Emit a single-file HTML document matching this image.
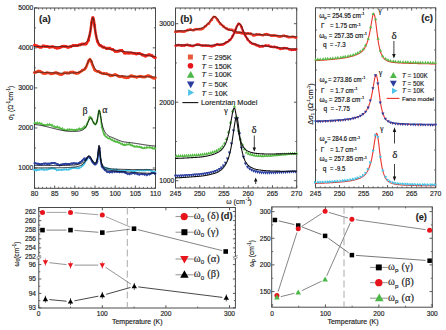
<!DOCTYPE html>
<html><head><meta charset="utf-8"><style>
html,body{margin:0;padding:0;background:#fff;width:446px;height:330px;overflow:hidden}
svg{display:block}
text{stroke:#222;stroke-width:0.16px;stroke-linejoin:round}
</style></head><body>
<svg width="446" height="330" viewBox="0 0 446 330">
<rect width="446" height="330" fill="#fff"/>
<rect x="34.50" y="8.00" width="121.00" height="180.30" fill="none" stroke="#4a4a4a" stroke-width="1"/>
<line x1="38.53" y1="188.30" x2="38.53" y2="186.80" stroke="#4a4a4a" stroke-width="0.8" />
<line x1="38.53" y1="8.00" x2="38.53" y2="9.50" stroke="#4a4a4a" stroke-width="0.8" />
<line x1="42.57" y1="188.30" x2="42.57" y2="186.80" stroke="#4a4a4a" stroke-width="0.8" />
<line x1="42.57" y1="8.00" x2="42.57" y2="9.50" stroke="#4a4a4a" stroke-width="0.8" />
<line x1="46.60" y1="188.30" x2="46.60" y2="186.80" stroke="#4a4a4a" stroke-width="0.8" />
<line x1="46.60" y1="8.00" x2="46.60" y2="9.50" stroke="#4a4a4a" stroke-width="0.8" />
<line x1="50.63" y1="188.30" x2="50.63" y2="186.80" stroke="#4a4a4a" stroke-width="0.8" />
<line x1="50.63" y1="8.00" x2="50.63" y2="9.50" stroke="#4a4a4a" stroke-width="0.8" />
<line x1="58.70" y1="188.30" x2="58.70" y2="186.80" stroke="#4a4a4a" stroke-width="0.8" />
<line x1="58.70" y1="8.00" x2="58.70" y2="9.50" stroke="#4a4a4a" stroke-width="0.8" />
<line x1="62.73" y1="188.30" x2="62.73" y2="186.80" stroke="#4a4a4a" stroke-width="0.8" />
<line x1="62.73" y1="8.00" x2="62.73" y2="9.50" stroke="#4a4a4a" stroke-width="0.8" />
<line x1="66.77" y1="188.30" x2="66.77" y2="186.80" stroke="#4a4a4a" stroke-width="0.8" />
<line x1="66.77" y1="8.00" x2="66.77" y2="9.50" stroke="#4a4a4a" stroke-width="0.8" />
<line x1="70.80" y1="188.30" x2="70.80" y2="186.80" stroke="#4a4a4a" stroke-width="0.8" />
<line x1="70.80" y1="8.00" x2="70.80" y2="9.50" stroke="#4a4a4a" stroke-width="0.8" />
<line x1="78.87" y1="188.30" x2="78.87" y2="186.80" stroke="#4a4a4a" stroke-width="0.8" />
<line x1="78.87" y1="8.00" x2="78.87" y2="9.50" stroke="#4a4a4a" stroke-width="0.8" />
<line x1="82.90" y1="188.30" x2="82.90" y2="186.80" stroke="#4a4a4a" stroke-width="0.8" />
<line x1="82.90" y1="8.00" x2="82.90" y2="9.50" stroke="#4a4a4a" stroke-width="0.8" />
<line x1="86.93" y1="188.30" x2="86.93" y2="186.80" stroke="#4a4a4a" stroke-width="0.8" />
<line x1="86.93" y1="8.00" x2="86.93" y2="9.50" stroke="#4a4a4a" stroke-width="0.8" />
<line x1="90.97" y1="188.30" x2="90.97" y2="186.80" stroke="#4a4a4a" stroke-width="0.8" />
<line x1="90.97" y1="8.00" x2="90.97" y2="9.50" stroke="#4a4a4a" stroke-width="0.8" />
<line x1="99.03" y1="188.30" x2="99.03" y2="186.80" stroke="#4a4a4a" stroke-width="0.8" />
<line x1="99.03" y1="8.00" x2="99.03" y2="9.50" stroke="#4a4a4a" stroke-width="0.8" />
<line x1="103.07" y1="188.30" x2="103.07" y2="186.80" stroke="#4a4a4a" stroke-width="0.8" />
<line x1="103.07" y1="8.00" x2="103.07" y2="9.50" stroke="#4a4a4a" stroke-width="0.8" />
<line x1="107.10" y1="188.30" x2="107.10" y2="186.80" stroke="#4a4a4a" stroke-width="0.8" />
<line x1="107.10" y1="8.00" x2="107.10" y2="9.50" stroke="#4a4a4a" stroke-width="0.8" />
<line x1="111.13" y1="188.30" x2="111.13" y2="186.80" stroke="#4a4a4a" stroke-width="0.8" />
<line x1="111.13" y1="8.00" x2="111.13" y2="9.50" stroke="#4a4a4a" stroke-width="0.8" />
<line x1="119.20" y1="188.30" x2="119.20" y2="186.80" stroke="#4a4a4a" stroke-width="0.8" />
<line x1="119.20" y1="8.00" x2="119.20" y2="9.50" stroke="#4a4a4a" stroke-width="0.8" />
<line x1="123.23" y1="188.30" x2="123.23" y2="186.80" stroke="#4a4a4a" stroke-width="0.8" />
<line x1="123.23" y1="8.00" x2="123.23" y2="9.50" stroke="#4a4a4a" stroke-width="0.8" />
<line x1="127.27" y1="188.30" x2="127.27" y2="186.80" stroke="#4a4a4a" stroke-width="0.8" />
<line x1="127.27" y1="8.00" x2="127.27" y2="9.50" stroke="#4a4a4a" stroke-width="0.8" />
<line x1="131.30" y1="188.30" x2="131.30" y2="186.80" stroke="#4a4a4a" stroke-width="0.8" />
<line x1="131.30" y1="8.00" x2="131.30" y2="9.50" stroke="#4a4a4a" stroke-width="0.8" />
<line x1="139.37" y1="188.30" x2="139.37" y2="186.80" stroke="#4a4a4a" stroke-width="0.8" />
<line x1="139.37" y1="8.00" x2="139.37" y2="9.50" stroke="#4a4a4a" stroke-width="0.8" />
<line x1="143.40" y1="188.30" x2="143.40" y2="186.80" stroke="#4a4a4a" stroke-width="0.8" />
<line x1="143.40" y1="8.00" x2="143.40" y2="9.50" stroke="#4a4a4a" stroke-width="0.8" />
<line x1="147.43" y1="188.30" x2="147.43" y2="186.80" stroke="#4a4a4a" stroke-width="0.8" />
<line x1="147.43" y1="8.00" x2="147.43" y2="9.50" stroke="#4a4a4a" stroke-width="0.8" />
<line x1="151.47" y1="188.30" x2="151.47" y2="186.80" stroke="#4a4a4a" stroke-width="0.8" />
<line x1="151.47" y1="8.00" x2="151.47" y2="9.50" stroke="#4a4a4a" stroke-width="0.8" />
<line x1="34.50" y1="188.30" x2="34.50" y2="185.50" stroke="#4a4a4a" stroke-width="0.9" />
<line x1="34.50" y1="8.00" x2="34.50" y2="10.80" stroke="#4a4a4a" stroke-width="0.9" />
<text x="34.50" y="196.00" font-size="6.8" text-anchor="middle" font-weight="normal" font-style="normal" fill="#222" font-family='"Liberation Sans", sans-serif' >80</text>
<line x1="54.67" y1="188.30" x2="54.67" y2="185.50" stroke="#4a4a4a" stroke-width="0.9" />
<line x1="54.67" y1="8.00" x2="54.67" y2="10.80" stroke="#4a4a4a" stroke-width="0.9" />
<text x="54.67" y="196.00" font-size="6.8" text-anchor="middle" font-weight="normal" font-style="normal" fill="#222" font-family='"Liberation Sans", sans-serif' >85</text>
<line x1="74.83" y1="188.30" x2="74.83" y2="185.50" stroke="#4a4a4a" stroke-width="0.9" />
<line x1="74.83" y1="8.00" x2="74.83" y2="10.80" stroke="#4a4a4a" stroke-width="0.9" />
<text x="74.83" y="196.00" font-size="6.8" text-anchor="middle" font-weight="normal" font-style="normal" fill="#222" font-family='"Liberation Sans", sans-serif' >90</text>
<line x1="95.00" y1="188.30" x2="95.00" y2="185.50" stroke="#4a4a4a" stroke-width="0.9" />
<line x1="95.00" y1="8.00" x2="95.00" y2="10.80" stroke="#4a4a4a" stroke-width="0.9" />
<text x="95.00" y="196.00" font-size="6.8" text-anchor="middle" font-weight="normal" font-style="normal" fill="#222" font-family='"Liberation Sans", sans-serif' >95</text>
<line x1="115.17" y1="188.30" x2="115.17" y2="185.50" stroke="#4a4a4a" stroke-width="0.9" />
<line x1="115.17" y1="8.00" x2="115.17" y2="10.80" stroke="#4a4a4a" stroke-width="0.9" />
<text x="115.17" y="196.00" font-size="6.8" text-anchor="middle" font-weight="normal" font-style="normal" fill="#222" font-family='"Liberation Sans", sans-serif' >100</text>
<line x1="135.33" y1="188.30" x2="135.33" y2="185.50" stroke="#4a4a4a" stroke-width="0.9" />
<line x1="135.33" y1="8.00" x2="135.33" y2="10.80" stroke="#4a4a4a" stroke-width="0.9" />
<text x="135.33" y="196.00" font-size="6.8" text-anchor="middle" font-weight="normal" font-style="normal" fill="#222" font-family='"Liberation Sans", sans-serif' >105</text>
<line x1="155.50" y1="188.30" x2="155.50" y2="185.50" stroke="#4a4a4a" stroke-width="0.9" />
<line x1="155.50" y1="8.00" x2="155.50" y2="10.80" stroke="#4a4a4a" stroke-width="0.9" />
<text x="155.50" y="196.00" font-size="6.8" text-anchor="middle" font-weight="normal" font-style="normal" fill="#222" font-family='"Liberation Sans", sans-serif' >110</text>
<line x1="34.50" y1="188.03" x2="36.00" y2="188.03" stroke="#4a4a4a" stroke-width="0.8" />
<line x1="155.50" y1="188.03" x2="154.00" y2="188.03" stroke="#4a4a4a" stroke-width="0.8" />
<line x1="34.50" y1="147.98" x2="36.00" y2="147.98" stroke="#4a4a4a" stroke-width="0.8" />
<line x1="155.50" y1="147.98" x2="154.00" y2="147.98" stroke="#4a4a4a" stroke-width="0.8" />
<line x1="34.50" y1="107.92" x2="36.00" y2="107.92" stroke="#4a4a4a" stroke-width="0.8" />
<line x1="155.50" y1="107.92" x2="154.00" y2="107.92" stroke="#4a4a4a" stroke-width="0.8" />
<line x1="34.50" y1="67.88" x2="36.00" y2="67.88" stroke="#4a4a4a" stroke-width="0.8" />
<line x1="155.50" y1="67.88" x2="154.00" y2="67.88" stroke="#4a4a4a" stroke-width="0.8" />
<line x1="34.50" y1="27.83" x2="36.00" y2="27.83" stroke="#4a4a4a" stroke-width="0.8" />
<line x1="155.50" y1="27.83" x2="154.00" y2="27.83" stroke="#4a4a4a" stroke-width="0.8" />
<line x1="34.50" y1="168.00" x2="37.30" y2="168.00" stroke="#4a4a4a" stroke-width="0.9" />
<line x1="155.50" y1="168.00" x2="152.70" y2="168.00" stroke="#4a4a4a" stroke-width="0.9" />
<text x="33.30" y="170.45" font-size="6.8" text-anchor="end" font-weight="normal" font-style="normal" fill="#222" font-family='"Liberation Sans", sans-serif' >1000</text>
<line x1="34.50" y1="127.95" x2="37.30" y2="127.95" stroke="#4a4a4a" stroke-width="0.9" />
<line x1="155.50" y1="127.95" x2="152.70" y2="127.95" stroke="#4a4a4a" stroke-width="0.9" />
<text x="33.30" y="130.40" font-size="6.8" text-anchor="end" font-weight="normal" font-style="normal" fill="#222" font-family='"Liberation Sans", sans-serif' >2000</text>
<line x1="34.50" y1="87.90" x2="37.30" y2="87.90" stroke="#4a4a4a" stroke-width="0.9" />
<line x1="155.50" y1="87.90" x2="152.70" y2="87.90" stroke="#4a4a4a" stroke-width="0.9" />
<text x="33.30" y="90.35" font-size="6.8" text-anchor="end" font-weight="normal" font-style="normal" fill="#222" font-family='"Liberation Sans", sans-serif' >3000</text>
<line x1="34.50" y1="47.85" x2="37.30" y2="47.85" stroke="#4a4a4a" stroke-width="0.9" />
<line x1="155.50" y1="47.85" x2="152.70" y2="47.85" stroke="#4a4a4a" stroke-width="0.9" />
<text x="33.30" y="50.30" font-size="6.8" text-anchor="end" font-weight="normal" font-style="normal" fill="#222" font-family='"Liberation Sans", sans-serif' >4000</text>
<line x1="34.50" y1="7.80" x2="37.30" y2="7.80" stroke="#4a4a4a" stroke-width="0.9" />
<line x1="155.50" y1="7.80" x2="152.70" y2="7.80" stroke="#4a4a4a" stroke-width="0.9" />
<text x="33.30" y="10.25" font-size="6.8" text-anchor="end" font-weight="normal" font-style="normal" fill="#222" font-family='"Liberation Sans", sans-serif' >5000</text>
<text x="39.00" y="21.70" font-size="9.6" text-anchor="start" font-weight="bold" font-style="normal" fill="#222" font-family='"Liberation Sans", sans-serif' >(a)</text>
<text transform="translate(12.8,120.3) rotate(-90)" font-size="7.4" textLength="34.5" lengthAdjust="spacingAndGlyphs" font-family='"Liberation Sans", sans-serif' fill="#222">σ<tspan font-size="4.8" dy="1.6">1</tspan><tspan dy="-1.6"> (Ω</tspan><tspan font-size="4.8" dy="-2.8">-1</tspan><tspan dy="2.8">cm</tspan><tspan font-size="4.8" dy="-2.8">-1</tspan><tspan dy="2.8">)</tspan></text>
<polyline points="34.50,45.18 35.00,45.47 35.50,45.20 36.00,45.60 36.50,45.52 37.00,45.76 37.50,46.23 38.00,46.74 38.50,46.46 39.00,46.71 39.50,47.11 40.00,47.40 40.50,47.14 41.00,46.97 41.50,47.29 42.00,46.52 42.50,46.96 43.00,46.43 43.50,46.22 44.00,46.12 44.50,46.22 45.00,46.57 45.50,46.17 46.00,46.52 46.50,46.66 47.00,46.58 47.50,46.80 48.00,46.55 48.50,46.62 49.00,46.76 49.50,47.09 50.00,46.90 50.50,46.78 51.00,46.91 51.50,46.77 52.00,46.63 52.50,46.97 53.00,46.94 53.50,46.70 54.00,47.05 54.50,47.18 55.00,47.61 55.50,47.72 56.00,47.61 56.50,48.28 57.00,47.83 57.50,48.13 58.00,48.39 58.50,47.92 59.00,48.04 59.50,47.54 60.00,47.74 60.50,47.52 61.00,47.09 61.50,47.01 62.00,46.34 62.50,46.38 63.00,46.15 63.50,46.05 64.00,45.94 64.50,46.26 65.00,46.45 65.50,46.28 66.00,46.60 66.50,46.37 67.00,47.00 67.50,47.11 68.00,47.46 68.50,47.38 69.00,46.99 69.50,46.98 70.00,47.06 70.50,46.43 71.00,46.53 71.50,46.11 72.00,45.86 72.50,45.63 73.00,45.97 73.50,45.41 74.00,45.41 74.50,45.46 75.00,45.78 75.50,45.23 76.00,45.49 76.50,45.56 77.00,45.77 77.50,45.68 78.00,45.63 78.50,45.10 79.00,45.06 79.50,44.86 80.00,45.06 80.50,44.95 81.00,44.23 81.50,44.12 82.00,44.06 82.50,44.03 83.00,44.21 83.50,44.30 84.00,44.09 84.50,43.90 85.00,44.13 85.50,43.95 86.00,43.83 86.50,43.69 87.00,42.92 87.50,41.99 88.00,41.00 88.50,39.67 89.00,37.52 89.50,36.00 90.00,33.36 90.50,30.41 91.00,26.93 91.50,23.06 92.00,19.81 92.50,17.42 93.00,17.36 93.50,18.46 94.00,21.46 94.50,25.28 95.00,29.03 95.50,32.61 96.00,35.36 96.50,37.78 97.00,39.86 97.50,41.41 98.00,42.83 98.50,43.55 99.00,44.88 99.50,45.26 100.00,45.35 100.50,45.76 101.00,46.09 101.50,46.33 102.00,46.37 102.50,47.09 103.00,47.40 103.50,47.25 104.00,47.48 104.50,47.40 105.00,47.60 105.50,47.93 106.00,48.01 106.50,48.50 107.00,48.10 107.50,48.05 108.00,48.71 108.50,48.42 109.00,48.16 109.50,48.47 110.00,48.16 110.50,48.61 111.00,49.08 111.50,49.19 112.00,49.32 112.50,49.31 113.00,49.70 113.50,49.89 114.00,50.63 114.50,50.75 115.00,51.18 115.50,51.05 116.00,51.10 116.50,51.56 117.00,51.67 117.50,51.51 118.00,51.36 118.50,51.23 119.00,51.03 119.50,50.55 120.00,50.67 120.50,50.53 121.00,50.34 121.50,50.44 122.00,50.79 122.50,51.02 123.00,51.61 123.50,52.10 124.00,52.07 124.50,52.72 125.00,53.03 125.50,53.24 126.00,53.01 126.50,53.03 127.00,53.10 127.50,53.08 128.00,53.04 128.50,53.26 129.00,53.37 129.50,53.23 130.00,52.91 130.50,52.98 131.00,53.07 131.50,52.59 132.00,53.05 132.50,53.31 133.00,53.32 133.50,53.41 134.00,53.33 134.50,53.21 135.00,53.70 135.50,53.42 136.00,53.76 136.50,53.86 137.00,53.43 137.50,53.39 138.00,53.74 138.50,53.58 139.00,53.21 139.50,53.25 140.00,53.39 140.50,54.09 141.00,54.24 141.50,54.03 142.00,54.79 142.50,55.18 143.00,55.22 143.50,55.24 144.00,55.57 144.50,55.41 145.00,55.39 145.50,56.05 146.00,55.76 146.50,55.55 147.00,55.68 147.50,55.17 148.00,55.32 148.50,55.16 149.00,54.65 149.50,54.67 150.00,54.75 150.50,54.85 151.00,55.30 151.50,55.34 152.00,55.77 152.50,55.91 153.00,56.81 153.50,56.75 154.00,57.12 154.50,57.46 155.00,57.87 155.50,57.66" fill="none" stroke="#f02418" stroke-width="2.6" stroke-linejoin="round" stroke-linecap="round" />
<rect x="33.45" y="43.89" width="2.60" height="2.60" fill="#f02418"/>
<rect x="36.22" y="44.95" width="2.60" height="2.60" fill="#f02418"/>
<rect x="38.91" y="45.80" width="2.60" height="2.60" fill="#f02418"/>
<rect x="42.01" y="44.52" width="2.60" height="2.60" fill="#f02418"/>
<rect x="45.38" y="45.09" width="2.60" height="2.60" fill="#f02418"/>
<rect x="48.18" y="45.97" width="2.60" height="2.60" fill="#f02418"/>
<rect x="51.23" y="45.54" width="2.60" height="2.60" fill="#f02418"/>
<rect x="54.21" y="46.46" width="2.60" height="2.60" fill="#f02418"/>
<rect x="57.37" y="46.31" width="2.60" height="2.60" fill="#f02418"/>
<rect x="60.24" y="45.50" width="2.60" height="2.60" fill="#f02418"/>
<rect x="63.07" y="45.18" width="2.60" height="2.60" fill="#f02418"/>
<rect x="66.20" y="45.86" width="2.60" height="2.60" fill="#f02418"/>
<rect x="69.36" y="45.46" width="2.60" height="2.60" fill="#f02418"/>
<rect x="72.17" y="44.20" width="2.60" height="2.60" fill="#f02418"/>
<rect x="75.20" y="44.27" width="2.60" height="2.60" fill="#f02418"/>
<rect x="78.32" y="43.52" width="2.60" height="2.60" fill="#f02418"/>
<rect x="81.22" y="42.72" width="2.60" height="2.60" fill="#f02418"/>
<rect x="84.46" y="42.81" width="2.60" height="2.60" fill="#f02418"/>
<rect x="87.43" y="38.73" width="2.60" height="2.60" fill="#f02418"/>
<rect x="90.06" y="21.80" width="2.60" height="2.60" fill="#f02418"/>
<rect x="93.47" y="24.25" width="2.60" height="2.60" fill="#f02418"/>
<rect x="95.98" y="39.81" width="2.60" height="2.60" fill="#f02418"/>
<rect x="99.17" y="44.11" width="2.60" height="2.60" fill="#f02418"/>
<rect x="102.04" y="45.61" width="2.60" height="2.60" fill="#f02418"/>
<rect x="105.30" y="47.43" width="2.60" height="2.60" fill="#f02418"/>
<rect x="108.44" y="46.89" width="2.60" height="2.60" fill="#f02418"/>
<rect x="111.33" y="48.14" width="2.60" height="2.60" fill="#f02418"/>
<rect x="113.99" y="50.06" width="2.60" height="2.60" fill="#f02418"/>
<rect x="117.48" y="49.70" width="2.60" height="2.60" fill="#f02418"/>
<rect x="120.47" y="49.06" width="2.60" height="2.60" fill="#f02418"/>
<rect x="123.19" y="51.81" width="2.60" height="2.60" fill="#f02418"/>
<rect x="126.40" y="51.51" width="2.60" height="2.60" fill="#f02418"/>
<rect x="129.16" y="51.69" width="2.60" height="2.60" fill="#f02418"/>
<rect x="132.10" y="51.87" width="2.60" height="2.60" fill="#f02418"/>
<rect x="135.09" y="52.74" width="2.60" height="2.60" fill="#f02418"/>
<rect x="137.91" y="52.00" width="2.60" height="2.60" fill="#f02418"/>
<rect x="141.16" y="53.49" width="2.60" height="2.60" fill="#f02418"/>
<rect x="144.10" y="54.85" width="2.60" height="2.60" fill="#f02418"/>
<rect x="147.21" y="53.51" width="2.60" height="2.60" fill="#f02418"/>
<rect x="150.49" y="54.27" width="2.60" height="2.60" fill="#f02418"/>
<rect x="153.48" y="55.84" width="2.60" height="2.60" fill="#f02418"/>
<polyline points="34.50,46.53 35.00,46.53 35.50,46.53 36.00,46.53 36.50,46.53 37.00,46.53 37.50,46.53 38.00,46.53 38.50,46.53 39.00,46.53 39.50,46.54 40.00,46.54 40.50,46.54 41.00,46.54 41.50,46.54 42.00,46.54 42.50,46.54 43.00,46.54 43.50,46.54 44.00,46.54 44.50,46.54 45.00,46.55 45.50,46.55 46.00,46.55 46.50,46.55 47.00,46.55 47.50,46.55 48.00,46.55 48.50,46.55 49.00,46.55 49.50,46.55 50.00,46.55 50.50,46.55 51.00,46.56 51.50,46.56 52.00,46.56 52.50,46.56 53.00,46.56 53.50,46.56 54.00,46.56 54.50,46.55 55.00,46.55 55.50,46.55 56.00,46.55 56.50,46.55 57.00,46.55 57.50,46.55 58.00,46.55 58.50,46.54 59.00,46.54 59.50,46.54 60.00,46.53 60.50,46.53 61.00,46.53 61.50,46.52 62.00,46.52 62.50,46.51 63.00,46.51 63.50,46.50 64.00,46.49 64.50,46.49 65.00,46.48 65.50,46.47 66.00,46.46 66.50,46.45 67.00,46.44 67.50,46.43 68.00,46.41 68.50,46.40 69.00,46.38 69.50,46.37 70.00,46.35 70.50,46.32 71.00,46.29 71.50,46.25 72.00,46.22 72.50,46.17 73.00,46.13 73.50,46.08 74.00,46.03 74.50,45.97 75.00,45.91 75.50,45.85 76.00,45.79 76.50,45.71 77.00,45.64 77.50,45.56 78.00,45.48 78.50,45.39 79.00,45.29 79.50,45.19 80.00,45.07 80.50,44.95 81.00,44.82 81.50,44.67 82.00,44.51 82.50,44.37 83.00,44.22 83.50,44.03 84.00,43.82 84.50,43.56 85.00,43.26 85.50,42.90 86.00,42.47 86.50,41.95 87.00,41.30 87.50,40.52 88.00,39.54 88.50,38.33 89.00,36.83 89.50,34.95 90.00,32.64 90.50,29.86 91.00,26.64 91.50,23.21 92.00,20.05 92.50,17.89 93.00,17.40 93.50,18.79 94.00,21.61 94.50,25.13 95.00,28.69 95.50,31.92 96.00,34.67 96.50,36.96 97.00,38.84 97.50,40.38 98.00,41.64 98.50,42.68 99.00,43.54 99.50,44.27 100.00,44.88 100.50,45.41 101.00,45.86 101.50,46.25 102.00,46.60 102.50,46.90 103.00,47.16 103.50,47.39 104.00,47.60 104.50,47.79 105.00,47.95 105.50,48.10 106.00,48.23 106.50,48.36 107.00,48.49 107.50,48.61 108.00,48.72 108.50,48.83 109.00,48.94 109.50,49.05 110.00,49.16 110.50,49.26 111.00,49.37 111.50,49.47 112.00,49.57 112.50,49.68 113.00,49.78 113.50,49.88 114.00,49.97 114.50,50.07 115.00,50.17 115.50,50.26 116.00,50.36 116.50,50.45 117.00,50.54 117.50,50.62 118.00,50.71 118.50,50.79 119.00,50.87 119.50,50.95 120.00,51.02 120.50,51.09 121.00,51.16 121.50,51.22 122.00,51.29 122.50,51.34 123.00,51.40 123.50,51.44 124.00,51.49 124.50,51.53 125.00,51.57 125.50,51.62 126.00,51.67 126.50,51.72 127.00,51.78 127.50,51.84 128.00,51.90 128.50,51.97 129.00,52.03 129.50,52.10 130.00,52.18 130.50,52.25 131.00,52.33 131.50,52.41 132.00,52.49 132.50,52.58 133.00,52.67 133.50,52.75 134.00,52.85 134.50,52.94 135.00,53.03 135.50,53.13 136.00,53.23 136.50,53.33 137.00,53.43 137.50,53.53 138.00,53.63 138.50,53.73 139.00,53.83 139.50,53.94 140.00,54.04 140.50,54.14 141.00,54.25 141.50,54.35 142.00,54.46 142.50,54.56 143.00,54.66 143.50,54.76 144.00,54.86 144.50,54.96 145.00,55.06 145.50,55.15 146.00,55.25 146.50,55.34 147.00,55.43 147.50,55.52 148.00,55.61 148.50,55.69 149.00,55.78 149.50,55.86 150.00,55.93 150.50,56.01 151.00,56.08 151.50,56.15 152.00,56.22 152.50,56.28 153.00,56.34 153.50,56.40 154.00,56.45 154.50,56.50 155.00,56.55 155.50,56.60" fill="none" stroke="#222" stroke-width="0.75" stroke-linejoin="round" stroke-linecap="round" />
<polyline points="34.50,72.70 35.00,72.62 35.50,72.15 36.00,71.93 36.50,72.29 37.00,71.83 37.50,71.70 38.00,71.09 38.50,70.93 39.00,71.30 39.50,71.14 40.00,71.01 40.50,71.82 41.00,71.88 41.50,72.32 42.00,72.15 42.50,73.02 43.00,72.75 43.50,73.53 44.00,73.40 44.50,73.39 45.00,73.54 45.50,73.75 46.00,73.20 46.50,73.01 47.00,73.21 47.50,72.95 48.00,72.86 48.50,72.94 49.00,72.95 49.50,73.18 50.00,73.39 50.50,73.52 51.00,73.94 51.50,73.66 52.00,73.80 52.50,73.51 53.00,73.51 53.50,73.11 54.00,73.09 54.50,72.75 55.00,73.11 55.50,72.89 56.00,72.61 56.50,72.87 57.00,73.33 57.50,72.96 58.00,73.71 58.50,73.71 59.00,74.01 59.50,74.47 60.00,74.31 60.50,74.47 61.00,74.59 61.50,74.70 62.00,74.09 62.50,74.21 63.00,73.88 63.50,73.59 64.00,73.22 64.50,73.00 65.00,72.68 65.50,72.68 66.00,72.63 66.50,73.13 67.00,72.84 67.50,72.82 68.00,72.78 68.50,73.30 69.00,73.25 69.50,73.00 70.00,72.57 70.50,72.36 71.00,72.22 71.50,72.17 72.00,71.85 72.50,72.00 73.00,71.90 73.50,72.49 74.00,72.67 74.50,72.59 75.00,72.63 75.50,73.39 76.00,73.15 76.50,73.34 77.00,73.17 77.50,73.42 78.00,73.37 78.50,73.19 79.00,72.70 79.50,72.58 80.00,71.87 80.50,71.70 81.00,71.23 81.50,71.13 82.00,70.60 82.50,70.32 83.00,70.26 83.50,69.92 84.00,69.83 84.50,69.37 85.00,68.97 85.50,68.20 86.00,67.38 86.50,66.45 87.00,64.92 87.50,63.57 88.00,62.70 88.50,60.88 89.00,60.27 89.50,59.58 90.00,59.03 90.50,59.99 91.00,60.92 91.50,61.99 92.00,63.50 92.50,65.04 93.00,65.98 93.50,67.50 94.00,68.53 94.50,69.60 95.00,70.21 95.50,70.68 96.00,70.83 96.50,71.26 97.00,71.26 97.50,71.40 98.00,71.21 98.50,71.24 99.00,71.51 99.50,71.92 100.00,72.01 100.50,72.81 101.00,72.89 101.50,73.20 102.00,73.42 102.50,73.61 103.00,73.58 103.50,73.29 104.00,73.86 104.50,73.82 105.00,73.64 105.50,73.68 106.00,73.83 106.50,73.54 107.00,74.19 107.50,74.08 108.00,74.23 108.50,74.66 109.00,75.27 109.50,75.16 110.00,75.73 110.50,76.02 111.00,75.73 111.50,75.61 112.00,75.57 112.50,75.55 113.00,75.42 113.50,75.13 114.00,75.00 114.50,74.51 115.00,74.54 115.50,74.68 116.00,75.17 116.50,75.07 117.00,75.52 117.50,75.41 118.00,75.73 118.50,76.13 119.00,76.61 119.50,76.77 120.00,76.85 120.50,76.60 121.00,76.73 121.50,76.66 122.00,76.62 122.50,76.36 123.00,76.93 123.50,76.51 124.00,77.17 124.50,77.30 125.00,76.84 125.50,77.33 126.00,77.75 126.50,77.97 127.00,77.65 127.50,77.50 128.00,77.34 128.50,77.67 129.00,76.91 129.50,76.89 130.00,76.30 130.50,76.30 131.00,76.39 131.50,75.68 132.00,76.10 132.50,75.91 133.00,76.28 133.50,76.32 134.00,76.20 134.50,76.88 135.00,76.79 135.50,76.63 136.00,76.72 136.50,77.10 137.00,77.04 137.50,76.86 138.00,76.63 138.50,76.64 139.00,76.50 139.50,76.78 140.00,76.14 140.50,76.67 141.00,76.78 141.50,76.37 142.00,77.05 142.50,77.02 143.00,77.25 143.50,76.87 144.00,76.93 144.50,76.87 145.00,77.17 145.50,76.69 146.00,76.32 146.50,76.14 147.00,75.83 147.50,75.51 148.00,75.46 148.50,75.97 149.00,75.67 149.50,76.31 150.00,76.08 150.50,76.39 151.00,76.88 151.50,76.97 152.00,77.38 152.50,78.01 153.00,78.11 153.50,78.13 154.00,78.01 154.50,78.16 155.00,78.09 155.50,77.71" fill="none" stroke="#f0401e" stroke-width="2.6" stroke-linejoin="round" stroke-linecap="round" />
<circle cx="34.63" cy="72.34" r="1.35" fill="#f0401e"/>
<circle cx="37.64" cy="71.66" r="1.35" fill="#f0401e"/>
<circle cx="40.65" cy="71.94" r="1.35" fill="#f0401e"/>
<circle cx="43.37" cy="73.17" r="1.35" fill="#f0401e"/>
<circle cx="46.76" cy="72.71" r="1.35" fill="#f0401e"/>
<circle cx="49.48" cy="73.05" r="1.35" fill="#f0401e"/>
<circle cx="52.38" cy="73.70" r="1.35" fill="#f0401e"/>
<circle cx="55.79" cy="72.70" r="1.35" fill="#f0401e"/>
<circle cx="58.59" cy="73.55" r="1.35" fill="#f0401e"/>
<circle cx="61.53" cy="74.62" r="1.35" fill="#f0401e"/>
<circle cx="64.30" cy="72.73" r="1.35" fill="#f0401e"/>
<circle cx="67.32" cy="73.14" r="1.35" fill="#f0401e"/>
<circle cx="70.50" cy="72.14" r="1.35" fill="#f0401e"/>
<circle cx="73.74" cy="72.89" r="1.35" fill="#f0401e"/>
<circle cx="76.47" cy="73.05" r="1.35" fill="#f0401e"/>
<circle cx="79.32" cy="72.25" r="1.35" fill="#f0401e"/>
<circle cx="82.41" cy="69.99" r="1.35" fill="#f0401e"/>
<circle cx="85.34" cy="68.01" r="1.35" fill="#f0401e"/>
<circle cx="88.54" cy="61.19" r="1.35" fill="#f0401e"/>
<circle cx="91.65" cy="61.92" r="1.35" fill="#f0401e"/>
<circle cx="94.45" cy="69.62" r="1.35" fill="#f0401e"/>
<circle cx="97.43" cy="71.27" r="1.35" fill="#f0401e"/>
<circle cx="100.24" cy="72.63" r="1.35" fill="#f0401e"/>
<circle cx="103.78" cy="73.00" r="1.35" fill="#f0401e"/>
<circle cx="106.50" cy="73.64" r="1.35" fill="#f0401e"/>
<circle cx="109.72" cy="74.93" r="1.35" fill="#f0401e"/>
<circle cx="112.36" cy="75.35" r="1.35" fill="#f0401e"/>
<circle cx="115.44" cy="74.64" r="1.35" fill="#f0401e"/>
<circle cx="118.77" cy="76.40" r="1.35" fill="#f0401e"/>
<circle cx="121.72" cy="76.27" r="1.35" fill="#f0401e"/>
<circle cx="124.22" cy="77.47" r="1.35" fill="#f0401e"/>
<circle cx="127.74" cy="77.47" r="1.35" fill="#f0401e"/>
<circle cx="130.55" cy="75.90" r="1.35" fill="#f0401e"/>
<circle cx="133.43" cy="76.66" r="1.35" fill="#f0401e"/>
<circle cx="136.70" cy="77.38" r="1.35" fill="#f0401e"/>
<circle cx="139.78" cy="76.57" r="1.35" fill="#f0401e"/>
<circle cx="142.27" cy="76.74" r="1.35" fill="#f0401e"/>
<circle cx="145.51" cy="76.84" r="1.35" fill="#f0401e"/>
<circle cx="148.76" cy="76.15" r="1.35" fill="#f0401e"/>
<circle cx="151.59" cy="77.18" r="1.35" fill="#f0401e"/>
<circle cx="154.47" cy="78.20" r="1.35" fill="#f0401e"/>
<polyline points="34.50,72.12 35.00,72.13 35.50,72.14 36.00,72.15 36.50,72.16 37.00,72.18 37.50,72.19 38.00,72.20 38.50,72.22 39.00,72.23 39.50,72.25 40.00,72.27 40.50,72.29 41.00,72.30 41.50,72.32 42.00,72.34 42.50,72.36 43.00,72.38 43.50,72.40 44.00,72.43 44.50,72.45 45.00,72.47 45.50,72.49 46.00,72.52 46.50,72.54 47.00,72.56 47.50,72.59 48.00,72.61 48.50,72.63 49.00,72.66 49.50,72.68 50.00,72.71 50.50,72.73 51.00,72.75 51.50,72.78 52.00,72.80 52.50,72.82 53.00,72.84 53.50,72.87 54.00,72.89 54.50,72.91 55.00,72.93 55.50,72.95 56.00,72.97 56.50,72.99 57.00,73.01 57.50,73.03 58.00,73.04 58.50,73.06 59.00,73.07 59.50,73.09 60.00,73.10 60.50,73.11 61.00,73.12 61.50,73.13 62.00,73.14 62.50,73.15 63.00,73.16 63.50,73.16 64.00,73.16 64.50,73.16 65.00,73.16 65.50,73.16 66.00,73.16 66.50,73.15 67.00,73.14 67.50,73.13 68.00,73.12 68.50,73.11 69.00,73.10 69.50,73.08 70.00,73.07 70.50,73.05 71.00,73.03 71.50,73.01 72.00,72.99 72.50,72.97 73.00,72.94 73.50,72.91 74.00,72.87 74.50,72.83 75.00,72.79 75.50,72.74 76.00,72.69 76.50,72.63 77.00,72.56 77.50,72.48 78.00,72.39 78.50,72.28 79.00,72.17 79.50,72.04 80.00,71.88 80.50,71.71 81.00,71.51 81.50,71.28 82.00,71.01 82.50,70.70 83.00,70.34 83.50,69.92 84.00,69.43 84.50,68.86 85.00,68.20 85.50,67.43 86.00,66.54 86.50,65.53 87.00,64.42 87.50,63.21 88.00,61.98 88.50,60.81 89.00,59.83 89.50,59.18 90.00,58.96 90.50,59.22 91.00,59.92 91.50,60.93 92.00,62.14 92.50,63.42 93.00,64.66 93.50,65.82 94.00,66.87 94.50,67.79 95.00,68.60 95.50,69.30 96.00,69.91 96.50,70.44 97.00,70.89 97.50,71.29 98.00,71.64 98.50,71.94 99.00,72.20 99.50,72.44 100.00,72.64 100.50,72.83 101.00,72.99 101.50,73.15 102.00,73.29 102.50,73.43 103.00,73.55 103.50,73.67 104.00,73.78 104.50,73.89 105.00,73.99 105.50,74.09 106.00,74.19 106.50,74.28 107.00,74.37 107.50,74.45 108.00,74.54 108.50,74.62 109.00,74.70 109.50,74.78 110.00,74.86 110.50,74.93 111.00,75.00 111.50,75.08 112.00,75.15 112.50,75.21 113.00,75.28 113.50,75.34 114.00,75.40 114.50,75.46 115.00,75.52 115.50,75.57 116.00,75.62 116.50,75.67 117.00,75.71 117.50,75.76 118.00,75.80 118.50,75.83 119.00,75.87 119.50,75.90 120.00,75.93 120.50,75.94 121.00,75.96 121.50,75.97 122.00,75.99 122.50,76.00 123.00,76.02 123.50,76.03 124.00,76.04 124.50,76.06 125.00,76.07 125.50,76.09 126.00,76.10 126.50,76.12 127.00,76.13 127.50,76.15 128.00,76.17 128.50,76.18 129.00,76.20 129.50,76.21 130.00,76.23 130.50,76.25 131.00,76.26 131.50,76.28 132.00,76.29 132.50,76.31 133.00,76.33 133.50,76.34 134.00,76.36 134.50,76.38 135.00,76.39 135.50,76.41 136.00,76.43 136.50,76.44 137.00,76.46 137.50,76.48 138.00,76.49 138.50,76.51 139.00,76.53 139.50,76.54 140.00,76.56 140.50,76.57 141.00,76.59 141.50,76.61 142.00,76.62 142.50,76.64 143.00,76.65 143.50,76.67 144.00,76.68 144.50,76.70 145.00,76.71 145.50,76.72 146.00,76.74 146.50,76.75 147.00,76.77 147.50,76.78 148.00,76.79 148.50,76.80 149.00,76.82 149.50,76.83 150.00,76.84 150.50,76.85 151.00,76.86 151.50,76.87 152.00,76.88 152.50,76.89 153.00,76.90 153.50,76.91 154.00,76.91 154.50,76.92 155.00,76.93 155.50,76.94" fill="none" stroke="#222" stroke-width="0.75" stroke-linejoin="round" stroke-linecap="round" />
<polyline points="34.50,123.09 35.00,123.21 35.50,123.43 36.00,123.47 36.50,123.19 37.00,123.16 37.50,123.39 38.00,123.44 38.50,123.38 39.00,123.37 39.50,123.66 40.00,123.50 40.50,123.81 41.00,124.07 41.50,124.51 42.00,124.56 42.50,124.87 43.00,124.85 43.50,124.87 44.00,124.99 44.50,125.41 45.00,125.31 45.50,125.11 46.00,124.93 46.50,125.10 47.00,125.12 47.50,124.93 48.00,124.80 48.50,124.97 49.00,125.11 49.50,124.81 50.00,124.81 50.50,125.09 51.00,125.30 51.50,125.62 52.00,125.60 52.50,126.11 53.00,126.31 53.50,126.40 54.00,126.44 54.50,126.98 55.00,126.80 55.50,127.17 56.00,126.98 56.50,127.07 57.00,127.42 57.50,127.29 58.00,127.72 58.50,127.63 59.00,127.63 59.50,127.84 60.00,128.15 60.50,128.51 61.00,128.91 61.50,128.78 62.00,129.16 62.50,129.31 63.00,129.89 63.50,129.66 64.00,129.74 64.50,129.83 65.00,130.03 65.50,130.27 66.00,130.22 66.50,130.07 67.00,130.11 67.50,129.99 68.00,129.61 68.50,129.48 69.00,129.81 69.50,129.71 70.00,129.38 70.50,129.75 71.00,129.68 71.50,129.75 72.00,129.81 72.50,129.81 73.00,129.80 73.50,129.98 74.00,130.04 74.50,130.33 75.00,129.88 75.50,130.22 76.00,129.76 76.50,129.72 77.00,129.83 77.50,129.71 78.00,129.40 78.50,129.12 79.00,129.24 79.50,129.13 80.00,129.34 80.50,128.94 81.00,128.97 81.50,129.16 82.00,128.62 82.50,128.65 83.00,128.62 83.50,128.28 84.00,127.52 84.50,126.99 85.00,127.96 85.50,127.60 86.00,126.37 86.50,125.57 87.00,124.47 87.50,122.92 88.00,121.54 88.50,120.52 89.00,119.10 89.50,117.89 90.00,117.44 90.50,117.03 91.00,117.29 91.50,117.87 92.00,119.26 92.50,120.52 93.00,121.57 93.50,122.80 94.00,123.24 94.50,123.98 95.00,124.43 95.50,124.65 96.00,124.21 96.50,122.97 97.00,121.28 97.50,118.95 98.00,115.82 98.50,112.71 99.00,110.28 99.50,111.00 100.00,112.97 100.50,115.97 101.00,119.15 101.50,124.86 102.00,127.33 102.50,129.50 103.00,131.31 103.50,132.97 104.00,133.81 104.50,134.82 105.00,135.86 105.50,136.23 106.00,136.63 106.50,137.02 107.00,137.60 107.50,137.77 108.00,138.35 108.50,138.53 109.00,138.81 109.50,138.68 110.00,138.82 110.50,139.06 111.00,139.51 111.50,139.89 112.00,140.04 112.50,140.22 113.00,140.58 113.50,140.93 114.00,141.18 114.50,141.41 115.00,141.64 115.50,141.70 116.00,141.57 116.50,142.06 117.00,141.92 117.50,142.20 118.00,142.27 118.50,142.63 119.00,142.58 119.50,142.84 120.00,143.10 120.50,143.32 121.00,143.96 121.50,144.08 122.00,144.21 122.50,144.46 123.00,144.94 123.50,144.85 124.00,144.80 124.50,145.13 125.00,145.05 125.50,145.14 126.00,144.62 126.50,144.71 127.00,144.79 127.50,144.73 128.00,144.73 128.50,144.30 129.00,144.47 129.50,144.47 130.00,144.64 130.50,145.19 131.00,145.19 131.50,145.57 132.00,145.52 132.50,145.97 133.00,145.97 133.50,146.05 134.00,146.45 134.50,146.65 135.00,146.33 135.50,146.63 136.00,146.69 136.50,146.53 137.00,146.64 137.50,146.58 138.00,146.67 138.50,146.79 139.00,147.07 139.50,147.23 140.00,147.16 140.50,147.24 141.00,147.57 141.50,147.91 142.00,147.82 142.50,148.01 143.00,148.04 143.50,148.38 144.00,148.27 144.50,148.00 145.00,147.95 145.50,147.99 146.00,147.95 146.50,147.87 147.00,147.48 147.50,147.41 148.00,147.60 148.50,147.43 149.00,147.37 149.50,147.43 150.00,147.83 150.50,147.63 151.00,147.89 151.50,147.94 152.00,148.12 152.50,148.49 153.00,148.68 153.50,148.48 154.00,148.47 154.50,148.77 155.00,148.53 155.50,148.43" fill="none" stroke="#55bb44" stroke-width="1.6" stroke-linejoin="round" stroke-linecap="round" />
<polygon points="34.74,120.92 36.14,123.44 33.34,123.44" fill="#55bb44"/>
<polygon points="37.19,120.98 38.59,123.50 35.79,123.50" fill="#55bb44"/>
<polygon points="39.73,121.51 41.13,124.03 38.33,124.03" fill="#55bb44"/>
<polygon points="41.80,122.06 43.20,124.58 40.40,124.58" fill="#55bb44"/>
<polygon points="44.53,123.41 45.93,125.93 43.13,125.93" fill="#55bb44"/>
<polygon points="47.25,122.68 48.65,125.20 45.85,125.20" fill="#55bb44"/>
<polygon points="49.57,122.60 50.97,125.12 48.17,125.12" fill="#55bb44"/>
<polygon points="52.00,123.20 53.40,125.72 50.60,125.72" fill="#55bb44"/>
<polygon points="54.37,124.89 55.77,127.41 52.97,127.41" fill="#55bb44"/>
<polygon points="57.26,125.00 58.66,127.52 55.86,127.52" fill="#55bb44"/>
<polygon points="59.49,125.97 60.89,128.49 58.09,128.49" fill="#55bb44"/>
<polygon points="62.28,126.80 63.68,129.32 60.88,129.32" fill="#55bb44"/>
<polygon points="64.28,128.07 65.68,130.59 62.88,130.59" fill="#55bb44"/>
<polygon points="67.29,127.99 68.69,130.51 65.89,130.51" fill="#55bb44"/>
<polygon points="69.23,127.94 70.63,130.46 67.83,130.46" fill="#55bb44"/>
<polygon points="71.93,128.02 73.33,130.54 70.53,130.54" fill="#55bb44"/>
<polygon points="74.57,128.47 75.97,130.99 73.17,130.99" fill="#55bb44"/>
<polygon points="76.80,127.94 78.20,130.46 75.40,130.46" fill="#55bb44"/>
<polygon points="79.33,126.94 80.73,129.46 77.93,129.46" fill="#55bb44"/>
<polygon points="82.21,126.78 83.61,129.30 80.81,129.30" fill="#55bb44"/>
<polygon points="84.31,124.65 85.71,127.17 82.91,127.17" fill="#55bb44"/>
<polygon points="86.94,122.37 88.34,124.89 85.54,124.89" fill="#55bb44"/>
<polygon points="89.43,115.48 90.83,118.00 88.03,118.00" fill="#55bb44"/>
<polygon points="91.85,117.33 93.25,119.85 90.45,119.85" fill="#55bb44"/>
<polygon points="94.74,121.50 96.14,124.02 93.34,124.02" fill="#55bb44"/>
<polygon points="97.04,119.37 98.44,121.89 95.64,121.89" fill="#55bb44"/>
<polygon points="99.22,109.16 100.62,111.68 97.82,111.68" fill="#55bb44"/>
<polygon points="101.77,125.30 103.17,127.82 100.37,127.82" fill="#55bb44"/>
<polygon points="104.53,132.81 105.93,135.33 103.13,135.33" fill="#55bb44"/>
<polygon points="106.88,135.43 108.28,137.95 105.48,137.95" fill="#55bb44"/>
<polygon points="109.55,136.51 110.95,139.03 108.15,139.03" fill="#55bb44"/>
<polygon points="112.10,137.89 113.50,140.41 110.70,140.41" fill="#55bb44"/>
<polygon points="114.46,138.92 115.86,141.44 113.06,141.44" fill="#55bb44"/>
<polygon points="117.07,139.80 118.47,142.32 115.67,142.32" fill="#55bb44"/>
<polygon points="119.34,140.94 120.74,143.46 117.94,143.46" fill="#55bb44"/>
<polygon points="122.17,142.06 123.57,144.58 120.77,144.58" fill="#55bb44"/>
<polygon points="124.31,142.99 125.71,145.51 122.91,145.51" fill="#55bb44"/>
<polygon points="126.76,142.38 128.16,144.90 125.36,144.90" fill="#55bb44"/>
<polygon points="129.46,142.03 130.86,144.55 128.06,144.55" fill="#55bb44"/>
<polygon points="131.97,143.41 133.37,145.93 130.57,145.93" fill="#55bb44"/>
<polygon points="134.22,144.65 135.62,147.17 132.82,147.17" fill="#55bb44"/>
<polygon points="136.75,144.72 138.15,147.24 135.35,147.24" fill="#55bb44"/>
<polygon points="139.67,145.13 141.07,147.65 138.27,147.65" fill="#55bb44"/>
<polygon points="141.73,145.71 143.13,148.23 140.33,148.23" fill="#55bb44"/>
<polygon points="144.43,146.25 145.83,148.77 143.03,148.77" fill="#55bb44"/>
<polygon points="146.78,145.65 148.18,148.17 145.38,148.17" fill="#55bb44"/>
<polygon points="149.80,145.50 151.20,148.02 148.40,148.02" fill="#55bb44"/>
<polygon points="152.19,145.77 153.59,148.29 150.79,148.29" fill="#55bb44"/>
<polygon points="154.79,146.66 156.19,149.18 153.39,149.18" fill="#55bb44"/>
<polyline points="34.50,124.50 35.00,124.55 35.50,124.61 36.00,124.67 36.50,124.73 37.00,124.80 37.50,124.87 38.00,124.94 38.50,125.01 39.00,125.09 39.50,125.18 40.00,125.26 40.50,125.35 41.00,125.44 41.50,125.54 42.00,125.63 42.50,125.73 43.00,125.84 43.50,125.94 44.00,126.05 44.50,126.16 45.00,126.27 45.50,126.38 46.00,126.50 46.50,126.62 47.00,126.74 47.50,126.86 48.00,126.98 48.50,127.11 49.00,127.23 49.50,127.36 50.00,127.48 50.50,127.61 51.00,127.74 51.50,127.87 52.00,128.00 52.50,128.12 53.00,128.25 53.50,128.38 54.00,128.51 54.50,128.64 55.00,128.76 55.50,128.89 56.00,129.01 56.50,129.14 57.00,129.26 57.50,129.38 58.00,129.50 58.50,129.61 59.00,129.73 59.50,129.84 60.00,129.95 60.50,130.06 61.00,130.16 61.50,130.26 62.00,130.36 62.50,130.46 63.00,130.55 63.50,130.64 64.00,130.72 64.50,130.81 65.00,130.88 65.50,130.96 66.00,131.03 66.50,131.09 67.00,131.15 67.50,131.21 68.00,131.26 68.50,131.31 69.00,131.35 69.50,131.39 70.00,131.42 70.50,131.45 71.00,131.47 71.50,131.46 72.00,131.46 72.50,131.45 73.00,131.44 73.50,131.43 74.00,131.42 74.50,131.41 75.00,131.39 75.50,131.37 76.00,131.35 76.50,131.32 77.00,131.29 77.50,131.25 78.00,131.20 78.50,131.14 79.00,131.07 79.50,130.98 80.00,130.88 80.50,130.76 81.00,130.62 81.50,130.45 82.00,130.25 82.50,130.01 83.00,129.73 83.50,129.39 84.00,129.00 84.50,128.53 85.00,127.98 85.50,127.34 86.00,126.58 86.50,125.70 87.00,124.70 87.50,123.58 88.00,122.37 88.50,121.12 89.00,119.92 89.50,118.91 90.00,118.21 90.50,117.94 91.00,118.12 91.50,118.72 92.00,119.61 92.50,120.66 93.00,121.73 93.50,122.70 94.00,123.50 94.50,124.08 95.00,124.39 95.50,124.36 96.00,123.93 96.50,122.99 97.00,121.39 97.50,118.99 98.00,115.83 98.50,112.47 99.00,110.36 99.50,110.69 100.00,112.60 100.50,115.43 101.00,118.50 101.50,121.36 102.00,123.84 102.50,125.92 103.00,127.64 103.50,129.06 104.00,130.26 104.50,131.27 105.00,132.13 105.50,132.88 106.00,133.54 106.50,134.11 107.00,134.62 107.50,135.08 108.00,135.48 108.50,135.83 109.00,136.14 109.50,136.41 110.00,136.64 110.50,136.84 111.00,137.04 111.50,137.24 112.00,137.44 112.50,137.64 113.00,137.84 113.50,138.05 114.00,138.25 114.50,138.46 115.00,138.67 115.50,138.88 116.00,139.09 116.50,139.30 117.00,139.51 117.50,139.72 118.00,139.93 118.50,140.13 119.00,140.33 119.50,140.52 120.00,140.71 120.50,140.88 121.00,141.06 121.50,141.22 122.00,141.37 122.50,141.52 123.00,141.65 123.50,141.77 124.00,141.88 124.50,141.98 125.00,142.07 125.50,142.11 126.00,142.16 126.50,142.21 127.00,142.26 127.50,142.31 128.00,142.36 128.50,142.42 129.00,142.48 129.50,142.54 130.00,142.60 130.50,142.66 131.00,142.72 131.50,142.79 132.00,142.86 132.50,142.93 133.00,143.00 133.50,143.07 134.00,143.14 134.50,143.21 135.00,143.29 135.50,143.37 136.00,143.44 136.50,143.52 137.00,143.60 137.50,143.68 138.00,143.76 138.50,143.84 139.00,143.92 139.50,144.00 140.00,144.08 140.50,144.16 141.00,144.24 141.50,144.32 142.00,144.40 142.50,144.48 143.00,144.56 143.50,144.64 144.00,144.72 144.50,144.79 145.00,144.87 145.50,144.94 146.00,145.02 146.50,145.09 147.00,145.16 147.50,145.23 148.00,145.30 148.50,145.36 149.00,145.43 149.50,145.49 150.00,145.55 150.50,145.61 151.00,145.66 151.50,145.71 152.00,145.77 152.50,145.82 153.00,145.86 153.50,145.91 154.00,145.95 154.50,145.99 155.00,146.03 155.50,146.06" fill="none" stroke="#111" stroke-width="0.9" stroke-linejoin="round" stroke-linecap="round" />
<polyline points="34.50,169.71 35.00,170.02 35.50,169.76 36.00,170.21 36.50,169.88 37.00,170.16 37.50,169.74 38.00,169.88 38.50,170.03 39.00,169.55 39.50,169.49 40.00,169.55 40.50,169.39 41.00,169.19 41.50,169.26 42.00,169.25 42.50,169.72 43.00,169.62 43.50,169.80 44.00,169.45 44.50,169.85 45.00,169.51 45.50,169.75 46.00,169.79 46.50,169.59 47.00,169.79 47.50,169.50 48.00,169.37 48.50,169.37 49.00,168.76 49.50,169.08 50.00,168.72 50.50,168.44 51.00,168.56 51.50,168.19 52.00,168.57 52.50,168.36 53.00,168.31 53.50,168.65 54.00,168.62 54.50,168.65 55.00,169.17 55.50,168.98 56.00,169.61 56.50,169.47 57.00,169.84 57.50,170.15 58.00,170.01 58.50,170.11 59.00,169.92 59.50,169.73 60.00,169.70 60.50,169.70 61.00,169.89 61.50,169.72 62.00,169.69 62.50,169.86 63.00,169.39 63.50,169.43 64.00,169.67 64.50,169.34 65.00,169.35 65.50,169.58 66.00,169.46 66.50,169.62 67.00,169.53 67.50,169.70 68.00,169.63 68.50,169.32 69.00,169.43 69.50,169.19 70.00,168.82 70.50,169.08 71.00,168.50 71.50,168.26 72.00,168.06 72.50,168.22 73.00,168.24 73.50,168.11 74.00,167.86 74.50,167.78 75.00,167.66 75.50,168.07 76.00,168.09 76.50,168.04 77.00,168.26 77.50,168.18 78.00,168.46 78.50,168.30 79.00,167.93 79.50,168.15 80.00,167.45 80.50,167.47 81.00,167.09 81.50,166.63 82.00,166.11 82.50,166.05 83.00,165.11 83.50,164.87 84.00,164.49 84.50,163.41 85.00,162.15 85.50,161.65 86.00,160.81 86.50,160.07 87.00,159.35 87.50,158.24 88.00,157.69 88.50,157.27 89.00,156.99 89.50,157.64 90.00,158.04 90.50,158.68 91.00,159.09 91.50,160.42 92.00,161.18 92.50,161.78 93.00,162.58 93.50,162.94 94.00,163.21 94.50,163.41 95.00,163.58 95.50,163.37 96.00,163.17 96.50,162.64 97.00,161.29 97.50,159.26 98.00,156.15 98.50,152.48 99.00,150.65 99.50,151.86 100.00,155.67 100.50,159.29 101.00,162.06 101.50,164.29 102.00,165.82 102.50,166.28 103.00,167.22 103.50,167.09 104.00,167.46 104.50,167.59 105.00,167.97 105.50,168.15 106.00,168.12 106.50,167.97 107.00,168.39 107.50,168.22 108.00,168.32 108.50,168.86 109.00,168.89 109.50,169.11 110.00,169.27 110.50,169.62 111.00,169.48 111.50,169.80 112.00,169.82 112.50,169.97 113.00,169.78 113.50,169.96 114.00,169.88 114.50,169.73 115.00,169.68 115.50,169.92 116.00,169.64 116.50,170.16 117.00,169.80 117.50,169.83 118.00,169.99 118.50,170.58 119.00,170.39 119.50,170.42 120.00,170.49 120.50,170.61 121.00,171.06 121.50,171.09 122.00,171.14 122.50,171.15 123.00,170.72 123.50,170.92 124.00,170.68 124.50,170.80 125.00,170.67 125.50,170.57 126.00,169.99 126.50,170.34 127.00,170.30 127.50,170.29 128.00,169.84 128.50,169.94 129.00,169.98 129.50,170.06 130.00,170.65 130.50,170.79 131.00,170.84 131.50,171.09 132.00,171.10 132.50,171.00 133.00,170.95 133.50,170.97 134.00,171.32 134.50,170.95 135.00,170.93 135.50,170.87 136.00,170.52 136.50,170.51 137.00,170.40 137.50,170.52 138.00,170.23 138.50,170.12 139.00,170.44 139.50,170.16 140.00,170.36 140.50,170.26 141.00,169.97 141.50,170.23 142.00,170.29 142.50,170.51 143.00,170.30 143.50,170.50 144.00,170.39 144.50,170.18 145.00,170.48 145.50,169.98 146.00,170.31 146.50,169.87 147.00,169.72 147.50,169.79 148.00,170.09 148.50,170.23 149.00,169.75 149.50,170.12 150.00,170.26 150.50,170.60 151.00,170.46 151.50,170.84 152.00,170.98 152.50,171.46 153.00,171.33 153.50,171.88 154.00,171.64 154.50,171.68 155.00,171.98 155.50,171.86" fill="none" stroke="#44c3e6" stroke-width="1.6" stroke-linejoin="round" stroke-linecap="round" />
<polygon points="35.67,169.82 33.33,168.52 33.33,171.12" fill="#44c3e6"/>
<polygon points="38.15,170.39 35.81,169.09 35.81,171.69" fill="#44c3e6"/>
<polygon points="41.02,169.72 38.68,168.42 38.68,171.02" fill="#44c3e6"/>
<polygon points="43.48,169.14 41.14,167.84 41.14,170.44" fill="#44c3e6"/>
<polygon points="45.84,169.76 43.50,168.46 43.50,171.06" fill="#44c3e6"/>
<polygon points="48.64,169.46 46.30,168.16 46.30,170.76" fill="#44c3e6"/>
<polygon points="51.14,168.70 48.80,167.40 48.80,170.00" fill="#44c3e6"/>
<polygon points="53.23,168.38 50.89,167.08 50.89,169.68" fill="#44c3e6"/>
<polygon points="56.14,168.65 53.80,167.35 53.80,169.95" fill="#44c3e6"/>
<polygon points="58.33,170.15 55.99,168.85 55.99,171.45" fill="#44c3e6"/>
<polygon points="60.74,169.70 58.40,168.40 58.40,171.00" fill="#44c3e6"/>
<polygon points="63.42,169.90 61.08,168.60 61.08,171.20" fill="#44c3e6"/>
<polygon points="66.06,169.45 63.72,168.15 63.72,170.75" fill="#44c3e6"/>
<polygon points="68.31,169.39 65.97,168.09 65.97,170.69" fill="#44c3e6"/>
<polygon points="70.70,169.46 68.36,168.16 68.36,170.76" fill="#44c3e6"/>
<polygon points="73.50,168.26 71.16,166.96 71.16,169.56" fill="#44c3e6"/>
<polygon points="75.71,167.73 73.37,166.43 73.37,169.03" fill="#44c3e6"/>
<polygon points="78.57,168.32 76.23,167.02 76.23,169.62" fill="#44c3e6"/>
<polygon points="80.68,168.12 78.34,166.82 78.34,169.42" fill="#44c3e6"/>
<polygon points="83.64,165.90 81.30,164.60 81.30,167.20" fill="#44c3e6"/>
<polygon points="85.72,163.25 83.38,161.95 83.38,164.55" fill="#44c3e6"/>
<polygon points="88.53,159.63 86.19,158.33 86.19,160.93" fill="#44c3e6"/>
<polygon points="90.70,157.36 88.36,156.06 88.36,158.66" fill="#44c3e6"/>
<polygon points="93.25,161.05 90.91,159.75 90.91,162.35" fill="#44c3e6"/>
<polygon points="95.92,163.14 93.58,161.84 93.58,164.44" fill="#44c3e6"/>
<polygon points="98.30,161.04 95.96,159.74 95.96,162.34" fill="#44c3e6"/>
<polygon points="101.19,152.04 98.85,150.74 98.85,153.34" fill="#44c3e6"/>
<polygon points="103.17,166.19 100.83,164.89 100.83,167.49" fill="#44c3e6"/>
<polygon points="105.66,167.49 103.32,166.19 103.32,168.79" fill="#44c3e6"/>
<polygon points="108.69,168.63 106.35,167.33 106.35,169.93" fill="#44c3e6"/>
<polygon points="111.04,169.06 108.70,167.76 108.70,170.36" fill="#44c3e6"/>
<polygon points="113.22,169.93 110.88,168.63 110.88,171.23" fill="#44c3e6"/>
<polygon points="115.67,169.50 113.33,168.20 113.33,170.80" fill="#44c3e6"/>
<polygon points="118.34,169.43 116.00,168.13 116.00,170.73" fill="#44c3e6"/>
<polygon points="120.84,170.65 118.50,169.35 118.50,171.95" fill="#44c3e6"/>
<polygon points="123.52,171.14 121.18,169.84 121.18,172.44" fill="#44c3e6"/>
<polygon points="125.98,170.77 123.64,169.47 123.64,172.07" fill="#44c3e6"/>
<polygon points="128.19,170.38 125.85,169.08 125.85,171.68" fill="#44c3e6"/>
<polygon points="130.85,170.25 128.51,168.95 128.51,171.55" fill="#44c3e6"/>
<polygon points="133.65,171.05 131.31,169.75 131.31,172.35" fill="#44c3e6"/>
<polygon points="135.95,171.15 133.61,169.85 133.61,172.45" fill="#44c3e6"/>
<polygon points="138.36,170.18 136.02,168.88 136.02,171.48" fill="#44c3e6"/>
<polygon points="141.04,170.46 138.70,169.16 138.70,171.76" fill="#44c3e6"/>
<polygon points="143.57,170.45 141.23,169.15 141.23,171.75" fill="#44c3e6"/>
<polygon points="146.12,170.32 143.78,169.02 143.78,171.62" fill="#44c3e6"/>
<polygon points="148.49,169.68 146.15,168.38 146.15,170.98" fill="#44c3e6"/>
<polygon points="150.79,170.22 148.45,168.92 148.45,171.52" fill="#44c3e6"/>
<polygon points="153.16,170.91 150.82,169.61 150.82,172.21" fill="#44c3e6"/>
<polygon points="156.07,171.85 153.73,170.55 153.73,173.15" fill="#44c3e6"/>
<polyline points="34.50,163.42 35.00,163.54 35.50,163.14 36.00,163.47 36.50,163.65 37.00,163.56 37.50,163.76 38.00,164.16 38.50,163.76 39.00,164.14 39.50,163.98 40.00,164.35 40.50,164.42 41.00,164.13 41.50,163.81 42.00,163.97 42.50,163.85 43.00,163.84 43.50,163.64 44.00,163.64 44.50,163.70 45.00,163.52 45.50,163.47 46.00,163.81 46.50,163.45 47.00,163.77 47.50,163.66 48.00,163.90 48.50,163.55 49.00,164.01 49.50,163.61 50.00,163.36 50.50,163.38 51.00,163.33 51.50,162.99 52.00,163.10 52.50,163.01 53.00,163.10 53.50,162.89 54.00,162.87 54.50,162.94 55.00,163.36 55.50,163.65 56.00,163.63 56.50,163.69 57.00,164.25 57.50,164.25 58.00,164.35 58.50,164.46 59.00,164.94 59.50,165.02 60.00,164.93 60.50,164.79 61.00,164.76 61.50,164.45 62.00,164.72 62.50,164.24 63.00,164.26 63.50,164.24 64.00,164.14 64.50,163.89 65.00,163.77 65.50,163.91 66.00,163.71 66.50,164.15 67.00,163.94 67.50,164.26 68.00,163.97 68.50,164.04 69.00,163.96 69.50,164.01 70.00,163.80 70.50,163.60 71.00,163.88 71.50,163.51 72.00,163.37 72.50,163.29 73.00,163.30 73.50,163.21 74.00,163.30 74.50,163.31 75.00,163.17 75.50,163.53 76.00,163.54 76.50,163.13 77.00,163.58 77.50,163.60 78.00,163.46 78.50,162.97 79.00,163.16 79.50,162.79 80.00,162.11 80.50,161.78 81.00,161.93 81.50,161.36 82.00,160.70 82.50,160.16 83.00,159.72 83.50,159.30 84.00,159.12 84.50,158.37 85.00,160.24 85.50,160.10 86.00,159.43 86.50,158.46 87.00,158.23 87.50,157.48 88.00,157.10 88.50,156.75 89.00,156.86 89.50,157.08 90.00,157.66 90.50,158.08 91.00,159.26 91.50,160.12 92.00,161.18 92.50,161.88 93.00,162.91 93.50,163.41 94.00,163.81 94.50,164.21 95.00,164.39 95.50,164.60 96.00,164.05 96.50,163.48 97.00,161.79 97.50,159.36 98.00,155.26 98.50,150.11 99.00,146.87 99.50,148.20 100.00,153.94 100.50,158.69 101.00,162.26 101.50,164.62 102.00,166.24 102.50,167.03 103.00,167.82 103.50,168.72 104.00,168.74 104.50,169.51 105.00,169.93 105.50,169.99 106.00,170.70 106.50,171.09 107.00,171.54 107.50,171.48 108.00,172.06 108.50,171.95 109.00,172.03 109.50,172.30 110.00,171.80 110.50,172.13 111.00,171.98 111.50,171.72 112.00,171.90 112.50,171.52 113.00,171.49 113.50,171.47 114.00,171.58 114.50,171.28 115.00,171.44 115.50,171.50 116.00,171.65 116.50,171.88 117.00,171.65 117.50,172.01 118.00,171.81 118.50,171.89 119.00,171.75 119.50,171.85 120.00,172.07 120.50,171.84 121.00,171.87 121.50,171.59 122.00,171.59 122.50,171.61 123.00,171.86 123.50,172.01 124.00,172.26 124.50,172.04 125.00,172.65 125.50,172.98 126.00,173.02 126.50,172.96 127.00,173.30 127.50,173.28 128.00,173.48 128.50,173.94 129.00,173.76 129.50,173.73 130.00,173.72 130.50,173.66 131.00,173.37 131.50,173.24 132.00,173.14 132.50,173.09 133.00,172.99 133.50,173.04 134.00,172.83 134.50,173.17 135.00,173.18 135.50,173.51 136.00,173.31 136.50,173.52 137.00,173.60 137.50,174.15 138.00,174.34 138.50,174.27 139.00,174.15 139.50,174.41 140.00,174.38 140.50,174.22 141.00,174.01 141.50,173.99 142.00,174.03 142.50,173.97 143.00,174.05 143.50,174.21 144.00,174.43 144.50,174.02 145.00,174.40 145.50,174.19 146.00,174.31 146.50,174.75 147.00,174.63 147.50,174.80 148.00,174.46 148.50,174.11 149.00,174.17 149.50,174.11 150.00,174.11 150.50,173.94 151.00,173.47 151.50,173.28 152.00,172.99 152.50,173.22 153.00,172.97 153.50,172.98 154.00,172.99 154.50,173.13 155.00,173.68 155.50,173.57" fill="none" stroke="#2a3fa0" stroke-width="1.8" stroke-linejoin="round" stroke-linecap="round" />
<polygon points="34.78,165.00 36.18,162.48 33.38,162.48" fill="#2a3fa0"/>
<polygon points="37.22,165.17 38.62,162.65 35.82,162.65" fill="#2a3fa0"/>
<polygon points="39.21,166.07 40.61,163.55 37.81,163.55" fill="#2a3fa0"/>
<polygon points="41.85,166.07 43.25,163.55 40.45,163.55" fill="#2a3fa0"/>
<polygon points="44.31,165.26 45.71,162.74 42.91,162.74" fill="#2a3fa0"/>
<polygon points="47.16,165.85 48.56,163.33 45.76,163.33" fill="#2a3fa0"/>
<polygon points="49.71,165.71 51.11,163.19 48.31,163.19" fill="#2a3fa0"/>
<polygon points="51.75,165.12 53.15,162.60 50.35,162.60" fill="#2a3fa0"/>
<polygon points="54.63,164.82 56.03,162.30 53.23,162.30" fill="#2a3fa0"/>
<polygon points="57.26,165.96 58.66,163.44 55.86,163.44" fill="#2a3fa0"/>
<polygon points="59.78,167.10 61.18,164.58 58.38,164.58" fill="#2a3fa0"/>
<polygon points="61.71,166.25 63.11,163.73 60.31,163.73" fill="#2a3fa0"/>
<polygon points="64.59,166.06 65.99,163.54 63.19,163.54" fill="#2a3fa0"/>
<polygon points="66.75,165.70 68.15,163.18 65.35,163.18" fill="#2a3fa0"/>
<polygon points="69.64,165.66 71.04,163.14 68.24,163.14" fill="#2a3fa0"/>
<polygon points="72.22,165.27 73.62,162.75 70.82,162.75" fill="#2a3fa0"/>
<polygon points="74.24,165.12 75.64,162.60 72.84,162.60" fill="#2a3fa0"/>
<polygon points="77.04,165.44 78.44,162.92 75.64,162.92" fill="#2a3fa0"/>
<polygon points="79.61,164.42 81.01,161.90 78.21,161.90" fill="#2a3fa0"/>
<polygon points="82.18,162.50 83.58,159.98 80.78,159.98" fill="#2a3fa0"/>
<polygon points="84.59,160.39 85.99,157.87 83.19,157.87" fill="#2a3fa0"/>
<polygon points="86.95,160.05 88.35,157.53 85.55,157.53" fill="#2a3fa0"/>
<polygon points="89.67,159.35 91.07,156.83 88.27,156.83" fill="#2a3fa0"/>
<polygon points="92.17,163.14 93.57,160.62 90.77,160.62" fill="#2a3fa0"/>
<polygon points="94.38,165.77 95.78,163.25 92.98,163.25" fill="#2a3fa0"/>
<polygon points="97.28,163.86 98.68,161.34 95.88,161.34" fill="#2a3fa0"/>
<polygon points="99.70,149.98 101.10,147.46 98.30,147.46" fill="#2a3fa0"/>
<polygon points="102.06,168.54 103.46,166.02 100.66,166.02" fill="#2a3fa0"/>
<polygon points="104.70,171.50 106.10,168.98 103.30,168.98" fill="#2a3fa0"/>
<polygon points="106.89,173.40 108.29,170.88 105.49,170.88" fill="#2a3fa0"/>
<polygon points="109.73,174.11 111.13,171.59 108.33,171.59" fill="#2a3fa0"/>
<polygon points="112.11,173.89 113.51,171.37 110.71,171.37" fill="#2a3fa0"/>
<polygon points="114.74,173.44 116.14,170.92 113.34,170.92" fill="#2a3fa0"/>
<polygon points="116.87,173.17 118.27,170.65 115.47,170.65" fill="#2a3fa0"/>
<polygon points="119.36,173.70 120.76,171.18 117.96,171.18" fill="#2a3fa0"/>
<polygon points="122.05,173.75 123.45,171.23 120.65,171.23" fill="#2a3fa0"/>
<polygon points="124.73,173.59 126.13,171.07 123.33,171.07" fill="#2a3fa0"/>
<polygon points="127.20,175.46 128.60,172.94 125.80,172.94" fill="#2a3fa0"/>
<polygon points="129.72,175.70 131.12,173.18 128.32,173.18" fill="#2a3fa0"/>
<polygon points="131.86,175.33 133.26,172.81 130.46,172.81" fill="#2a3fa0"/>
<polygon points="134.68,175.23 136.08,172.71 133.28,172.71" fill="#2a3fa0"/>
<polygon points="137.25,175.39 138.65,172.87 135.85,172.87" fill="#2a3fa0"/>
<polygon points="139.25,176.37 140.65,173.85 137.85,173.85" fill="#2a3fa0"/>
<polygon points="142.18,175.70 143.58,173.18 140.78,173.18" fill="#2a3fa0"/>
<polygon points="144.65,176.28 146.05,173.76 143.25,173.76" fill="#2a3fa0"/>
<polygon points="146.84,176.63 148.24,174.11 145.44,174.11" fill="#2a3fa0"/>
<polygon points="149.61,175.99 151.01,173.47 148.21,173.47" fill="#2a3fa0"/>
<polygon points="151.82,174.70 153.22,172.18 150.42,172.18" fill="#2a3fa0"/>
<polygon points="154.65,175.27 156.05,172.75 153.25,172.75" fill="#2a3fa0"/>
<polyline points="34.50,167.92 35.00,167.92 35.50,167.91 36.00,167.91 36.50,167.91 37.00,167.91 37.50,167.91 38.00,167.91 38.50,167.90 39.00,167.90 39.50,167.90 40.00,167.90 40.50,167.90 41.00,167.89 41.50,167.89 42.00,167.89 42.50,167.89 43.00,167.89 43.50,167.88 44.00,167.88 44.50,167.88 45.00,167.88 45.50,167.87 46.00,167.87 46.50,167.87 47.00,167.86 47.50,167.86 48.00,167.86 48.50,167.85 49.00,167.85 49.50,167.85 50.00,167.84 50.50,167.84 51.00,167.83 51.50,167.83 52.00,167.83 52.50,167.82 53.00,167.82 53.50,167.81 54.00,167.81 54.50,167.80 55.00,167.80 55.50,167.79 56.00,167.78 56.50,167.78 57.00,167.77 57.50,167.76 58.00,167.76 58.50,167.75 59.00,167.74 59.50,167.73 60.00,167.72 60.50,167.71 61.00,167.70 61.50,167.69 62.00,167.68 62.50,167.67 63.00,167.66 63.50,167.65 64.00,167.63 64.50,167.62 65.00,167.60 65.50,167.59 66.00,167.57 66.50,167.55 67.00,167.53 67.50,167.51 68.00,167.49 68.50,167.47 69.00,167.44 69.50,167.42 70.00,167.39 70.50,167.36 71.00,167.33 71.50,167.29 72.00,167.25 72.50,167.21 73.00,167.16 73.50,167.12 74.00,167.06 74.50,167.00 75.00,166.94 75.50,166.87 76.00,166.79 76.50,166.71 77.00,166.61 77.50,166.51 78.00,166.39 78.50,166.26 79.00,166.11 79.50,165.95 80.00,165.76 80.50,165.57 81.00,165.35 81.50,165.10 82.00,164.82 82.50,164.49 83.00,164.11 83.50,163.67 84.00,163.16 84.50,162.58 85.00,161.91 85.50,161.16 86.00,160.33 86.50,159.45 87.00,158.54 87.50,157.68 88.00,156.94 88.50,156.42 89.00,156.20 89.50,156.30 90.00,156.71 90.50,157.36 91.00,158.17 91.50,159.04 92.00,159.90 92.50,160.68 93.00,161.37 93.50,161.92 94.00,162.34 94.50,162.59 95.00,162.66 95.50,162.50 96.00,162.04 96.50,161.17 97.00,159.72 97.50,157.48 98.00,154.32 98.50,150.78 99.00,148.70 99.50,149.92 100.00,153.52 100.50,157.31 101.00,160.29 101.50,162.42 102.00,163.92 102.50,164.99 103.00,165.77 103.50,166.35 104.00,166.80 104.50,167.15 105.00,167.43 105.50,167.66 106.00,167.85 106.50,168.01 107.00,168.15 107.50,168.27 108.00,168.37 108.50,168.46 109.00,168.54 109.50,168.61 110.00,168.67 110.50,168.73 111.00,168.78 111.50,168.83 112.00,168.87 112.50,168.91 113.00,168.95 113.50,168.98 114.00,169.01 114.50,169.04 115.00,169.07 115.50,169.09 116.00,169.12 116.50,169.14 117.00,169.16 117.50,169.18 118.00,169.20 118.50,169.22 119.00,169.24 119.50,169.25 120.00,169.27 120.50,169.28 121.00,169.30 121.50,169.31 122.00,169.32 122.50,169.34 123.00,169.35 123.50,169.36 124.00,169.37 124.50,169.38 125.00,169.40 125.50,169.41 126.00,169.42 126.50,169.43 127.00,169.44 127.50,169.44 128.00,169.45 128.50,169.46 129.00,169.47 129.50,169.48 130.00,169.49 130.50,169.50 131.00,169.50 131.50,169.51 132.00,169.52 132.50,169.53 133.00,169.53 133.50,169.54 134.00,169.55 134.50,169.55 135.00,169.56 135.50,169.57 136.00,169.57 136.50,169.58 137.00,169.59 137.50,169.59 138.00,169.60 138.50,169.60 139.00,169.61 139.50,169.61 140.00,169.62 140.50,169.62 141.00,169.63 141.50,169.63 142.00,169.64 142.50,169.64 143.00,169.65 143.50,169.65 144.00,169.66 144.50,169.66 145.00,169.67 145.50,169.67 146.00,169.67 146.50,169.68 147.00,169.68 147.50,169.69 148.00,169.69 148.50,169.69 149.00,169.70 149.50,169.70 150.00,169.70 150.50,169.71 151.00,169.71 151.50,169.71 152.00,169.72 152.50,169.72 153.00,169.72 153.50,169.73 154.00,169.73 154.50,169.73 155.00,169.73 155.50,169.74" fill="none" stroke="#111" stroke-width="0.9" stroke-linejoin="round" stroke-linecap="round" />
<polyline points="34.50,165.42 35.00,165.42 35.50,165.42 36.00,165.42 36.50,165.42 37.00,165.43 37.50,165.43 38.00,165.43 38.50,165.43 39.00,165.43 39.50,165.44 40.00,165.44 40.50,165.44 41.00,165.44 41.50,165.45 42.00,165.45 42.50,165.45 43.00,165.45 43.50,165.46 44.00,165.46 44.50,165.46 45.00,165.47 45.50,165.47 46.00,165.47 46.50,165.47 47.00,165.48 47.50,165.48 48.00,165.48 48.50,165.49 49.00,165.49 49.50,165.49 50.00,165.49 50.50,165.50 51.00,165.50 51.50,165.50 52.00,165.50 52.50,165.51 53.00,165.51 53.50,165.51 54.00,165.51 54.50,165.51 55.00,165.51 55.50,165.52 56.00,165.52 56.50,165.52 57.00,165.52 57.50,165.52 58.00,165.52 58.50,165.52 59.00,165.52 59.50,165.51 60.00,165.51 60.50,165.51 61.00,165.51 61.50,165.50 62.00,165.50 62.50,165.50 63.00,165.49 63.50,165.49 64.00,165.48 64.50,165.47 65.00,165.46 65.50,165.45 66.00,165.44 66.50,165.43 67.00,165.42 67.50,165.40 68.00,165.39 68.50,165.37 69.00,165.35 69.50,165.33 70.00,165.31 70.50,165.28 71.00,165.25 71.50,165.22 72.00,165.19 72.50,165.15 73.00,165.11 73.50,165.07 74.00,165.02 74.50,164.97 75.00,164.91 75.50,164.84 76.00,164.77 76.50,164.69 77.00,164.59 77.50,164.49 78.00,164.38 78.50,164.25 79.00,164.11 79.50,163.95 80.00,163.76 80.50,163.62 81.00,163.45 81.50,163.26 82.00,163.04 82.50,162.78 83.00,162.47 83.50,162.11 84.00,161.68 84.50,161.19 85.00,160.61 85.50,159.96 86.00,159.23 86.50,158.44 87.00,157.64 87.50,156.89 88.00,156.26 88.50,155.85 89.00,155.73 89.50,155.95 90.00,156.47 90.50,157.24 91.00,158.16 91.50,159.15 92.00,160.11 92.50,161.01 93.00,161.80 93.50,162.46 94.00,162.97 94.50,163.32 95.00,163.47 95.50,163.37 96.00,162.95 96.50,162.06 97.00,160.46 97.50,157.79 98.00,153.66 98.50,148.51 99.00,145.15 99.50,147.06 100.00,152.47 100.50,157.58 101.00,161.25 101.50,163.71 102.00,165.36 102.50,166.51 103.00,167.33 103.50,167.94 104.00,168.41 104.50,168.78 105.00,169.07 105.50,169.32 106.00,169.52 106.50,169.70 107.00,169.85 107.50,169.98 108.00,170.10 108.50,170.20 109.00,170.30 109.50,170.38 110.00,170.46 110.50,170.54 111.00,170.61 111.50,170.67 112.00,170.73 112.50,170.79 113.00,170.85 113.50,170.90 114.00,170.95 114.50,171.00 115.00,171.05 115.50,171.10 116.00,171.14 116.50,171.19 117.00,171.23 117.50,171.27 118.00,171.32 118.50,171.36 119.00,171.40 119.50,171.44 120.00,171.48 120.50,171.51 121.00,171.55 121.50,171.59 122.00,171.63 122.50,171.67 123.00,171.70 123.50,171.74 124.00,171.77 124.50,171.81 125.00,171.85 125.50,171.88 126.00,171.92 126.50,171.95 127.00,171.99 127.50,172.02 128.00,172.06 128.50,172.09 129.00,172.12 129.50,172.16 130.00,172.19 130.50,172.22 131.00,172.26 131.50,172.29 132.00,172.32 132.50,172.35 133.00,172.38 133.50,172.42 134.00,172.45 134.50,172.48 135.00,172.51 135.50,172.54 136.00,172.57 136.50,172.60 137.00,172.63 137.50,172.66 138.00,172.69 138.50,172.72 139.00,172.74 139.50,172.77 140.00,172.80 140.50,172.83 141.00,172.85 141.50,172.88 142.00,172.90 142.50,172.93 143.00,172.95 143.50,172.98 144.00,173.00 144.50,173.03 145.00,173.05 145.50,173.07 146.00,173.09 146.50,173.12 147.00,173.14 147.50,173.16 148.00,173.18 148.50,173.20 149.00,173.22 149.50,173.24 150.00,173.26 150.50,173.27 151.00,173.29 151.50,173.31 152.00,173.32 152.50,173.34 153.00,173.36 153.50,173.37 154.00,173.39 154.50,173.40 155.00,173.41 155.50,173.43" fill="none" stroke="#111" stroke-width="0.9" stroke-linejoin="round" stroke-linecap="round" />
<text x="82.60" y="113.80" font-size="10" text-anchor="start" font-weight="normal" font-style="normal" fill="#222" font-family='"Liberation Serif", serif' >β</text>
<text x="102.30" y="112.50" font-size="10" text-anchor="start" font-weight="normal" font-style="normal" fill="#222" font-family='"Liberation Serif", serif' >α</text>
<rect x="175.50" y="8.00" width="121.20" height="180.00" fill="none" stroke="#4a4a4a" stroke-width="1"/>
<line x1="180.35" y1="188.00" x2="180.35" y2="186.50" stroke="#4a4a4a" stroke-width="0.8" />
<line x1="180.35" y1="8.00" x2="180.35" y2="9.50" stroke="#4a4a4a" stroke-width="0.8" />
<line x1="185.20" y1="188.00" x2="185.20" y2="186.50" stroke="#4a4a4a" stroke-width="0.8" />
<line x1="185.20" y1="8.00" x2="185.20" y2="9.50" stroke="#4a4a4a" stroke-width="0.8" />
<line x1="190.04" y1="188.00" x2="190.04" y2="186.50" stroke="#4a4a4a" stroke-width="0.8" />
<line x1="190.04" y1="8.00" x2="190.04" y2="9.50" stroke="#4a4a4a" stroke-width="0.8" />
<line x1="194.89" y1="188.00" x2="194.89" y2="186.50" stroke="#4a4a4a" stroke-width="0.8" />
<line x1="194.89" y1="8.00" x2="194.89" y2="9.50" stroke="#4a4a4a" stroke-width="0.8" />
<line x1="204.59" y1="188.00" x2="204.59" y2="186.50" stroke="#4a4a4a" stroke-width="0.8" />
<line x1="204.59" y1="8.00" x2="204.59" y2="9.50" stroke="#4a4a4a" stroke-width="0.8" />
<line x1="209.44" y1="188.00" x2="209.44" y2="186.50" stroke="#4a4a4a" stroke-width="0.8" />
<line x1="209.44" y1="8.00" x2="209.44" y2="9.50" stroke="#4a4a4a" stroke-width="0.8" />
<line x1="214.28" y1="188.00" x2="214.28" y2="186.50" stroke="#4a4a4a" stroke-width="0.8" />
<line x1="214.28" y1="8.00" x2="214.28" y2="9.50" stroke="#4a4a4a" stroke-width="0.8" />
<line x1="219.13" y1="188.00" x2="219.13" y2="186.50" stroke="#4a4a4a" stroke-width="0.8" />
<line x1="219.13" y1="8.00" x2="219.13" y2="9.50" stroke="#4a4a4a" stroke-width="0.8" />
<line x1="228.83" y1="188.00" x2="228.83" y2="186.50" stroke="#4a4a4a" stroke-width="0.8" />
<line x1="228.83" y1="8.00" x2="228.83" y2="9.50" stroke="#4a4a4a" stroke-width="0.8" />
<line x1="233.68" y1="188.00" x2="233.68" y2="186.50" stroke="#4a4a4a" stroke-width="0.8" />
<line x1="233.68" y1="8.00" x2="233.68" y2="9.50" stroke="#4a4a4a" stroke-width="0.8" />
<line x1="238.52" y1="188.00" x2="238.52" y2="186.50" stroke="#4a4a4a" stroke-width="0.8" />
<line x1="238.52" y1="8.00" x2="238.52" y2="9.50" stroke="#4a4a4a" stroke-width="0.8" />
<line x1="243.37" y1="188.00" x2="243.37" y2="186.50" stroke="#4a4a4a" stroke-width="0.8" />
<line x1="243.37" y1="8.00" x2="243.37" y2="9.50" stroke="#4a4a4a" stroke-width="0.8" />
<line x1="253.07" y1="188.00" x2="253.07" y2="186.50" stroke="#4a4a4a" stroke-width="0.8" />
<line x1="253.07" y1="8.00" x2="253.07" y2="9.50" stroke="#4a4a4a" stroke-width="0.8" />
<line x1="257.92" y1="188.00" x2="257.92" y2="186.50" stroke="#4a4a4a" stroke-width="0.8" />
<line x1="257.92" y1="8.00" x2="257.92" y2="9.50" stroke="#4a4a4a" stroke-width="0.8" />
<line x1="262.76" y1="188.00" x2="262.76" y2="186.50" stroke="#4a4a4a" stroke-width="0.8" />
<line x1="262.76" y1="8.00" x2="262.76" y2="9.50" stroke="#4a4a4a" stroke-width="0.8" />
<line x1="267.61" y1="188.00" x2="267.61" y2="186.50" stroke="#4a4a4a" stroke-width="0.8" />
<line x1="267.61" y1="8.00" x2="267.61" y2="9.50" stroke="#4a4a4a" stroke-width="0.8" />
<line x1="277.31" y1="188.00" x2="277.31" y2="186.50" stroke="#4a4a4a" stroke-width="0.8" />
<line x1="277.31" y1="8.00" x2="277.31" y2="9.50" stroke="#4a4a4a" stroke-width="0.8" />
<line x1="282.16" y1="188.00" x2="282.16" y2="186.50" stroke="#4a4a4a" stroke-width="0.8" />
<line x1="282.16" y1="8.00" x2="282.16" y2="9.50" stroke="#4a4a4a" stroke-width="0.8" />
<line x1="287.00" y1="188.00" x2="287.00" y2="186.50" stroke="#4a4a4a" stroke-width="0.8" />
<line x1="287.00" y1="8.00" x2="287.00" y2="9.50" stroke="#4a4a4a" stroke-width="0.8" />
<line x1="291.85" y1="188.00" x2="291.85" y2="186.50" stroke="#4a4a4a" stroke-width="0.8" />
<line x1="291.85" y1="8.00" x2="291.85" y2="9.50" stroke="#4a4a4a" stroke-width="0.8" />
<line x1="175.50" y1="188.00" x2="175.50" y2="185.20" stroke="#4a4a4a" stroke-width="0.9" />
<line x1="175.50" y1="8.00" x2="175.50" y2="10.80" stroke="#4a4a4a" stroke-width="0.9" />
<text x="175.50" y="196.00" font-size="6.8" text-anchor="middle" font-weight="normal" font-style="normal" fill="#222" font-family='"Liberation Sans", sans-serif' >245</text>
<line x1="199.74" y1="188.00" x2="199.74" y2="185.20" stroke="#4a4a4a" stroke-width="0.9" />
<line x1="199.74" y1="8.00" x2="199.74" y2="10.80" stroke="#4a4a4a" stroke-width="0.9" />
<text x="199.74" y="196.00" font-size="6.8" text-anchor="middle" font-weight="normal" font-style="normal" fill="#222" font-family='"Liberation Sans", sans-serif' >250</text>
<line x1="223.98" y1="188.00" x2="223.98" y2="185.20" stroke="#4a4a4a" stroke-width="0.9" />
<line x1="223.98" y1="8.00" x2="223.98" y2="10.80" stroke="#4a4a4a" stroke-width="0.9" />
<text x="223.98" y="196.00" font-size="6.8" text-anchor="middle" font-weight="normal" font-style="normal" fill="#222" font-family='"Liberation Sans", sans-serif' >255</text>
<line x1="248.22" y1="188.00" x2="248.22" y2="185.20" stroke="#4a4a4a" stroke-width="0.9" />
<line x1="248.22" y1="8.00" x2="248.22" y2="10.80" stroke="#4a4a4a" stroke-width="0.9" />
<text x="248.22" y="196.00" font-size="6.8" text-anchor="middle" font-weight="normal" font-style="normal" fill="#222" font-family='"Liberation Sans", sans-serif' >260</text>
<line x1="272.46" y1="188.00" x2="272.46" y2="185.20" stroke="#4a4a4a" stroke-width="0.9" />
<line x1="272.46" y1="8.00" x2="272.46" y2="10.80" stroke="#4a4a4a" stroke-width="0.9" />
<text x="272.46" y="196.00" font-size="6.8" text-anchor="middle" font-weight="normal" font-style="normal" fill="#222" font-family='"Liberation Sans", sans-serif' >265</text>
<line x1="296.70" y1="188.00" x2="296.70" y2="185.20" stroke="#4a4a4a" stroke-width="0.9" />
<line x1="296.70" y1="8.00" x2="296.70" y2="10.80" stroke="#4a4a4a" stroke-width="0.9" />
<text x="296.70" y="196.00" font-size="6.8" text-anchor="middle" font-weight="normal" font-style="normal" fill="#222" font-family='"Liberation Sans", sans-serif' >270</text>
<line x1="175.50" y1="141.45" x2="177.00" y2="141.45" stroke="#4a4a4a" stroke-width="0.8" />
<line x1="296.70" y1="141.45" x2="295.20" y2="141.45" stroke="#4a4a4a" stroke-width="0.8" />
<line x1="175.50" y1="62.95" x2="177.00" y2="62.95" stroke="#4a4a4a" stroke-width="0.8" />
<line x1="296.70" y1="62.95" x2="295.20" y2="62.95" stroke="#4a4a4a" stroke-width="0.8" />
<line x1="175.50" y1="180.70" x2="178.30" y2="180.70" stroke="#4a4a4a" stroke-width="0.9" />
<line x1="296.70" y1="180.70" x2="293.90" y2="180.70" stroke="#4a4a4a" stroke-width="0.9" />
<text x="174.30" y="183.15" font-size="6.8" text-anchor="end" font-weight="normal" font-style="normal" fill="#222" font-family='"Liberation Sans", sans-serif' >1000</text>
<line x1="175.50" y1="102.20" x2="178.30" y2="102.20" stroke="#4a4a4a" stroke-width="0.9" />
<line x1="296.70" y1="102.20" x2="293.90" y2="102.20" stroke="#4a4a4a" stroke-width="0.9" />
<text x="174.30" y="104.65" font-size="6.8" text-anchor="end" font-weight="normal" font-style="normal" fill="#222" font-family='"Liberation Sans", sans-serif' >2000</text>
<line x1="175.50" y1="23.70" x2="178.30" y2="23.70" stroke="#4a4a4a" stroke-width="0.9" />
<line x1="296.70" y1="23.70" x2="293.90" y2="23.70" stroke="#4a4a4a" stroke-width="0.9" />
<text x="174.30" y="26.15" font-size="6.8" text-anchor="end" font-weight="normal" font-style="normal" fill="#222" font-family='"Liberation Sans", sans-serif' >3000</text>
<text x="180.20" y="21.70" font-size="9.6" text-anchor="start" font-weight="bold" font-style="normal" fill="#222" font-family='"Liberation Sans", sans-serif' >(b)</text>
<text x="226.20" y="203.90" font-size="7.4" text-anchor="start" font-weight="normal" font-style="normal" fill="#222" font-family='"Liberation Sans", sans-serif' textLength="18.7" lengthAdjust="spacingAndGlyphs">ω (cm</text>
<text x="245.60" y="200.60" font-size="4.8" text-anchor="start" font-weight="normal" font-style="normal" fill="#222" font-family='"Liberation Sans", sans-serif' >-1</text>
<text x="249.30" y="203.90" font-size="7.4" text-anchor="start" font-weight="normal" font-style="normal" fill="#222" font-family='"Liberation Sans", sans-serif' >)</text>
<polyline points="175.50,32.01 176.00,31.99 176.50,31.73 177.00,31.61 177.50,31.56 178.00,31.22 178.50,31.12 179.00,31.03 179.50,31.29 180.00,31.10 180.50,31.26 181.00,31.25 181.50,31.42 182.00,31.32 182.50,31.35 183.00,31.94 183.50,31.60 184.00,31.40 184.50,31.58 185.00,31.50 185.50,30.93 186.00,30.92 186.50,30.52 187.00,30.36 187.50,29.85 188.00,29.67 188.50,30.07 189.00,29.92 189.50,29.69 190.00,29.76 190.50,29.64 191.00,30.00 191.50,29.87 192.00,30.21 192.50,30.12 193.00,30.12 193.50,30.14 194.00,29.63 194.50,29.38 195.00,29.33 195.50,29.18 196.00,29.00 196.50,28.90 197.00,29.13 197.50,29.31 198.00,29.11 198.50,29.45 199.00,29.51 199.50,29.11 200.00,29.45 200.50,29.35 201.00,29.13 201.50,29.47 202.00,28.86 202.50,28.75 203.00,28.44 203.50,28.20 204.00,27.59 204.50,26.97 205.00,26.53 205.50,25.91 206.00,25.91 206.50,25.50 207.00,24.65 207.50,24.13 208.00,23.81 208.50,23.40 209.00,23.20 209.50,22.62 210.00,21.95 210.50,20.82 211.00,20.50 211.50,19.70 212.00,18.92 212.50,18.43 213.00,17.32 213.50,16.92 214.00,16.98 214.50,17.00 215.00,16.97 215.50,17.09 216.00,17.76 216.50,18.50 217.00,18.89 217.50,19.82 218.00,20.59 218.50,21.31 219.00,22.25 219.50,22.74 220.00,23.36 220.50,23.82 221.00,24.57 221.50,24.60 222.00,25.37 222.50,25.43 223.00,25.71 223.50,26.58 224.00,26.57 224.50,27.38 225.00,27.75 225.50,28.16 226.00,28.12 226.50,28.63 227.00,28.73 227.50,29.43 228.00,29.56 228.50,29.57 229.00,29.56 229.50,29.55 230.00,29.87 230.50,29.73 231.00,29.90 231.50,29.75 232.00,29.96 232.50,30.09 233.00,30.73 233.50,30.95 234.00,31.05 234.50,31.79 235.00,31.77 235.50,32.13 236.00,32.21 236.50,32.44 237.00,32.86 237.50,32.63 238.00,32.54 238.50,32.70 239.00,32.57 239.50,32.87 240.00,32.42 240.50,32.94 241.00,32.50 241.50,33.08 242.00,33.10 242.50,33.02 243.00,33.35 243.50,33.41 244.00,33.54 244.50,33.61 245.00,33.76 245.50,34.13 246.00,34.10 246.50,33.99 247.00,33.45 247.50,33.48 248.00,33.76 248.50,33.27 249.00,33.67 249.50,33.51 250.00,34.03 250.50,33.68 251.00,34.34 251.50,34.33 252.00,34.45 252.50,34.60 253.00,35.24 253.50,35.20 254.00,35.08 254.50,35.22 255.00,35.44 255.50,34.97 256.00,35.05 256.50,34.68 257.00,34.60 257.50,34.85 258.00,34.78 258.50,34.50 259.00,34.48 259.50,34.57 260.00,34.96 260.50,35.00 261.00,34.96 261.50,34.98 262.00,35.23 262.50,35.25 263.00,35.23 263.50,34.98 264.00,34.61 264.50,34.37 265.00,34.58 265.50,34.26 266.00,34.34 266.50,33.93 267.00,34.37 267.50,34.19 268.00,34.62 268.50,34.82 269.00,34.82 269.50,34.77 270.00,35.48 270.50,35.42 271.00,35.77 271.50,35.52 272.00,35.51 272.50,35.87 273.00,35.58 273.50,35.42 274.00,35.49 274.50,35.59 275.00,35.27 275.50,35.60 276.00,35.65 276.50,35.81 277.00,35.75 277.50,36.24 278.00,36.46 278.50,36.63 279.00,36.43 279.50,36.70 280.00,36.51 280.50,36.67 281.00,36.18 281.50,36.51 282.00,36.41 282.50,36.02 283.00,35.92 283.50,35.86 284.00,35.85 284.50,35.61 285.00,36.25 285.50,35.99 286.00,36.15 286.50,36.32 287.00,36.61 287.50,37.12 288.00,36.84 288.50,36.98 289.00,37.38 289.50,37.11 290.00,36.98 290.50,37.24 291.00,37.16 291.50,37.06 292.00,37.12 292.50,36.76 293.00,37.22 293.50,37.19 294.00,36.91 294.50,37.06 295.00,37.39 295.50,37.50 296.00,37.45 296.50,37.39" fill="none" stroke="#ee3322" stroke-width="2.2" stroke-linejoin="round" stroke-linecap="round" />
<rect x="174.29" y="30.57" width="2.30" height="2.30" fill="#ee3322"/>
<rect x="177.41" y="30.26" width="2.30" height="2.30" fill="#ee3322"/>
<rect x="180.14" y="30.33" width="2.30" height="2.30" fill="#ee3322"/>
<rect x="183.50" y="30.16" width="2.30" height="2.30" fill="#ee3322"/>
<rect x="186.55" y="29.05" width="2.30" height="2.30" fill="#ee3322"/>
<rect x="189.28" y="28.43" width="2.30" height="2.30" fill="#ee3322"/>
<rect x="192.55" y="29.01" width="2.30" height="2.30" fill="#ee3322"/>
<rect x="195.29" y="28.10" width="2.30" height="2.30" fill="#ee3322"/>
<rect x="198.52" y="27.83" width="2.30" height="2.30" fill="#ee3322"/>
<rect x="201.19" y="27.47" width="2.30" height="2.30" fill="#ee3322"/>
<rect x="204.31" y="25.14" width="2.30" height="2.30" fill="#ee3322"/>
<rect x="207.53" y="22.58" width="2.30" height="2.30" fill="#ee3322"/>
<rect x="210.54" y="18.83" width="2.30" height="2.30" fill="#ee3322"/>
<rect x="213.08" y="15.86" width="2.30" height="2.30" fill="#ee3322"/>
<rect x="216.62" y="19.01" width="2.30" height="2.30" fill="#ee3322"/>
<rect x="219.20" y="22.61" width="2.30" height="2.30" fill="#ee3322"/>
<rect x="222.43" y="25.32" width="2.30" height="2.30" fill="#ee3322"/>
<rect x="225.37" y="27.14" width="2.30" height="2.30" fill="#ee3322"/>
<rect x="228.31" y="28.40" width="2.30" height="2.30" fill="#ee3322"/>
<rect x="231.06" y="28.65" width="2.30" height="2.30" fill="#ee3322"/>
<rect x="234.63" y="31.20" width="2.30" height="2.30" fill="#ee3322"/>
<rect x="237.61" y="31.65" width="2.30" height="2.30" fill="#ee3322"/>
<rect x="240.54" y="32.24" width="2.30" height="2.30" fill="#ee3322"/>
<rect x="243.58" y="32.09" width="2.30" height="2.30" fill="#ee3322"/>
<rect x="246.43" y="32.14" width="2.30" height="2.30" fill="#ee3322"/>
<rect x="249.46" y="32.35" width="2.30" height="2.30" fill="#ee3322"/>
<rect x="252.38" y="34.39" width="2.30" height="2.30" fill="#ee3322"/>
<rect x="255.42" y="33.33" width="2.30" height="2.30" fill="#ee3322"/>
<rect x="258.36" y="33.36" width="2.30" height="2.30" fill="#ee3322"/>
<rect x="261.62" y="33.93" width="2.30" height="2.30" fill="#ee3322"/>
<rect x="264.23" y="33.23" width="2.30" height="2.30" fill="#ee3322"/>
<rect x="267.12" y="33.74" width="2.30" height="2.30" fill="#ee3322"/>
<rect x="270.62" y="34.38" width="2.30" height="2.30" fill="#ee3322"/>
<rect x="273.21" y="34.41" width="2.30" height="2.30" fill="#ee3322"/>
<rect x="276.37" y="34.81" width="2.30" height="2.30" fill="#ee3322"/>
<rect x="279.12" y="35.22" width="2.30" height="2.30" fill="#ee3322"/>
<rect x="282.23" y="34.64" width="2.30" height="2.30" fill="#ee3322"/>
<rect x="285.22" y="34.97" width="2.30" height="2.30" fill="#ee3322"/>
<rect x="288.10" y="35.99" width="2.30" height="2.30" fill="#ee3322"/>
<rect x="291.55" y="35.70" width="2.30" height="2.30" fill="#ee3322"/>
<rect x="294.39" y="36.47" width="2.30" height="2.30" fill="#ee3322"/>
<polyline points="175.50,31.03 176.00,31.02 176.50,31.01 177.00,30.99 177.50,30.98 178.00,30.96 178.50,30.95 179.00,30.93 179.50,30.91 180.00,30.90 180.50,30.88 181.00,30.86 181.50,30.84 182.00,30.82 182.50,30.80 183.00,30.77 183.50,30.75 184.00,30.72 184.50,30.70 185.00,30.67 185.50,30.64 186.00,30.61 186.50,30.58 187.00,30.55 187.50,30.51 188.00,30.48 188.50,30.44 189.00,30.40 189.50,30.36 190.00,30.31 190.50,30.27 191.00,30.22 191.50,30.17 192.00,30.12 192.50,30.06 193.00,30.00 193.50,29.93 194.00,29.87 194.50,29.79 195.00,29.72 195.50,29.64 196.00,29.55 196.50,29.46 197.00,29.36 197.50,29.25 198.00,29.14 198.50,29.02 199.00,28.89 199.50,28.75 200.00,28.60 200.50,28.44 201.00,28.27 201.50,28.08 202.00,27.88 202.50,27.66 203.00,27.43 203.50,27.17 204.00,26.89 204.50,26.58 205.00,26.25 205.50,25.89 206.00,25.50 206.50,25.07 207.00,24.61 207.50,24.11 208.00,23.57 208.50,22.99 209.00,22.38 209.50,21.73 210.00,21.07 210.50,20.38 211.00,19.69 211.50,19.02 212.00,18.39 212.50,17.82 213.00,17.33 213.50,16.95 214.00,16.70 214.50,16.60 215.00,16.65 215.50,16.86 216.00,17.22 216.50,17.70 217.00,18.28 217.50,18.93 218.00,19.63 218.50,20.35 219.00,21.09 219.50,21.81 220.00,22.52 220.50,23.19 221.00,23.84 221.50,24.45 222.00,25.02 222.50,25.55 223.00,26.05 223.50,26.52 224.00,26.95 224.50,27.35 225.00,27.72 225.50,28.06 226.00,28.38 226.50,28.68 227.00,28.95 227.50,29.21 228.00,29.45 228.50,29.67 229.00,29.87 229.50,30.06 230.00,30.23 230.50,30.39 231.00,30.54 231.50,30.68 232.00,30.81 232.50,30.93 233.00,31.04 233.50,31.15 234.00,31.26 234.50,31.36 235.00,31.46 235.50,31.55 236.00,31.65 236.50,31.74 237.00,31.83 237.50,31.92 238.00,32.00 238.50,32.09 239.00,32.17 239.50,32.26 240.00,32.34 240.50,32.42 241.00,32.50 241.50,32.57 242.00,32.65 242.50,32.73 243.00,32.80 243.50,32.87 244.00,32.95 244.50,33.02 245.00,33.09 245.50,33.15 246.00,33.22 246.50,33.29 247.00,33.35 247.50,33.41 248.00,33.47 248.50,33.53 249.00,33.59 249.50,33.64 250.00,33.70 250.50,33.75 251.00,33.80 251.50,33.85 252.00,33.89 252.50,33.94 253.00,33.98 253.50,34.02 254.00,34.06 254.50,34.09 255.00,34.12 255.50,34.15 256.00,34.18 256.50,34.21 257.00,34.25 257.50,34.28 258.00,34.32 258.50,34.37 259.00,34.41 259.50,34.46 260.00,34.51 260.50,34.56 261.00,34.62 261.50,34.67 262.00,34.72 262.50,34.77 263.00,34.82 263.50,34.86 264.00,34.90 264.50,34.94 265.00,34.97 265.50,35.00 266.00,35.03 266.50,35.04 267.00,35.06 267.50,35.08 268.00,35.10 268.50,35.12 269.00,35.14 269.50,35.16 270.00,35.18 270.50,35.21 271.00,35.23 271.50,35.25 272.00,35.28 272.50,35.30 273.00,35.33 273.50,35.36 274.00,35.38 274.50,35.41 275.00,35.44 275.50,35.47 276.00,35.50 276.50,35.53 277.00,35.56 277.50,35.59 278.00,35.62 278.50,35.65 279.00,35.68 279.50,35.71 280.00,35.74 280.50,35.77 281.00,35.81 281.50,35.84 282.00,35.87 282.50,35.90 283.00,35.93 283.50,35.96 284.00,35.99 284.50,36.02 285.00,36.05 285.50,36.08 286.00,36.11 286.50,36.14 287.00,36.17 287.50,36.20 288.00,36.23 288.50,36.25 289.00,36.28 289.50,36.30 290.00,36.33 290.50,36.35 291.00,36.38 291.50,36.40 292.00,36.42 292.50,36.44 293.00,36.46 293.50,36.48 294.00,36.50 294.50,36.52 295.00,36.53 295.50,36.55 296.00,36.57 296.50,36.58" fill="none" stroke="#222" stroke-width="0.8" stroke-linejoin="round" stroke-linecap="round" />
<polyline points="175.50,45.67 176.00,45.48 176.50,45.33 177.00,45.38 177.50,45.23 178.00,45.29 178.50,44.96 179.00,45.17 179.50,45.50 180.00,45.21 180.50,45.45 181.00,45.48 181.50,45.40 182.00,45.82 182.50,45.42 183.00,45.65 183.50,45.25 184.00,45.11 184.50,45.47 185.00,45.13 185.50,44.84 186.00,44.96 186.50,44.95 187.00,45.12 187.50,44.81 188.00,44.95 188.50,45.48 189.00,45.48 189.50,45.30 190.00,45.54 190.50,45.67 191.00,45.95 191.50,45.97 192.00,46.11 192.50,46.05 193.00,45.79 193.50,45.78 194.00,45.62 194.50,45.44 195.00,45.08 195.50,45.07 196.00,44.86 196.50,44.85 197.00,44.32 197.50,44.71 198.00,44.24 198.50,44.73 199.00,44.73 199.50,44.82 200.00,45.23 200.50,45.17 201.00,45.24 201.50,45.58 202.00,45.73 202.50,45.66 203.00,45.58 203.50,45.63 204.00,45.63 204.50,45.75 205.00,45.48 205.50,45.52 206.00,45.60 206.50,45.52 207.00,45.53 207.50,45.86 208.00,45.99 208.50,45.90 209.00,45.98 209.50,45.95 210.00,46.11 210.50,46.08 211.00,46.35 211.50,46.34 212.00,45.99 212.50,46.34 213.00,45.85 213.50,45.95 214.00,45.73 214.50,45.57 215.00,44.92 215.50,44.85 216.00,44.95 216.50,44.32 217.00,44.26 217.50,44.52 218.00,44.49 218.50,44.78 219.00,44.77 219.50,44.72 220.00,45.05 220.50,44.84 221.00,44.87 221.50,44.94 222.00,44.71 222.50,44.57 223.00,44.53 223.50,44.17 224.00,44.25 224.50,43.80 225.00,43.40 225.50,42.84 226.00,42.67 226.50,42.37 227.00,42.14 227.50,41.83 228.00,41.69 228.50,41.40 229.00,40.78 229.50,40.36 230.00,40.01 230.50,39.70 231.00,38.73 231.50,38.13 232.00,37.50 232.50,36.24 233.00,35.33 233.50,34.61 234.00,33.36 234.50,31.95 235.00,30.45 235.50,29.61 236.00,28.23 236.50,27.11 237.00,26.12 237.50,25.15 238.00,24.20 238.50,23.63 239.00,23.59 239.50,23.91 240.00,24.42 240.50,25.01 241.00,25.99 241.50,27.37 242.00,28.57 242.50,29.67 243.00,31.25 243.50,32.21 244.00,32.97 244.50,34.20 245.00,35.36 245.50,35.98 246.00,37.02 246.50,37.42 247.00,38.33 247.50,39.34 248.00,39.87 248.50,40.56 249.00,40.89 249.50,41.61 250.00,42.14 250.50,42.42 251.00,43.01 251.50,43.26 252.00,43.79 252.50,43.76 253.00,43.84 253.50,43.82 254.00,43.96 254.50,44.42 255.00,44.18 255.50,44.32 256.00,44.53 256.50,44.93 257.00,45.32 257.50,45.44 258.00,45.80 258.50,45.63 259.00,45.83 259.50,46.46 260.00,46.38 260.50,46.71 261.00,46.57 261.50,46.47 262.00,46.47 262.50,46.27 263.00,46.59 263.50,46.25 264.00,45.94 264.50,45.84 265.00,45.66 265.50,45.37 266.00,45.77 266.50,45.59 267.00,45.85 267.50,45.64 268.00,45.87 268.50,45.82 269.00,45.88 269.50,46.55 270.00,46.67 270.50,46.51 271.00,46.96 271.50,47.01 272.00,46.78 272.50,46.99 273.00,47.22 273.50,46.98 274.00,47.25 274.50,46.89 275.00,47.03 275.50,47.29 276.00,47.13 276.50,47.32 277.00,47.81 277.50,47.78 278.00,48.15 278.50,48.04 279.00,48.18 279.50,48.43 280.00,48.45 280.50,48.95 281.00,48.59 281.50,48.72 282.00,48.41 282.50,48.55 283.00,48.36 283.50,48.26 284.00,47.96 284.50,47.92 285.00,48.28 285.50,48.02 286.00,48.01 286.50,48.09 287.00,48.29 287.50,48.45 288.00,48.55 288.50,49.12 289.00,49.16 289.50,49.26 290.00,49.74 290.50,49.52 291.00,49.71 291.50,50.07 292.00,49.67 292.50,49.81 293.00,49.96 293.50,49.86 294.00,49.41 294.50,49.44 295.00,49.58 295.50,49.35 296.00,49.65 296.50,49.24" fill="none" stroke="#ee1c1c" stroke-width="2.2" stroke-linejoin="round" stroke-linecap="round" />
<circle cx="175.77" cy="45.67" r="1.20" fill="#ee1c1c"/>
<circle cx="178.34" cy="44.92" r="1.20" fill="#ee1c1c"/>
<circle cx="181.28" cy="45.57" r="1.20" fill="#ee1c1c"/>
<circle cx="184.36" cy="45.79" r="1.20" fill="#ee1c1c"/>
<circle cx="187.55" cy="44.71" r="1.20" fill="#ee1c1c"/>
<circle cx="190.35" cy="45.76" r="1.20" fill="#ee1c1c"/>
<circle cx="193.33" cy="46.08" r="1.20" fill="#ee1c1c"/>
<circle cx="196.27" cy="44.86" r="1.20" fill="#ee1c1c"/>
<circle cx="199.53" cy="44.64" r="1.20" fill="#ee1c1c"/>
<circle cx="202.66" cy="45.57" r="1.20" fill="#ee1c1c"/>
<circle cx="205.59" cy="45.57" r="1.20" fill="#ee1c1c"/>
<circle cx="208.39" cy="45.81" r="1.20" fill="#ee1c1c"/>
<circle cx="211.25" cy="46.08" r="1.20" fill="#ee1c1c"/>
<circle cx="214.71" cy="45.43" r="1.20" fill="#ee1c1c"/>
<circle cx="217.60" cy="44.21" r="1.20" fill="#ee1c1c"/>
<circle cx="220.54" cy="44.73" r="1.20" fill="#ee1c1c"/>
<circle cx="223.50" cy="44.01" r="1.20" fill="#ee1c1c"/>
<circle cx="226.24" cy="42.22" r="1.20" fill="#ee1c1c"/>
<circle cx="229.34" cy="40.06" r="1.20" fill="#ee1c1c"/>
<circle cx="232.63" cy="36.07" r="1.20" fill="#ee1c1c"/>
<circle cx="235.44" cy="29.93" r="1.20" fill="#ee1c1c"/>
<circle cx="238.66" cy="23.93" r="1.20" fill="#ee1c1c"/>
<circle cx="241.72" cy="27.08" r="1.20" fill="#ee1c1c"/>
<circle cx="244.37" cy="33.83" r="1.20" fill="#ee1c1c"/>
<circle cx="247.61" cy="39.47" r="1.20" fill="#ee1c1c"/>
<circle cx="250.41" cy="42.35" r="1.20" fill="#ee1c1c"/>
<circle cx="253.60" cy="43.98" r="1.20" fill="#ee1c1c"/>
<circle cx="256.35" cy="45.20" r="1.20" fill="#ee1c1c"/>
<circle cx="259.41" cy="46.56" r="1.20" fill="#ee1c1c"/>
<circle cx="262.31" cy="45.97" r="1.20" fill="#ee1c1c"/>
<circle cx="265.75" cy="45.55" r="1.20" fill="#ee1c1c"/>
<circle cx="268.63" cy="45.45" r="1.20" fill="#ee1c1c"/>
<circle cx="271.22" cy="46.74" r="1.20" fill="#ee1c1c"/>
<circle cx="274.32" cy="46.73" r="1.20" fill="#ee1c1c"/>
<circle cx="277.43" cy="47.41" r="1.20" fill="#ee1c1c"/>
<circle cx="280.39" cy="49.06" r="1.20" fill="#ee1c1c"/>
<circle cx="283.31" cy="48.53" r="1.20" fill="#ee1c1c"/>
<circle cx="286.54" cy="48.26" r="1.20" fill="#ee1c1c"/>
<circle cx="289.35" cy="49.21" r="1.20" fill="#ee1c1c"/>
<circle cx="292.61" cy="49.69" r="1.20" fill="#ee1c1c"/>
<circle cx="295.20" cy="49.61" r="1.20" fill="#ee1c1c"/>
<polyline points="175.50,44.89 176.00,44.90 176.50,44.90 177.00,44.91 177.50,44.91 178.00,44.92 178.50,44.92 179.00,44.93 179.50,44.94 180.00,44.94 180.50,44.95 181.00,44.96 181.50,44.96 182.00,44.97 182.50,44.98 183.00,44.99 183.50,45.00 184.00,45.01 184.50,45.01 185.00,45.02 185.50,45.03 186.00,45.04 186.50,45.05 187.00,45.06 187.50,45.07 188.00,45.08 188.50,45.09 189.00,45.10 189.50,45.11 190.00,45.12 190.50,45.13 191.00,45.14 191.50,45.15 192.00,45.16 192.50,45.17 193.00,45.18 193.50,45.19 194.00,45.20 194.50,45.21 195.00,45.22 195.50,45.23 196.00,45.23 196.50,45.24 197.00,45.25 197.50,45.26 198.00,45.26 198.50,45.27 199.00,45.27 199.50,45.28 200.00,45.28 200.50,45.29 201.00,45.29 201.50,45.29 202.00,45.29 202.50,45.29 203.00,45.29 203.50,45.29 204.00,45.29 204.50,45.28 205.00,45.28 205.50,45.27 206.00,45.27 206.50,45.26 207.00,45.25 207.50,45.24 208.00,45.23 208.50,45.21 209.00,45.20 209.50,45.18 210.00,45.16 210.50,45.14 211.00,45.12 211.50,45.09 212.00,45.07 212.50,45.04 213.00,45.01 213.50,44.97 214.00,44.93 214.50,44.89 215.00,44.85 215.50,44.80 216.00,44.76 216.50,44.71 217.00,44.65 217.50,44.59 218.00,44.53 218.50,44.47 219.00,44.40 219.50,44.33 220.00,44.25 220.50,44.16 221.00,44.07 221.50,43.97 222.00,43.86 222.50,43.74 223.00,43.62 223.50,43.48 224.00,43.33 224.50,43.16 225.00,42.98 225.50,42.78 226.00,42.56 226.50,42.33 227.00,42.06 227.50,41.77 228.00,41.45 228.50,41.10 229.00,40.71 229.50,40.27 230.00,39.80 230.50,39.26 231.00,38.68 231.50,38.02 232.00,37.30 232.50,36.51 233.00,35.64 233.50,34.68 234.00,33.65 234.50,32.54 235.00,31.36 235.50,30.12 236.00,28.87 236.50,27.63 237.00,26.45 237.50,25.39 238.00,24.52 238.50,23.88 239.00,23.54 239.50,23.52 240.00,23.82 240.50,24.41 241.00,25.25 241.50,26.29 242.00,27.47 242.50,28.72 243.00,30.00 243.50,31.25 244.00,32.47 244.50,33.62 245.00,34.69 245.50,35.68 246.00,36.59 246.50,37.43 247.00,38.19 247.50,38.88 248.00,39.50 248.50,40.07 249.00,40.59 249.50,41.06 250.00,41.48 250.50,41.87 251.00,42.23 251.50,42.55 252.00,42.85 252.50,43.12 253.00,43.37 253.50,43.60 254.00,43.81 254.50,44.00 255.00,44.18 255.50,44.35 256.00,44.51 256.50,44.65 257.00,44.79 257.50,44.91 258.00,45.03 258.50,45.14 259.00,45.24 259.50,45.34 260.00,45.43 260.50,45.51 261.00,45.59 261.50,45.66 262.00,45.73 262.50,45.80 263.00,45.86 263.50,45.92 264.00,45.98 264.50,46.03 265.00,46.08 265.50,46.13 266.00,46.17 266.50,46.23 267.00,46.28 267.50,46.34 268.00,46.39 268.50,46.44 269.00,46.50 269.50,46.55 270.00,46.60 270.50,46.66 271.00,46.71 271.50,46.76 272.00,46.82 272.50,46.87 273.00,46.92 273.50,46.98 274.00,47.03 274.50,47.08 275.00,47.14 275.50,47.19 276.00,47.25 276.50,47.30 277.00,47.35 277.50,47.41 278.00,47.46 278.50,47.52 279.00,47.57 279.50,47.62 280.00,47.68 280.50,47.73 281.00,47.78 281.50,47.83 282.00,47.89 282.50,47.94 283.00,47.99 283.50,48.04 284.00,48.09 284.50,48.14 285.00,48.19 285.50,48.24 286.00,48.28 286.50,48.33 287.00,48.38 287.50,48.42 288.00,48.46 288.50,48.51 289.00,48.55 289.50,48.59 290.00,48.63 290.50,48.67 291.00,48.70 291.50,48.74 292.00,48.78 292.50,48.81 293.00,48.84 293.50,48.87 294.00,48.90 294.50,48.93 295.00,48.96 295.50,48.98 296.00,49.00 296.50,49.03" fill="none" stroke="#222" stroke-width="0.8" stroke-linejoin="round" stroke-linecap="round" />
<polygon points="175.50,177.91 177.20,174.85 173.80,174.85" fill="#2a3fa0"/>
<polygon points="177.50,177.84 179.20,174.78 175.80,174.78" fill="#2a3fa0"/>
<polygon points="179.50,177.75 181.20,174.69 177.80,174.69" fill="#2a3fa0"/>
<polygon points="181.50,177.64 183.20,174.58 179.80,174.58" fill="#2a3fa0"/>
<polygon points="183.50,177.52 185.20,174.46 181.80,174.46" fill="#2a3fa0"/>
<polygon points="185.50,177.38 187.20,174.32 183.80,174.32" fill="#2a3fa0"/>
<polygon points="187.50,177.24 189.20,174.18 185.80,174.18" fill="#2a3fa0"/>
<polygon points="189.50,177.09 191.20,174.03 187.80,174.03" fill="#2a3fa0"/>
<polygon points="191.50,176.94 193.20,173.88 189.80,173.88" fill="#2a3fa0"/>
<polygon points="193.50,176.78 195.20,173.72 191.80,173.72" fill="#2a3fa0"/>
<polygon points="195.50,176.62 197.20,173.56 193.80,173.56" fill="#2a3fa0"/>
<polygon points="197.50,176.46 199.20,173.40 195.80,173.40" fill="#2a3fa0"/>
<polygon points="199.50,176.31 201.20,173.25 197.80,173.25" fill="#2a3fa0"/>
<polygon points="201.50,176.11 203.20,173.05 199.80,173.05" fill="#2a3fa0"/>
<polygon points="203.50,175.85 205.20,172.79 201.80,172.79" fill="#2a3fa0"/>
<polygon points="205.50,175.52 207.20,172.46 203.80,172.46" fill="#2a3fa0"/>
<polygon points="207.50,175.15 209.20,172.09 205.80,172.09" fill="#2a3fa0"/>
<polygon points="209.50,174.72 211.20,171.66 207.80,171.66" fill="#2a3fa0"/>
<polygon points="211.50,174.24 213.20,171.18 209.80,171.18" fill="#2a3fa0"/>
<polygon points="213.50,173.69 215.20,170.63 211.80,170.63" fill="#2a3fa0"/>
<polygon points="215.50,173.07 217.20,170.01 213.80,170.01" fill="#2a3fa0"/>
<polygon points="217.50,172.25 219.20,169.19 215.80,169.19" fill="#2a3fa0"/>
<polygon points="219.50,171.12 221.20,168.06 217.80,168.06" fill="#2a3fa0"/>
<polygon points="221.50,169.60 223.20,166.54 219.80,166.54" fill="#2a3fa0"/>
<polygon points="223.50,167.54 225.20,164.48 221.80,164.48" fill="#2a3fa0"/>
<polygon points="225.50,164.70 227.20,161.64 223.80,161.64" fill="#2a3fa0"/>
<polygon points="227.50,160.60 229.20,157.54 225.80,157.54" fill="#2a3fa0"/>
<polygon points="229.50,154.63 231.20,151.57 227.80,151.57" fill="#2a3fa0"/>
<polygon points="231.50,145.49 233.20,142.43 229.80,142.43" fill="#2a3fa0"/>
<polygon points="233.50,132.60 235.20,129.54 231.80,129.54" fill="#2a3fa0"/>
<polygon points="235.50,120.36 237.20,117.30 233.80,117.30" fill="#2a3fa0"/>
<polygon points="237.50,120.28 239.20,117.22 235.80,117.22" fill="#2a3fa0"/>
<polygon points="239.50,135.57 241.20,132.51 237.80,132.51" fill="#2a3fa0"/>
<polygon points="241.50,149.81 243.20,146.75 239.80,146.75" fill="#2a3fa0"/>
<polygon points="243.50,158.91 245.20,155.85 241.80,155.85" fill="#2a3fa0"/>
<polygon points="245.50,165.50 247.20,162.44 243.80,162.44" fill="#2a3fa0"/>
<polygon points="247.50,168.79 249.20,165.73 245.80,165.73" fill="#2a3fa0"/>
<polygon points="249.50,170.57 251.20,167.51 247.80,167.51" fill="#2a3fa0"/>
<polygon points="251.50,171.85 253.20,168.79 249.80,168.79" fill="#2a3fa0"/>
<polygon points="253.50,172.75 255.20,169.69 251.80,169.69" fill="#2a3fa0"/>
<polygon points="255.50,173.40 257.20,170.34 253.80,170.34" fill="#2a3fa0"/>
<polygon points="257.50,173.88 259.20,170.82 255.80,170.82" fill="#2a3fa0"/>
<polygon points="259.50,174.23 261.20,171.17 257.80,171.17" fill="#2a3fa0"/>
<polygon points="261.50,174.51 263.20,171.45 259.80,171.45" fill="#2a3fa0"/>
<polygon points="263.50,174.62 265.20,171.56 261.80,171.56" fill="#2a3fa0"/>
<polygon points="265.50,174.66 267.20,171.60 263.80,171.60" fill="#2a3fa0"/>
<polygon points="267.50,174.66 269.20,171.60 265.80,171.60" fill="#2a3fa0"/>
<polygon points="269.50,174.63 271.20,171.57 267.80,171.57" fill="#2a3fa0"/>
<polygon points="271.50,174.59 273.20,171.53 269.80,171.53" fill="#2a3fa0"/>
<polygon points="273.50,174.52 275.20,171.46 271.80,171.46" fill="#2a3fa0"/>
<polygon points="275.50,174.45 277.20,171.39 273.80,171.39" fill="#2a3fa0"/>
<polygon points="277.50,174.36 279.20,171.30 275.80,171.30" fill="#2a3fa0"/>
<polygon points="279.50,174.27 281.20,171.21 277.80,171.21" fill="#2a3fa0"/>
<polygon points="281.50,174.17 283.20,171.11 279.80,171.11" fill="#2a3fa0"/>
<polygon points="283.50,174.06 285.20,171.00 281.80,171.00" fill="#2a3fa0"/>
<polygon points="285.50,173.95 287.20,170.89 283.80,170.89" fill="#2a3fa0"/>
<polygon points="287.50,173.83 289.20,170.77 285.80,170.77" fill="#2a3fa0"/>
<polygon points="289.50,173.72 291.20,170.66 287.80,170.66" fill="#2a3fa0"/>
<polygon points="291.50,173.60 293.20,170.54 289.80,170.54" fill="#2a3fa0"/>
<polygon points="293.50,173.58 295.20,170.52 291.80,170.52" fill="#2a3fa0"/>
<polygon points="295.50,173.59 297.20,170.53 293.80,170.53" fill="#2a3fa0"/>
<polygon points="176.50,154.15 178.20,157.21 174.80,157.21" fill="#55bb44"/>
<polygon points="178.50,154.09 180.20,157.15 176.80,157.15" fill="#55bb44"/>
<polygon points="180.50,154.01 182.20,157.07 178.80,157.07" fill="#55bb44"/>
<polygon points="182.50,153.93 184.20,156.99 180.80,156.99" fill="#55bb44"/>
<polygon points="184.50,153.83 186.20,156.89 182.80,156.89" fill="#55bb44"/>
<polygon points="186.50,153.72 188.20,156.78 184.80,156.78" fill="#55bb44"/>
<polygon points="188.50,153.61 190.20,156.67 186.80,156.67" fill="#55bb44"/>
<polygon points="190.50,153.49 192.20,156.55 188.80,156.55" fill="#55bb44"/>
<polygon points="192.50,153.36 194.20,156.42 190.80,156.42" fill="#55bb44"/>
<polygon points="194.50,153.23 196.20,156.29 192.80,156.29" fill="#55bb44"/>
<polygon points="196.50,153.10 198.20,156.16 194.80,156.16" fill="#55bb44"/>
<polygon points="198.50,152.96 200.20,156.02 196.80,156.02" fill="#55bb44"/>
<polygon points="200.50,152.80 202.20,155.86 198.80,155.86" fill="#55bb44"/>
<polygon points="202.50,152.56 204.20,155.62 200.80,155.62" fill="#55bb44"/>
<polygon points="204.50,152.26 206.20,155.32 202.80,155.32" fill="#55bb44"/>
<polygon points="206.50,151.89 208.20,154.95 204.80,154.95" fill="#55bb44"/>
<polygon points="208.50,151.46 210.20,154.52 206.80,154.52" fill="#55bb44"/>
<polygon points="210.50,150.96 212.20,154.02 208.80,154.02" fill="#55bb44"/>
<polygon points="212.50,150.37 214.20,153.43 210.80,153.43" fill="#55bb44"/>
<polygon points="214.50,149.68 216.20,152.74 212.80,152.74" fill="#55bb44"/>
<polygon points="216.50,148.85 218.20,151.91 214.80,151.91" fill="#55bb44"/>
<polygon points="218.50,147.79 220.20,150.85 216.80,150.85" fill="#55bb44"/>
<polygon points="220.50,146.40 222.20,149.46 218.80,149.46" fill="#55bb44"/>
<polygon points="222.50,144.41 224.20,147.47 220.80,147.47" fill="#55bb44"/>
<polygon points="224.50,141.47 226.20,144.53 222.80,144.53" fill="#55bb44"/>
<polygon points="226.50,137.01 228.20,140.07 224.80,140.07" fill="#55bb44"/>
<polygon points="228.50,130.23 230.20,133.29 226.80,133.29" fill="#55bb44"/>
<polygon points="230.50,120.44 232.20,123.50 228.80,123.50" fill="#55bb44"/>
<polygon points="232.50,109.22 234.20,112.28 230.80,112.28" fill="#55bb44"/>
<polygon points="234.50,104.51 236.20,107.57 232.80,107.57" fill="#55bb44"/>
<polygon points="236.50,114.84 238.20,117.90 234.80,117.90" fill="#55bb44"/>
<polygon points="238.50,128.57 240.20,131.63 236.80,131.63" fill="#55bb44"/>
<polygon points="240.50,137.55 242.20,140.61 238.80,140.61" fill="#55bb44"/>
<polygon points="242.50,142.76 244.20,145.82 240.80,145.82" fill="#55bb44"/>
<polygon points="244.50,147.22 246.20,150.28 242.80,150.28" fill="#55bb44"/>
<polygon points="246.50,150.50 248.20,153.56 244.80,153.56" fill="#55bb44"/>
<polygon points="248.50,151.65 250.20,154.71 246.80,154.71" fill="#55bb44"/>
<polygon points="250.50,152.45 252.20,155.51 248.80,155.51" fill="#55bb44"/>
<polygon points="252.50,153.01 254.20,156.07 250.80,156.07" fill="#55bb44"/>
<polygon points="254.50,153.40 256.20,156.46 252.80,156.46" fill="#55bb44"/>
<polygon points="256.50,153.68 258.20,156.74 254.80,156.74" fill="#55bb44"/>
<polygon points="258.50,153.88 260.20,156.94 256.80,156.94" fill="#55bb44"/>
<polygon points="260.50,154.03 262.20,157.09 258.80,157.09" fill="#55bb44"/>
<polygon points="262.50,154.09 264.20,157.15 260.80,157.15" fill="#55bb44"/>
<polygon points="264.50,154.00 266.20,157.06 262.80,157.06" fill="#55bb44"/>
<polygon points="266.50,153.89 268.20,156.95 264.80,156.95" fill="#55bb44"/>
<polygon points="268.50,153.76 270.20,156.82 266.80,156.82" fill="#55bb44"/>
<polygon points="270.50,153.61 272.20,156.67 268.80,156.67" fill="#55bb44"/>
<polygon points="272.50,153.44 274.20,156.50 270.80,156.50" fill="#55bb44"/>
<polygon points="274.50,153.27 276.20,156.33 272.80,156.33" fill="#55bb44"/>
<polygon points="276.50,153.09 278.20,156.15 274.80,156.15" fill="#55bb44"/>
<polygon points="278.50,152.91 280.20,155.97 276.80,155.97" fill="#55bb44"/>
<polygon points="280.50,152.72 282.20,155.78 278.80,155.78" fill="#55bb44"/>
<polygon points="282.50,152.53 284.20,155.59 280.80,155.59" fill="#55bb44"/>
<polygon points="284.50,152.35 286.20,155.41 282.80,155.41" fill="#55bb44"/>
<polygon points="286.50,152.16 288.20,155.22 284.80,155.22" fill="#55bb44"/>
<polygon points="288.50,151.97 290.20,155.03 286.80,155.03" fill="#55bb44"/>
<polygon points="290.50,151.79 292.20,154.85 288.80,154.85" fill="#55bb44"/>
<polygon points="292.50,151.65 294.20,154.71 290.80,154.71" fill="#55bb44"/>
<polygon points="294.50,151.62 296.20,154.68 292.80,154.68" fill="#55bb44"/>
<polygon points="296.50,151.60 298.20,154.66 294.80,154.66" fill="#55bb44"/>
<polyline points="175.50,158.41 176.00,158.40 176.50,158.39 177.00,158.37 177.50,158.36 178.00,158.34 178.50,158.32 179.00,158.31 179.50,158.29 180.00,158.27 180.50,158.25 181.00,158.23 181.50,158.21 182.00,158.19 182.50,158.16 183.00,158.14 183.50,158.12 184.00,158.09 184.50,158.07 185.00,158.04 185.50,158.01 186.00,157.99 186.50,157.96 187.00,157.93 187.50,157.90 188.00,157.87 188.50,157.84 189.00,157.82 189.50,157.79 190.00,157.76 190.50,157.72 191.00,157.69 191.50,157.66 192.00,157.63 192.50,157.60 193.00,157.57 193.50,157.54 194.00,157.50 194.50,157.47 195.00,157.44 195.50,157.40 196.00,157.37 196.50,157.34 197.00,157.30 197.50,157.27 198.00,157.23 198.50,157.20 199.00,157.16 199.50,157.12 200.00,157.09 200.50,157.03 201.00,156.98 201.50,156.92 202.00,156.86 202.50,156.79 203.00,156.72 203.50,156.65 204.00,156.57 204.50,156.49 205.00,156.41 205.50,156.32 206.00,156.23 206.50,156.13 207.00,156.03 207.50,155.92 208.00,155.81 208.50,155.70 209.00,155.58 209.50,155.46 210.00,155.33 210.50,155.20 211.00,155.06 211.50,154.92 212.00,154.77 212.50,154.61 213.00,154.45 213.50,154.28 214.00,154.10 214.50,153.92 215.00,153.73 215.50,153.52 216.00,153.31 216.50,153.08 217.00,152.84 217.50,152.59 218.00,152.32 218.50,152.03 219.00,151.72 219.50,151.39 220.00,151.03 220.50,150.64 221.00,150.21 221.50,149.74 222.00,149.22 222.50,148.65 223.00,148.02 223.50,147.32 224.00,146.56 224.50,145.71 225.00,144.76 225.50,143.71 226.00,142.55 226.50,141.25 227.00,139.80 227.50,138.19 228.00,136.40 228.50,134.41 229.00,132.22 229.50,129.82 230.00,127.21 230.50,124.43 231.00,121.52 231.50,118.56 232.00,115.67 232.50,113.01 233.00,110.75 233.50,109.08 234.00,108.15 234.50,108.10 235.00,109.27 235.50,111.57 236.00,114.68 236.50,118.23 237.00,121.90 237.50,125.46 238.00,128.77 238.50,131.76 239.00,134.42 239.50,136.75 240.00,138.77 240.50,140.54 241.00,142.06 241.50,143.39 242.00,144.54 242.50,145.54 243.00,146.42 243.50,147.18 244.00,147.86 244.50,148.45 245.00,148.98 245.50,149.45 246.00,149.86 246.50,150.23 247.00,150.57 247.50,150.87 248.00,151.14 248.50,151.39 249.00,151.61 249.50,151.82 250.00,152.01 250.50,152.18 251.00,152.34 251.50,152.49 252.00,152.62 252.50,152.74 253.00,152.85 253.50,152.96 254.00,153.05 254.50,153.14 255.00,153.22 255.50,153.29 256.00,153.36 256.50,153.42 257.00,153.48 257.50,153.53 258.00,153.58 258.50,153.62 259.00,153.66 259.50,153.70 260.00,153.73 260.50,153.76 261.00,153.79 261.50,153.82 262.00,153.84 262.50,153.86 263.00,153.88 263.50,153.90 264.00,153.91 264.50,153.93 265.00,153.94 265.50,153.95 266.00,153.96 266.50,153.96 267.00,153.97 267.50,153.97 268.00,153.98 268.50,153.98 269.00,153.98 269.50,153.98 270.00,153.98 270.50,153.98 271.00,153.98 271.50,153.97 272.00,153.97 272.50,153.97 273.00,153.96 273.50,153.96 274.00,153.95 274.50,153.95 275.00,153.94 275.50,153.93 276.00,153.92 276.50,153.92 277.00,153.91 277.50,153.90 278.00,153.89 278.50,153.88 279.00,153.87 279.50,153.86 280.00,153.86 280.50,153.85 281.00,153.84 281.50,153.83 282.00,153.82 282.50,153.81 283.00,153.80 283.50,153.79 284.00,153.78 284.50,153.77 285.00,153.76 285.50,153.75 286.00,153.74 286.50,153.73 287.00,153.72 287.50,153.71 288.00,153.70 288.50,153.70 289.00,153.69 289.50,153.68 290.00,153.67 290.50,153.66 291.00,153.66 291.50,153.65 292.00,153.64 292.50,153.64 293.00,153.63 293.50,153.62 294.00,153.62 294.50,153.61 295.00,153.61 295.50,153.60 296.00,153.60 296.50,153.59" fill="none" stroke="#111" stroke-width="1.1" stroke-linejoin="round" stroke-linecap="round" />
<polyline points="175.50,177.87 176.00,177.86 176.50,177.84 177.00,177.82 177.50,177.80 178.00,177.78 178.50,177.76 179.00,177.73 179.50,177.71 180.00,177.69 180.50,177.66 181.00,177.63 181.50,177.60 182.00,177.57 182.50,177.54 183.00,177.51 183.50,177.48 184.00,177.45 184.50,177.42 185.00,177.38 185.50,177.35 186.00,177.31 186.50,177.28 187.00,177.24 187.50,177.21 188.00,177.17 188.50,177.13 189.00,177.09 189.50,177.06 190.00,177.02 190.50,176.98 191.00,176.94 191.50,176.90 192.00,176.86 192.50,176.82 193.00,176.78 193.50,176.74 194.00,176.70 194.50,176.67 195.00,176.63 195.50,176.59 196.00,176.55 196.50,176.51 197.00,176.47 197.50,176.43 198.00,176.39 198.50,176.35 199.00,176.31 199.50,176.27 200.00,176.23 200.50,176.18 201.00,176.13 201.50,176.07 202.00,176.01 202.50,175.95 203.00,175.88 203.50,175.81 204.00,175.73 204.50,175.66 205.00,175.57 205.50,175.49 206.00,175.40 206.50,175.31 207.00,175.21 207.50,175.11 208.00,175.01 208.50,174.90 209.00,174.79 209.50,174.68 210.00,174.57 210.50,174.45 211.00,174.32 211.50,174.20 212.00,174.07 212.50,173.94 213.00,173.80 213.50,173.66 214.00,173.51 214.50,173.36 215.00,173.20 215.50,173.03 216.00,172.86 216.50,172.66 217.00,172.45 217.50,172.22 218.00,171.97 218.50,171.69 219.00,171.40 219.50,171.09 220.00,170.75 220.50,170.38 221.00,169.99 221.50,169.57 222.00,169.11 222.50,168.62 223.00,168.08 223.50,167.51 224.00,166.88 224.50,166.21 225.00,165.47 225.50,164.66 226.00,163.78 226.50,162.81 227.00,161.74 227.50,160.57 228.00,159.26 228.50,157.82 229.00,156.22 229.50,154.43 230.00,152.45 230.50,150.24 231.00,147.79 231.50,145.08 232.00,142.12 232.50,138.91 233.00,135.51 233.50,131.98 234.00,128.44 234.50,125.05 235.00,122.01 235.50,119.52 236.00,117.81 236.50,117.03 237.00,117.42 237.50,119.24 238.00,122.22 238.50,125.98 239.00,130.12 239.50,134.31 240.00,138.33 240.50,142.04 241.00,145.38 241.50,148.33 242.00,150.93 242.50,153.18 243.00,155.14 243.50,156.84 244.00,158.32 244.50,159.60 245.00,160.72 245.50,161.70 246.00,162.55 246.50,163.30 247.00,163.96 247.50,164.55 248.00,165.07 248.50,165.54 249.00,165.96 249.50,166.34 250.00,166.68 250.50,167.02 251.00,167.33 251.50,167.61 252.00,167.87 252.50,168.10 253.00,168.32 253.50,168.52 254.00,168.70 254.50,168.87 255.00,169.02 255.50,169.16 256.00,169.30 256.50,169.42 257.00,169.53 257.50,169.64 258.00,169.74 258.50,169.83 259.00,169.92 259.50,170.00 260.00,170.07 260.50,170.14 261.00,170.21 261.50,170.27 262.00,170.33 262.50,170.38 263.00,170.44 263.50,170.48 264.00,170.53 264.50,170.57 265.00,170.61 265.50,170.65 266.00,170.69 266.50,170.72 267.00,170.75 267.50,170.78 268.00,170.81 268.50,170.84 269.00,170.86 269.50,170.89 270.00,170.91 270.50,170.93 271.00,170.95 271.50,170.97 272.00,170.99 272.50,171.00 273.00,171.02 273.50,171.04 274.00,171.05 274.50,171.06 275.00,171.08 275.50,171.09 276.00,171.10 276.50,171.11 277.00,171.12 277.50,171.13 278.00,171.14 278.50,171.15 279.00,171.16 279.50,171.17 280.00,171.18 280.50,171.18 281.00,171.19 281.50,171.20 282.00,171.20 282.50,171.21 283.00,171.21 283.50,171.22 284.00,171.23 284.50,171.23 285.00,171.24 285.50,171.24 286.00,171.24 286.50,171.25 287.00,171.25 287.50,171.26 288.00,171.26 288.50,171.26 289.00,171.27 289.50,171.27 290.00,171.27 290.50,171.28 291.00,171.28 291.50,171.28 292.00,171.29 292.50,171.29 293.00,171.29 293.50,171.29 294.00,171.30 294.50,171.30 295.00,171.30 295.50,171.30 296.00,171.31 296.50,171.31" fill="none" stroke="#111" stroke-width="1.1" stroke-linejoin="round" stroke-linecap="round" />
<text x="224.00" y="112.60" font-size="8.6" text-anchor="start" font-weight="normal" font-style="normal" fill="#222" font-family='"Liberation Serif", serif' >γ</text>
<text x="251.50" y="132.70" font-size="10.8" text-anchor="start" font-weight="normal" font-style="normal" fill="#222" font-family='"Liberation Serif", serif' >δ</text>
<line x1="254.30" y1="135.50" x2="254.30" y2="150.50" stroke="#111" stroke-width="0.8" />
<polygon points="252.6,147.5 256.0,147.5 254.3,151.5" fill="#111"/>
<line x1="255.70" y1="179.00" x2="255.70" y2="184.00" stroke="#111" stroke-width="0.8" />
<polygon points="254.0,181.5 257.4,181.5 255.7,177.5" fill="#111"/>
<rect x="187.90" y="54.50" width="5.00" height="5.00" fill="#e8583a"/>
<circle cx="190.50" cy="65.80" r="2.80" fill="#e8141c"/>
<polygon points="190.70,70.90 194.50,77.74 186.90,77.74" fill="#4cb848"/>
<polygon points="190.70,88.30 194.50,81.46 186.90,81.46" fill="#2b3d9e"/>
<polygon points="194.06,92.60 188.12,89.30 188.12,95.90" fill="#4fc3e8"/>
<text x="201.6" y="59.70" font-size="7.4" font-family='"Liberation Sans", sans-serif' fill="#222"><tspan font-style="italic">T</tspan> = 295K</text>
<text x="201.6" y="68.50" font-size="7.4" font-family='"Liberation Sans", sans-serif' fill="#222"><tspan font-style="italic">T</tspan> = 150K</text>
<text x="201.6" y="77.30" font-size="7.4" font-family='"Liberation Sans", sans-serif' fill="#222"><tspan font-style="italic">T</tspan> = 100K</text>
<text x="201.6" y="87.00" font-size="7.4" font-family='"Liberation Sans", sans-serif' fill="#222"><tspan font-style="italic">T</tspan> = 50K</text>
<text x="201.6" y="95.70" font-size="7.4" font-family='"Liberation Sans", sans-serif' fill="#222"><tspan font-style="italic">T</tspan> = 10K</text>
<line x1="182.40" y1="102.60" x2="198.30" y2="102.60" stroke="#111" stroke-width="1.1" />
<text x="201.00" y="105.30" font-size="7.35" text-anchor="start" font-weight="normal" font-style="normal" fill="#222" font-family='"Liberation Sans", sans-serif' >Lorentzian Model</text>
<rect x="315.50" y="7.80" width="120.20" height="180.00" fill="none" stroke="#4a4a4a" stroke-width="1"/>
<line x1="320.31" y1="187.80" x2="320.31" y2="186.30" stroke="#4a4a4a" stroke-width="0.8" />
<line x1="320.31" y1="7.80" x2="320.31" y2="9.30" stroke="#4a4a4a" stroke-width="0.8" />
<line x1="325.12" y1="187.80" x2="325.12" y2="186.30" stroke="#4a4a4a" stroke-width="0.8" />
<line x1="325.12" y1="7.80" x2="325.12" y2="9.30" stroke="#4a4a4a" stroke-width="0.8" />
<line x1="329.92" y1="187.80" x2="329.92" y2="186.30" stroke="#4a4a4a" stroke-width="0.8" />
<line x1="329.92" y1="7.80" x2="329.92" y2="9.30" stroke="#4a4a4a" stroke-width="0.8" />
<line x1="334.73" y1="187.80" x2="334.73" y2="186.30" stroke="#4a4a4a" stroke-width="0.8" />
<line x1="334.73" y1="7.80" x2="334.73" y2="9.30" stroke="#4a4a4a" stroke-width="0.8" />
<line x1="344.35" y1="187.80" x2="344.35" y2="186.30" stroke="#4a4a4a" stroke-width="0.8" />
<line x1="344.35" y1="7.80" x2="344.35" y2="9.30" stroke="#4a4a4a" stroke-width="0.8" />
<line x1="349.16" y1="187.80" x2="349.16" y2="186.30" stroke="#4a4a4a" stroke-width="0.8" />
<line x1="349.16" y1="7.80" x2="349.16" y2="9.30" stroke="#4a4a4a" stroke-width="0.8" />
<line x1="353.96" y1="187.80" x2="353.96" y2="186.30" stroke="#4a4a4a" stroke-width="0.8" />
<line x1="353.96" y1="7.80" x2="353.96" y2="9.30" stroke="#4a4a4a" stroke-width="0.8" />
<line x1="358.77" y1="187.80" x2="358.77" y2="186.30" stroke="#4a4a4a" stroke-width="0.8" />
<line x1="358.77" y1="7.80" x2="358.77" y2="9.30" stroke="#4a4a4a" stroke-width="0.8" />
<line x1="368.39" y1="187.80" x2="368.39" y2="186.30" stroke="#4a4a4a" stroke-width="0.8" />
<line x1="368.39" y1="7.80" x2="368.39" y2="9.30" stroke="#4a4a4a" stroke-width="0.8" />
<line x1="373.20" y1="187.80" x2="373.20" y2="186.30" stroke="#4a4a4a" stroke-width="0.8" />
<line x1="373.20" y1="7.80" x2="373.20" y2="9.30" stroke="#4a4a4a" stroke-width="0.8" />
<line x1="378.00" y1="187.80" x2="378.00" y2="186.30" stroke="#4a4a4a" stroke-width="0.8" />
<line x1="378.00" y1="7.80" x2="378.00" y2="9.30" stroke="#4a4a4a" stroke-width="0.8" />
<line x1="382.81" y1="187.80" x2="382.81" y2="186.30" stroke="#4a4a4a" stroke-width="0.8" />
<line x1="382.81" y1="7.80" x2="382.81" y2="9.30" stroke="#4a4a4a" stroke-width="0.8" />
<line x1="392.43" y1="187.80" x2="392.43" y2="186.30" stroke="#4a4a4a" stroke-width="0.8" />
<line x1="392.43" y1="7.80" x2="392.43" y2="9.30" stroke="#4a4a4a" stroke-width="0.8" />
<line x1="397.24" y1="187.80" x2="397.24" y2="186.30" stroke="#4a4a4a" stroke-width="0.8" />
<line x1="397.24" y1="7.80" x2="397.24" y2="9.30" stroke="#4a4a4a" stroke-width="0.8" />
<line x1="402.04" y1="187.80" x2="402.04" y2="186.30" stroke="#4a4a4a" stroke-width="0.8" />
<line x1="402.04" y1="7.80" x2="402.04" y2="9.30" stroke="#4a4a4a" stroke-width="0.8" />
<line x1="406.85" y1="187.80" x2="406.85" y2="186.30" stroke="#4a4a4a" stroke-width="0.8" />
<line x1="406.85" y1="7.80" x2="406.85" y2="9.30" stroke="#4a4a4a" stroke-width="0.8" />
<line x1="416.47" y1="187.80" x2="416.47" y2="186.30" stroke="#4a4a4a" stroke-width="0.8" />
<line x1="416.47" y1="7.80" x2="416.47" y2="9.30" stroke="#4a4a4a" stroke-width="0.8" />
<line x1="421.28" y1="187.80" x2="421.28" y2="186.30" stroke="#4a4a4a" stroke-width="0.8" />
<line x1="421.28" y1="7.80" x2="421.28" y2="9.30" stroke="#4a4a4a" stroke-width="0.8" />
<line x1="426.08" y1="187.80" x2="426.08" y2="186.30" stroke="#4a4a4a" stroke-width="0.8" />
<line x1="426.08" y1="7.80" x2="426.08" y2="9.30" stroke="#4a4a4a" stroke-width="0.8" />
<line x1="430.89" y1="187.80" x2="430.89" y2="186.30" stroke="#4a4a4a" stroke-width="0.8" />
<line x1="430.89" y1="7.80" x2="430.89" y2="9.30" stroke="#4a4a4a" stroke-width="0.8" />
<line x1="315.50" y1="187.80" x2="315.50" y2="185.00" stroke="#4a4a4a" stroke-width="0.9" />
<line x1="315.50" y1="7.80" x2="315.50" y2="10.60" stroke="#4a4a4a" stroke-width="0.9" />
<text x="315.50" y="195.60" font-size="6.8" text-anchor="middle" font-weight="normal" font-style="normal" fill="#222" font-family='"Liberation Sans", sans-serif' >245</text>
<line x1="339.54" y1="187.80" x2="339.54" y2="185.00" stroke="#4a4a4a" stroke-width="0.9" />
<line x1="339.54" y1="7.80" x2="339.54" y2="10.60" stroke="#4a4a4a" stroke-width="0.9" />
<text x="339.54" y="195.60" font-size="6.8" text-anchor="middle" font-weight="normal" font-style="normal" fill="#222" font-family='"Liberation Sans", sans-serif' >250</text>
<line x1="363.58" y1="187.80" x2="363.58" y2="185.00" stroke="#4a4a4a" stroke-width="0.9" />
<line x1="363.58" y1="7.80" x2="363.58" y2="10.60" stroke="#4a4a4a" stroke-width="0.9" />
<text x="363.58" y="195.60" font-size="6.8" text-anchor="middle" font-weight="normal" font-style="normal" fill="#222" font-family='"Liberation Sans", sans-serif' >255</text>
<line x1="387.62" y1="187.80" x2="387.62" y2="185.00" stroke="#4a4a4a" stroke-width="0.9" />
<line x1="387.62" y1="7.80" x2="387.62" y2="10.60" stroke="#4a4a4a" stroke-width="0.9" />
<text x="387.62" y="195.60" font-size="6.8" text-anchor="middle" font-weight="normal" font-style="normal" fill="#222" font-family='"Liberation Sans", sans-serif' >260</text>
<line x1="411.66" y1="187.80" x2="411.66" y2="185.00" stroke="#4a4a4a" stroke-width="0.9" />
<line x1="411.66" y1="7.80" x2="411.66" y2="10.60" stroke="#4a4a4a" stroke-width="0.9" />
<text x="411.66" y="195.60" font-size="6.8" text-anchor="middle" font-weight="normal" font-style="normal" fill="#222" font-family='"Liberation Sans", sans-serif' >265</text>
<line x1="435.70" y1="187.80" x2="435.70" y2="185.00" stroke="#4a4a4a" stroke-width="0.9" />
<line x1="435.70" y1="7.80" x2="435.70" y2="10.60" stroke="#4a4a4a" stroke-width="0.9" />
<text x="435.70" y="195.60" font-size="6.8" text-anchor="middle" font-weight="normal" font-style="normal" fill="#222" font-family='"Liberation Sans", sans-serif' >270</text>
<line x1="315.50" y1="30.00" x2="317.00" y2="30.00" stroke="#4a4a4a" stroke-width="0.8" />
<line x1="435.70" y1="30.00" x2="434.20" y2="30.00" stroke="#4a4a4a" stroke-width="0.8" />
<line x1="315.50" y1="50.00" x2="317.00" y2="50.00" stroke="#4a4a4a" stroke-width="0.8" />
<line x1="435.70" y1="50.00" x2="434.20" y2="50.00" stroke="#4a4a4a" stroke-width="0.8" />
<line x1="315.50" y1="70.00" x2="317.00" y2="70.00" stroke="#4a4a4a" stroke-width="0.8" />
<line x1="435.70" y1="70.00" x2="434.20" y2="70.00" stroke="#4a4a4a" stroke-width="0.8" />
<line x1="315.50" y1="90.00" x2="317.00" y2="90.00" stroke="#4a4a4a" stroke-width="0.8" />
<line x1="435.70" y1="90.00" x2="434.20" y2="90.00" stroke="#4a4a4a" stroke-width="0.8" />
<line x1="315.50" y1="110.00" x2="317.00" y2="110.00" stroke="#4a4a4a" stroke-width="0.8" />
<line x1="435.70" y1="110.00" x2="434.20" y2="110.00" stroke="#4a4a4a" stroke-width="0.8" />
<line x1="315.50" y1="130.00" x2="317.00" y2="130.00" stroke="#4a4a4a" stroke-width="0.8" />
<line x1="435.70" y1="130.00" x2="434.20" y2="130.00" stroke="#4a4a4a" stroke-width="0.8" />
<line x1="315.50" y1="150.00" x2="317.00" y2="150.00" stroke="#4a4a4a" stroke-width="0.8" />
<line x1="435.70" y1="150.00" x2="434.20" y2="150.00" stroke="#4a4a4a" stroke-width="0.8" />
<line x1="315.50" y1="170.00" x2="317.00" y2="170.00" stroke="#4a4a4a" stroke-width="0.8" />
<line x1="435.70" y1="170.00" x2="434.20" y2="170.00" stroke="#4a4a4a" stroke-width="0.8" />
<text x="421.20" y="21.20" font-size="9.6" text-anchor="start" font-weight="bold" font-style="normal" fill="#222" font-family='"Liberation Sans", sans-serif' >(c)</text>
<text transform="translate(312.6,124.8) rotate(-90)" textLength="41.5" lengthAdjust="spacingAndGlyphs" font-size="8" font-family='"Liberation Sans", sans-serif' fill="#222">Δσ<tspan font-size="4.3" dy="1.5">1</tspan><tspan dy="-1.5"> (Ω</tspan><tspan font-size="4.3" dy="-2.4">-1</tspan><tspan dy="2.4">cm</tspan><tspan font-size="4.3" dy="-2.4">-1</tspan><tspan dy="2.4">)</tspan></text>
<polyline points="315.50,60.57 316.00,60.55 316.50,60.52 317.00,60.50 317.50,60.48 318.00,60.45 318.50,60.43 319.00,60.40 319.50,60.37 320.00,60.34 320.50,60.32 321.00,60.29 321.50,60.26 322.00,60.22 322.50,60.19 323.00,60.16 323.50,60.12 324.00,60.09 324.50,60.05 325.00,60.02 325.50,59.98 326.00,59.94 326.50,59.90 327.00,59.86 327.50,59.82 328.00,59.78 328.50,59.74 329.00,59.70 329.50,59.65 330.00,59.61 330.50,59.56 331.00,59.52 331.50,59.47 332.00,59.42 332.50,59.37 333.00,59.32 333.50,59.27 334.00,59.22 334.50,59.17 335.00,59.11 335.50,59.06 336.00,59.00 336.50,58.94 337.00,58.88 337.50,58.83 338.00,58.76 338.50,58.70 339.00,58.64 339.50,58.58 340.00,58.51 340.50,58.44 341.00,58.37 341.50,58.30 342.00,58.23 342.50,58.16 343.00,58.09 343.50,58.01 344.00,57.93 344.50,57.85 345.00,57.77 345.50,57.68 346.00,57.59 346.50,57.50 347.00,57.41 347.50,57.31 348.00,57.21 348.50,57.11 349.00,57.00 349.50,56.89 350.00,56.78 350.50,56.66 351.00,56.53 351.50,56.40 352.00,56.27 352.50,56.12 353.00,55.98 353.50,55.82 354.00,55.65 354.50,55.48 355.00,55.30 355.50,55.11 356.00,54.90 356.50,54.70 357.00,54.50 357.50,54.27 358.00,54.03 358.50,53.78 359.00,53.50 359.50,53.20 360.00,52.88 360.50,52.52 361.00,52.14 361.50,51.72 362.00,51.27 362.50,50.76 363.00,50.21 363.50,49.60 364.00,48.93 364.50,48.18 365.00,47.35 365.50,46.43 366.00,45.39 366.50,44.23 367.00,42.93 367.50,41.47 368.00,39.83 368.50,37.99 369.00,35.94 369.50,33.65 370.00,31.13 370.50,28.39 371.00,25.49 371.50,22.50 372.00,19.60 372.50,16.98 373.00,14.93 373.50,13.74 374.00,13.66 374.50,14.81 375.00,17.12 375.50,20.37 376.00,24.24 376.50,28.37 377.00,32.47 377.50,36.34 378.00,39.86 378.50,42.98 379.00,45.70 379.50,48.05 380.00,50.06 380.50,51.77 381.00,53.23 381.50,54.47 382.00,55.54 382.50,56.45 383.00,57.23 383.50,57.90 384.00,58.49 384.50,58.99 385.00,59.43 385.50,59.81 386.00,60.15 386.50,60.45 387.00,60.71 387.50,60.94 388.00,61.15 388.50,61.33 389.00,61.49 389.50,61.64 390.00,61.77 390.50,61.89 391.00,62.00 391.50,62.09 392.00,62.18 392.50,62.26 393.00,62.34 393.50,62.40 394.00,62.47 394.50,62.52 395.00,62.58 395.50,62.63 396.00,62.67 396.50,62.71 397.00,62.76 397.50,62.79 398.00,62.83 398.50,62.86 399.00,62.89 399.50,62.92 400.00,62.95 400.50,62.98 401.00,63.01 401.50,63.03 402.00,63.06 402.50,63.08 403.00,63.10 403.50,63.12 404.00,63.14 404.50,63.16 405.00,63.18 405.50,63.20 406.00,63.22 406.50,63.24 407.00,63.26 407.50,63.28 408.00,63.30 408.50,63.31 409.00,63.33 409.50,63.35 410.00,63.36 410.50,63.38 411.00,63.39 411.50,63.41 412.00,63.42 412.50,63.44 413.00,63.45 413.50,63.47 414.00,63.48 414.50,63.50 415.00,63.51 415.50,63.53 416.00,63.54 416.50,63.55 417.00,63.57 417.50,63.58 418.00,63.59 418.50,63.60 419.00,63.62 419.50,63.63 420.00,63.64 420.50,63.65 421.00,63.66 421.50,63.67 422.00,63.69 422.50,63.70 423.00,63.71 423.50,63.72 424.00,63.73 424.50,63.74 425.00,63.75 425.50,63.76 426.00,63.77 426.50,63.77 427.00,63.78 427.50,63.79 428.00,63.80 428.50,63.81 429.00,63.82 429.50,63.82 430.00,63.83 430.50,63.84 431.00,63.84 431.50,63.85 432.00,63.86 432.50,63.86 433.00,63.87 433.50,63.87 434.00,63.88 434.50,63.88 435.00,63.88 435.50,63.89" fill="none" stroke="#e8332c" stroke-width="1.1" stroke-linejoin="round" stroke-linecap="round" />
<polyline points="315.50,121.47 316.00,121.46 316.50,121.44 317.00,121.43 317.50,121.41 318.00,121.40 318.50,121.38 319.00,121.37 319.50,121.35 320.00,121.33 320.50,121.32 321.00,121.30 321.50,121.28 322.00,121.26 322.50,121.25 323.00,121.23 323.50,121.21 324.00,121.19 324.50,121.17 325.00,121.15 325.50,121.13 326.00,121.10 326.50,121.08 327.00,121.06 327.50,121.04 328.00,121.01 328.50,120.99 329.00,120.96 329.50,120.94 330.00,120.91 330.50,120.88 331.00,120.86 331.50,120.83 332.00,120.80 332.50,120.77 333.00,120.74 333.50,120.71 334.00,120.68 334.50,120.65 335.00,120.61 335.50,120.58 336.00,120.55 336.50,120.51 337.00,120.47 337.50,120.44 338.00,120.40 338.50,120.36 339.00,120.32 339.50,120.28 340.00,120.23 340.50,120.19 341.00,120.14 341.50,120.10 342.00,120.05 342.50,120.00 343.00,119.95 343.50,119.90 344.00,119.84 344.50,119.79 345.00,119.73 345.50,119.67 346.00,119.61 346.50,119.54 347.00,119.48 347.50,119.41 348.00,119.33 348.50,119.26 349.00,119.18 349.50,119.10 350.00,119.02 350.50,118.93 351.00,118.84 351.50,118.74 352.00,118.64 352.50,118.54 353.00,118.43 353.50,118.31 354.00,118.19 354.50,118.06 355.00,117.93 355.50,117.78 356.00,117.63 356.50,117.47 357.00,117.30 357.50,117.12 358.00,116.93 358.50,116.73 359.00,116.51 359.50,116.28 360.00,116.03 360.50,115.78 361.00,115.50 361.50,115.21 362.00,114.89 362.50,114.54 363.00,114.16 363.50,113.75 364.00,113.30 364.50,112.81 365.00,112.27 365.50,111.68 366.00,111.02 366.50,110.30 367.00,109.49 367.50,108.60 368.00,107.60 368.50,106.48 369.00,105.23 369.50,103.83 370.00,102.25 370.50,100.48 371.00,98.50 371.50,96.28 372.00,93.83 372.50,91.15 373.00,88.27 373.50,85.26 374.00,82.25 374.50,79.42 375.00,77.03 375.50,75.38 376.00,74.75 376.50,75.31 377.00,77.09 377.50,79.93 378.00,83.54 378.50,87.57 379.00,91.70 379.50,95.67 380.00,99.35 380.50,102.64 381.00,105.54 381.50,108.05 382.00,110.22 382.50,112.07 383.00,113.65 383.50,115.01 384.00,116.16 384.50,117.16 385.00,118.01 385.50,118.75 386.00,119.38 386.50,119.94 387.00,120.42 387.50,120.84 388.00,121.20 388.50,121.52 389.00,121.81 389.50,122.06 390.00,122.28 390.50,122.47 391.00,122.64 391.50,122.80 392.00,122.93 392.50,123.06 393.00,123.17 393.50,123.27 394.00,123.36 394.50,123.44 395.00,123.52 395.50,123.59 396.00,123.65 396.50,123.71 397.00,123.76 397.50,123.81 398.00,123.85 398.50,123.89 399.00,123.93 399.50,123.97 400.00,124.00 400.50,124.03 401.00,124.06 401.50,124.09 402.00,124.12 402.50,124.14 403.00,124.17 403.50,124.19 404.00,124.21 404.50,124.23 405.00,124.25 405.50,124.27 406.00,124.29 406.50,124.31 407.00,124.32 407.50,124.34 408.00,124.36 408.50,124.37 409.00,124.39 409.50,124.40 410.00,124.42 410.50,124.43 411.00,124.44 411.50,124.46 412.00,124.47 412.50,124.48 413.00,124.50 413.50,124.51 414.00,124.52 414.50,124.53 415.00,124.55 415.50,124.56 416.00,124.57 416.50,124.58 417.00,124.59 417.50,124.60 418.00,124.61 418.50,124.62 419.00,124.63 419.50,124.64 420.00,124.65 420.50,124.66 421.00,124.67 421.50,124.68 422.00,124.69 422.50,124.70 423.00,124.71 423.50,124.72 424.00,124.73 424.50,124.74 425.00,124.74 425.50,124.75 426.00,124.76 426.50,124.77 427.00,124.77 427.50,124.78 428.00,124.79 428.50,124.79 429.00,124.80 429.50,124.80 430.00,124.81 430.50,124.81 431.00,124.82 431.50,124.82 432.00,124.83 432.50,124.83 433.00,124.84 433.50,124.84 434.00,124.84 434.50,124.85 435.00,124.85 435.50,124.85" fill="none" stroke="#e8332c" stroke-width="1.1" stroke-linejoin="round" stroke-linecap="round" />
<polyline points="315.50,183.38 316.00,183.37 316.50,183.35 317.00,183.34 317.50,183.32 318.00,183.31 318.50,183.29 319.00,183.27 319.50,183.26 320.00,183.24 320.50,183.22 321.00,183.20 321.50,183.18 322.00,183.16 322.50,183.14 323.00,183.12 323.50,183.10 324.00,183.08 324.50,183.06 325.00,183.03 325.50,183.01 326.00,182.99 326.50,182.96 327.00,182.94 327.50,182.91 328.00,182.89 328.50,182.86 329.00,182.83 329.50,182.80 330.00,182.78 330.50,182.75 331.00,182.72 331.50,182.69 332.00,182.66 332.50,182.63 333.00,182.59 333.50,182.56 334.00,182.53 334.50,182.49 335.00,182.46 335.50,182.42 336.00,182.39 336.50,182.35 337.00,182.31 337.50,182.27 338.00,182.23 338.50,182.19 339.00,182.15 339.50,182.11 340.00,182.06 340.50,182.02 341.00,181.97 341.50,181.93 342.00,181.88 342.50,181.83 343.00,181.78 343.50,181.73 344.00,181.67 344.50,181.62 345.00,181.56 345.50,181.50 346.00,181.44 346.50,181.38 347.00,181.31 347.50,181.24 348.00,181.17 348.50,181.10 349.00,181.03 349.50,180.95 350.00,180.87 350.50,180.78 351.00,180.69 351.50,180.60 352.00,180.51 352.50,180.41 353.00,180.30 353.50,180.19 354.00,180.08 354.50,179.96 355.00,179.83 355.50,179.69 356.00,179.55 356.50,179.41 357.00,179.26 357.50,179.10 358.00,178.93 358.50,178.75 359.00,178.56 359.50,178.36 360.00,178.14 360.50,177.90 361.00,177.64 361.50,177.37 362.00,177.07 362.50,176.74 363.00,176.39 363.50,176.01 364.00,175.59 364.50,175.13 365.00,174.63 365.50,174.08 366.00,173.47 366.50,172.80 367.00,172.05 367.50,171.21 368.00,170.29 368.50,169.25 369.00,168.08 369.50,166.77 370.00,165.30 370.50,163.64 371.00,161.77 371.50,159.67 372.00,157.32 372.50,154.71 373.00,151.83 373.50,148.72 374.00,145.44 374.50,142.13 375.00,138.97 375.50,136.24 376.00,134.25 376.50,133.30 377.00,133.61 377.50,135.21 378.00,137.97 378.50,141.59 379.00,145.69 379.50,149.94 380.00,154.07 380.50,157.92 381.00,161.39 381.50,164.47 382.00,167.14 382.50,169.46 383.00,171.45 383.50,173.16 384.00,174.63 384.50,175.89 385.00,176.98 385.50,177.92 386.00,178.73 386.50,179.43 387.00,180.05 387.50,180.58 388.00,181.06 388.50,181.47 389.00,181.84 389.50,182.16 390.00,182.45 390.50,182.71 391.00,182.94 391.50,183.15 392.00,183.33 392.50,183.50 393.00,183.65 393.50,183.79 394.00,183.91 394.50,184.03 395.00,184.13 395.50,184.23 396.00,184.32 396.50,184.40 397.00,184.47 397.50,184.54 398.00,184.60 398.50,184.66 399.00,184.72 399.50,184.77 400.00,184.81 400.50,184.86 401.00,184.90 401.50,184.94 402.00,184.98 402.50,185.01 403.00,185.04 403.50,185.08 404.00,185.10 404.50,185.13 405.00,185.16 405.50,185.18 406.00,185.21 406.50,185.23 407.00,185.25 407.50,185.28 408.00,185.30 408.50,185.32 409.00,185.33 409.50,185.35 410.00,185.37 410.50,185.39 411.00,185.40 411.50,185.42 412.00,185.43 412.50,185.45 413.00,185.46 413.50,185.48 414.00,185.49 414.50,185.50 415.00,185.52 415.50,185.53 416.00,185.54 416.50,185.55 417.00,185.57 417.50,185.58 418.00,185.59 418.50,185.60 419.00,185.61 419.50,185.62 420.00,185.63 420.50,185.64 421.00,185.65 421.50,185.66 422.00,185.66 422.50,185.67 423.00,185.68 423.50,185.69 424.00,185.70 424.50,185.70 425.00,185.71 425.50,185.72 426.00,185.73 426.50,185.73 427.00,185.74 427.50,185.74 428.00,185.75 428.50,185.76 429.00,185.76 429.50,185.77 430.00,185.77 430.50,185.78 431.00,185.78 431.50,185.79 432.00,185.79 432.50,185.80 433.00,185.80 433.50,185.80 434.00,185.81 434.50,185.81 435.00,185.81 435.50,185.82" fill="none" stroke="#e8332c" stroke-width="1.1" stroke-linejoin="round" stroke-linecap="round" />
<polygon points="315.67,57.64 317.27,60.52 314.07,60.52" fill="#55bb44"/>
<polygon points="317.87,57.52 319.47,60.40 316.27,60.40" fill="#55bb44"/>
<polygon points="320.23,57.39 321.83,60.27 318.63,60.27" fill="#55bb44"/>
<polygon points="323.21,57.23 324.81,60.11 321.61,60.11" fill="#55bb44"/>
<polygon points="325.56,57.05 327.16,59.93 323.96,59.93" fill="#55bb44"/>
<polygon points="327.73,56.86 329.33,59.74 326.13,59.74" fill="#55bb44"/>
<polygon points="330.35,56.64 331.95,59.52 328.75,59.52" fill="#55bb44"/>
<polygon points="332.77,56.39 334.37,59.27 331.17,59.27" fill="#55bb44"/>
<polygon points="335.67,56.13 337.27,59.01 334.07,59.01" fill="#55bb44"/>
<polygon points="337.83,55.84 339.43,58.72 336.23,58.72" fill="#55bb44"/>
<polygon points="340.75,55.52 342.35,58.40 339.15,58.40" fill="#55bb44"/>
<polygon points="343.15,55.16 344.75,58.04 341.55,58.04" fill="#55bb44"/>
<polygon points="345.25,54.75 346.85,57.63 343.65,57.63" fill="#55bb44"/>
<polygon points="348.12,54.28 349.72,57.16 346.52,57.16" fill="#55bb44"/>
<polygon points="350.44,53.73 352.04,56.61 348.84,56.61" fill="#55bb44"/>
<polygon points="353.15,53.05 354.75,55.93 351.55,55.93" fill="#55bb44"/>
<polygon points="355.70,52.18 357.30,55.06 354.10,55.06" fill="#55bb44"/>
<polygon points="357.87,51.11 359.47,53.99 356.27,53.99" fill="#55bb44"/>
<polygon points="360.25,49.60 361.85,52.48 358.65,52.48" fill="#55bb44"/>
<polygon points="363.27,47.28 364.87,50.16 361.67,50.16" fill="#55bb44"/>
<polygon points="365.45,43.50 367.05,46.38 363.85,46.38" fill="#55bb44"/>
<polygon points="368.26,36.90 369.86,39.78 366.66,39.78" fill="#55bb44"/>
<polygon points="370.61,25.46 372.21,28.34 369.01,28.34" fill="#55bb44"/>
<polygon points="373.14,12.00 374.74,14.88 371.54,14.88" fill="#55bb44"/>
<polygon points="375.70,17.45 377.30,20.33 374.10,20.33" fill="#55bb44"/>
<polygon points="378.08,36.93 379.68,39.81 376.48,39.81" fill="#55bb44"/>
<polygon points="380.47,48.84 382.07,51.72 378.87,51.72" fill="#55bb44"/>
<polygon points="382.73,54.30 384.33,57.18 381.13,57.18" fill="#55bb44"/>
<polygon points="385.62,56.89 387.22,59.77 384.02,59.77" fill="#55bb44"/>
<polygon points="387.96,58.22 389.56,61.10 386.36,61.10" fill="#55bb44"/>
<polygon points="390.51,58.96 392.11,61.84 388.91,61.84" fill="#55bb44"/>
<polygon points="393.26,59.41 394.86,62.29 391.66,62.29" fill="#55bb44"/>
<polygon points="395.28,59.70 396.88,62.58 393.68,62.58" fill="#55bb44"/>
<polygon points="398.16,59.90 399.76,62.78 396.56,62.78" fill="#55bb44"/>
<polygon points="400.23,60.05 401.83,62.93 398.63,62.93" fill="#55bb44"/>
<polygon points="403.12,60.17 404.72,63.05 401.52,63.05" fill="#55bb44"/>
<polygon points="405.68,60.28 407.28,63.16 404.08,63.16" fill="#55bb44"/>
<polygon points="407.86,60.37 409.46,63.25 406.26,63.25" fill="#55bb44"/>
<polygon points="410.53,60.45 412.13,63.33 408.93,63.33" fill="#55bb44"/>
<polygon points="413.28,60.53 414.88,63.41 411.68,63.41" fill="#55bb44"/>
<polygon points="415.58,60.60 417.18,63.48 413.98,63.48" fill="#55bb44"/>
<polygon points="418.03,60.66 419.63,63.54 416.43,63.54" fill="#55bb44"/>
<polygon points="420.35,60.72 421.95,63.60 418.75,63.60" fill="#55bb44"/>
<polygon points="422.74,60.78 424.34,63.66 421.14,63.66" fill="#55bb44"/>
<polygon points="425.41,60.83 427.01,63.71 423.81,63.71" fill="#55bb44"/>
<polygon points="427.95,60.87 429.55,63.75 426.35,63.75" fill="#55bb44"/>
<polygon points="430.32,60.91 431.92,63.79 428.72,63.79" fill="#55bb44"/>
<polygon points="432.89,60.94 434.49,63.82 431.29,63.82" fill="#55bb44"/>
<polygon points="435.28,60.96 436.88,63.84 433.68,63.84" fill="#55bb44"/>
<polygon points="315.62,123.30 317.22,120.42 314.02,120.42" fill="#2a3fa0"/>
<polygon points="318.10,123.23 319.70,120.35 316.50,120.35" fill="#2a3fa0"/>
<polygon points="320.34,123.15 321.94,120.27 318.74,120.27" fill="#2a3fa0"/>
<polygon points="322.85,123.05 324.45,120.17 321.25,120.17" fill="#2a3fa0"/>
<polygon points="325.51,122.95 327.11,120.07 323.91,120.07" fill="#2a3fa0"/>
<polygon points="327.97,122.84 329.57,119.96 326.37,119.96" fill="#2a3fa0"/>
<polygon points="330.76,122.71 332.36,119.83 329.16,119.83" fill="#2a3fa0"/>
<polygon points="332.91,122.57 334.51,119.69 331.31,119.69" fill="#2a3fa0"/>
<polygon points="335.38,122.41 336.98,119.53 333.78,119.53" fill="#2a3fa0"/>
<polygon points="338.23,122.23 339.83,119.35 336.63,119.35" fill="#2a3fa0"/>
<polygon points="340.29,122.02 341.89,119.14 338.69,119.14" fill="#2a3fa0"/>
<polygon points="343.04,121.78 344.64,118.90 341.44,118.90" fill="#2a3fa0"/>
<polygon points="345.40,121.50 347.00,118.62 343.80,118.62" fill="#2a3fa0"/>
<polygon points="348.19,121.16 349.79,118.28 346.59,118.28" fill="#2a3fa0"/>
<polygon points="350.53,120.76 352.13,117.88 348.93,117.88" fill="#2a3fa0"/>
<polygon points="353.16,120.25 354.76,117.37 351.56,117.37" fill="#2a3fa0"/>
<polygon points="355.30,119.61 356.90,116.73 353.70,116.73" fill="#2a3fa0"/>
<polygon points="358.10,118.76 359.70,115.88 356.50,115.88" fill="#2a3fa0"/>
<polygon points="360.56,117.61 362.16,114.73 358.96,114.73" fill="#2a3fa0"/>
<polygon points="362.98,115.99 364.58,113.11 361.38,113.11" fill="#2a3fa0"/>
<polygon points="365.66,113.51 367.26,110.63 364.06,110.63" fill="#2a3fa0"/>
<polygon points="368.20,109.43 369.80,106.55 366.60,106.55" fill="#2a3fa0"/>
<polygon points="370.27,102.31 371.87,99.43 368.67,99.43" fill="#2a3fa0"/>
<polygon points="372.87,90.10 374.47,87.22 371.27,87.22" fill="#2a3fa0"/>
<polygon points="375.42,77.21 377.02,74.33 373.82,74.33" fill="#2a3fa0"/>
<polygon points="377.82,85.37 379.42,82.49 376.22,82.49" fill="#2a3fa0"/>
<polygon points="380.24,104.47 381.84,101.59 378.64,101.59" fill="#2a3fa0"/>
<polygon points="382.87,115.48 384.47,112.60 381.27,112.60" fill="#2a3fa0"/>
<polygon points="385.32,120.58 386.92,117.70 383.72,117.70" fill="#2a3fa0"/>
<polygon points="388.12,123.03 389.72,120.15 386.52,120.15" fill="#2a3fa0"/>
<polygon points="390.47,124.30 392.07,121.42 388.87,121.42" fill="#2a3fa0"/>
<polygon points="392.77,125.00 394.37,122.12 391.17,122.12" fill="#2a3fa0"/>
<polygon points="395.39,125.41 396.99,122.53 393.79,122.53" fill="#2a3fa0"/>
<polygon points="397.98,125.68 399.58,122.80 396.38,122.80" fill="#2a3fa0"/>
<polygon points="400.42,125.86 402.02,122.98 398.82,122.98" fill="#2a3fa0"/>
<polygon points="402.80,125.99 404.40,123.11 401.20,123.11" fill="#2a3fa0"/>
<polygon points="405.24,126.10 406.84,123.22 403.64,123.22" fill="#2a3fa0"/>
<polygon points="407.71,126.18 409.31,123.30 406.11,123.30" fill="#2a3fa0"/>
<polygon points="410.80,126.26 412.40,123.38 409.20,123.38" fill="#2a3fa0"/>
<polygon points="413.15,126.32 414.75,123.44 411.55,123.44" fill="#2a3fa0"/>
<polygon points="415.25,126.38 416.85,123.50 413.65,123.50" fill="#2a3fa0"/>
<polygon points="418.13,126.44 419.73,123.56 416.53,123.56" fill="#2a3fa0"/>
<polygon points="420.79,126.49 422.39,123.61 419.19,123.61" fill="#2a3fa0"/>
<polygon points="423.04,126.54 424.64,123.66 421.44,123.66" fill="#2a3fa0"/>
<polygon points="425.27,126.58 426.87,123.70 423.67,123.70" fill="#2a3fa0"/>
<polygon points="427.99,126.61 429.59,123.73 426.39,123.73" fill="#2a3fa0"/>
<polygon points="430.46,126.64 432.06,123.76 428.86,123.76" fill="#2a3fa0"/>
<polygon points="432.81,126.67 434.41,123.79 431.21,123.79" fill="#2a3fa0"/>
<polygon points="435.53,126.68 437.13,123.80 433.93,123.80" fill="#2a3fa0"/>
<polygon points="316.93,182.28 314.05,180.68 314.05,183.88" fill="#44c3e6"/>
<polygon points="319.98,182.21 317.10,180.61 317.10,183.81" fill="#44c3e6"/>
<polygon points="322.31,182.12 319.43,180.52 319.43,183.72" fill="#44c3e6"/>
<polygon points="324.80,182.02 321.92,180.42 321.92,183.62" fill="#44c3e6"/>
<polygon points="327.49,181.91 324.61,180.31 324.61,183.51" fill="#44c3e6"/>
<polygon points="329.82,181.79 326.94,180.19 326.94,183.39" fill="#44c3e6"/>
<polygon points="332.08,181.65 329.20,180.05 329.20,183.25" fill="#44c3e6"/>
<polygon points="334.58,181.49 331.70,179.89 331.70,183.09" fill="#44c3e6"/>
<polygon points="337.01,181.32 334.13,179.72 334.13,182.92" fill="#44c3e6"/>
<polygon points="339.44,181.13 336.56,179.53 336.56,182.73" fill="#44c3e6"/>
<polygon points="342.39,180.92 339.51,179.32 339.51,182.52" fill="#44c3e6"/>
<polygon points="344.93,180.68 342.05,179.08 342.05,182.28" fill="#44c3e6"/>
<polygon points="347.11,180.40 344.23,178.80 344.23,182.00" fill="#44c3e6"/>
<polygon points="349.54,180.07 346.66,178.47 346.66,181.67" fill="#44c3e6"/>
<polygon points="352.31,179.68 349.43,178.08 349.43,181.28" fill="#44c3e6"/>
<polygon points="354.94,179.20 352.06,177.60 352.06,180.80" fill="#44c3e6"/>
<polygon points="357.48,178.59 354.60,176.99 354.60,180.19" fill="#44c3e6"/>
<polygon points="359.53,177.83 356.65,176.23 356.65,179.43" fill="#44c3e6"/>
<polygon points="362.40,176.80 359.52,175.20 359.52,178.40" fill="#44c3e6"/>
<polygon points="364.93,175.29 362.05,173.69 362.05,176.89" fill="#44c3e6"/>
<polygon points="367.37,172.98 364.49,171.38 364.49,174.58" fill="#44c3e6"/>
<polygon points="369.62,169.19 366.74,167.59 366.74,170.79" fill="#44c3e6"/>
<polygon points="372.04,162.54 369.16,160.94 369.16,164.14" fill="#44c3e6"/>
<polygon points="374.92,150.73 372.04,149.13 372.04,152.33" fill="#44c3e6"/>
<polygon points="377.12,135.14 374.24,133.54 374.24,136.74" fill="#44c3e6"/>
<polygon points="379.65,136.87 376.77,135.27 376.77,138.47" fill="#44c3e6"/>
<polygon points="382.26,156.82 379.38,155.22 379.38,158.42" fill="#44c3e6"/>
<polygon points="384.65,170.35 381.77,168.75 381.77,171.95" fill="#44c3e6"/>
<polygon points="387.43,176.82 384.55,175.22 384.55,178.42" fill="#44c3e6"/>
<polygon points="389.57,179.96 386.69,178.36 386.69,181.56" fill="#44c3e6"/>
<polygon points="391.95,181.61 389.07,180.01 389.07,183.21" fill="#44c3e6"/>
<polygon points="394.77,182.55 391.89,180.95 391.89,184.15" fill="#44c3e6"/>
<polygon points="397.30,183.13 394.42,181.53 394.42,184.73" fill="#44c3e6"/>
<polygon points="399.92,183.50 397.04,181.90 397.04,185.10" fill="#44c3e6"/>
<polygon points="402.35,183.76 399.47,182.16 399.47,185.36" fill="#44c3e6"/>
<polygon points="404.97,183.94 402.09,182.34 402.09,185.54" fill="#44c3e6"/>
<polygon points="407.49,184.08 404.61,182.48 404.61,185.68" fill="#44c3e6"/>
<polygon points="409.72,184.20 406.84,182.60 406.84,185.80" fill="#44c3e6"/>
<polygon points="412.23,184.29 409.35,182.69 409.35,185.89" fill="#44c3e6"/>
<polygon points="414.52,184.36 411.64,182.76 411.64,185.96" fill="#44c3e6"/>
<polygon points="417.11,184.43 414.23,182.83 414.23,186.03" fill="#44c3e6"/>
<polygon points="419.78,184.49 416.90,182.89 416.90,186.09" fill="#44c3e6"/>
<polygon points="421.98,184.54 419.10,182.94 419.10,186.14" fill="#44c3e6"/>
<polygon points="424.84,184.58 421.96,182.98 421.96,186.18" fill="#44c3e6"/>
<polygon points="427.03,184.62 424.15,183.02 424.15,186.22" fill="#44c3e6"/>
<polygon points="429.69,184.65 426.81,183.05 426.81,186.25" fill="#44c3e6"/>
<polygon points="432.51,184.68 429.63,183.08 429.63,186.28" fill="#44c3e6"/>
<polygon points="434.48,184.70 431.60,183.10 431.60,186.30" fill="#44c3e6"/>
<polygon points="436.95,184.72 434.07,183.12 434.07,186.32" fill="#44c3e6"/>
<text x="319.2" y="17.60" font-size="6.5" font-weight="normal" font-family='"Liberation Sans", sans-serif' fill="#000">ω<tspan font-size="4.2" dy="1.4">p</tspan></text>
<text x="327.1" y="17.60" font-size="6.5" font-weight="normal" font-family='"Liberation Sans", sans-serif' fill="#000" textLength="33.60" lengthAdjust="spacingAndGlyphs">= 254.95 cm</text>
<text x="360.90" y="15.30" font-size="4.2" font-weight="normal" font-family='"Liberation Sans", sans-serif' fill="#000">-1</text>
<text x="321.0" y="28.20" font-size="6.5" font-weight="normal" font-family='"Liberation Sans", sans-serif' fill="#000">Γ</text>
<text x="330.1" y="28.20" font-size="6.5" font-weight="normal" font-family='"Liberation Sans", sans-serif' fill="#000" textLength="26.80" lengthAdjust="spacingAndGlyphs">= 1.75 cm</text>
<text x="357.10" y="25.90" font-size="4.2" font-weight="normal" font-family='"Liberation Sans", sans-serif' fill="#000">-1</text>
<text x="319.2" y="37.50" font-size="6.5" font-weight="normal" font-family='"Liberation Sans", sans-serif' fill="#000">ω<tspan font-size="4.2" dy="1.4">0</tspan></text>
<text x="328.8" y="37.50" font-size="6.5" font-weight="normal" font-family='"Liberation Sans", sans-serif' fill="#000" textLength="34.40" lengthAdjust="spacingAndGlyphs">= 257.35 cm</text>
<text x="363.40" y="35.20" font-size="4.2" font-weight="normal" font-family='"Liberation Sans", sans-serif' fill="#000">-1</text>
<text x="323.0" y="46.60" font-size="6.5" font-weight="normal" font-family='"Liberation Sans", sans-serif' fill="#000">q</text>
<text x="329.8" y="46.60" font-size="6.5" font-weight="normal" font-family='"Liberation Sans", sans-serif' fill="#000" textLength="15.80" lengthAdjust="spacingAndGlyphs">= -7.3</text>
<text x="319.6" y="81.70" font-size="6.5" font-weight="normal" font-family='"Liberation Sans", sans-serif' fill="#000">ω<tspan font-size="4.2" dy="1.4">p</tspan></text>
<text x="328.1" y="81.70" font-size="6.5" font-weight="normal" font-family='"Liberation Sans", sans-serif' fill="#000" textLength="33.50" lengthAdjust="spacingAndGlyphs">= 273.86 cm</text>
<text x="361.80" y="79.40" font-size="4.2" font-weight="normal" font-family='"Liberation Sans", sans-serif' fill="#000">-1</text>
<text x="321.1" y="92.60" font-size="6.5" font-weight="normal" font-family='"Liberation Sans", sans-serif' fill="#000">Γ</text>
<text x="330.0" y="92.60" font-size="6.5" font-weight="normal" font-family='"Liberation Sans", sans-serif' fill="#000" textLength="23.70" lengthAdjust="spacingAndGlyphs">= 1.7 cm</text>
<text x="353.90" y="90.30" font-size="4.2" font-weight="normal" font-family='"Liberation Sans", sans-serif' fill="#000">-1</text>
<text x="319.6" y="101.50" font-size="6.5" font-weight="normal" font-family='"Liberation Sans", sans-serif' fill="#000">ω<tspan font-size="4.2" dy="1.4">0</tspan></text>
<text x="328.7" y="101.50" font-size="6.5" font-weight="normal" font-family='"Liberation Sans", sans-serif' fill="#000" textLength="31.60" lengthAdjust="spacingAndGlyphs">= 257.8 cm</text>
<text x="360.50" y="99.20" font-size="4.2" font-weight="normal" font-family='"Liberation Sans", sans-serif' fill="#000">-1</text>
<text x="323.4" y="111.00" font-size="6.5" font-weight="normal" font-family='"Liberation Sans", sans-serif' fill="#000">q</text>
<text x="330.6" y="111.00" font-size="6.5" font-weight="normal" font-family='"Liberation Sans", sans-serif' fill="#000" textLength="19.20" lengthAdjust="spacingAndGlyphs">= -7.75</text>
<text x="319.6" y="141.40" font-size="6.5" font-weight="normal" font-family='"Liberation Sans", sans-serif' fill="#000">ω<tspan font-size="4.2" dy="1.4">p</tspan></text>
<text x="327.3" y="141.40" font-size="6.5" font-weight="normal" font-family='"Liberation Sans", sans-serif' fill="#000" textLength="29.20" lengthAdjust="spacingAndGlyphs">= 284.6 cm</text>
<text x="356.70" y="139.10" font-size="4.2" font-weight="normal" font-family='"Liberation Sans", sans-serif' fill="#000">-1</text>
<text x="320.8" y="152.10" font-size="6.5" font-weight="normal" font-family='"Liberation Sans", sans-serif' fill="#000">Γ</text>
<text x="330.0" y="152.10" font-size="6.5" font-weight="normal" font-family='"Liberation Sans", sans-serif' fill="#000" textLength="23.20" lengthAdjust="spacingAndGlyphs">= 1.7 cm</text>
<text x="353.40" y="149.80" font-size="4.2" font-weight="normal" font-family='"Liberation Sans", sans-serif' fill="#000">-1</text>
<text x="319.6" y="160.80" font-size="6.5" font-weight="normal" font-family='"Liberation Sans", sans-serif' fill="#000">ω<tspan font-size="4.2" dy="1.4">0</tspan></text>
<text x="328.7" y="160.80" font-size="6.5" font-weight="normal" font-family='"Liberation Sans", sans-serif' fill="#000" textLength="34.50" lengthAdjust="spacingAndGlyphs">= 257.85 cm</text>
<text x="363.40" y="158.50" font-size="4.2" font-weight="normal" font-family='"Liberation Sans", sans-serif' fill="#000">-1</text>
<text x="322.8" y="170.80" font-size="6.5" font-weight="normal" font-family='"Liberation Sans", sans-serif' fill="#000">q</text>
<text x="330.0" y="170.80" font-size="6.5" font-weight="normal" font-family='"Liberation Sans", sans-serif' fill="#000" textLength="15.30" lengthAdjust="spacingAndGlyphs">= -9.5</text>
<text x="378.20" y="12.60" font-size="8" text-anchor="start" font-weight="normal" font-style="normal" fill="#222" font-family='"Liberation Serif", serif' >γ</text>
<text x="378.80" y="74.60" font-size="8" text-anchor="start" font-weight="normal" font-style="normal" fill="#222" font-family='"Liberation Serif", serif' >γ</text>
<text x="380.00" y="130.60" font-size="8" text-anchor="start" font-weight="normal" font-style="normal" fill="#222" font-family='"Liberation Serif", serif' >γ</text>
<text x="391.60" y="38.80" font-size="11" text-anchor="start" font-weight="normal" font-style="normal" fill="#222" font-family='"Liberation Serif", serif' >δ</text>
<line x1="393.90" y1="41.00" x2="393.90" y2="57.00" stroke="#111" stroke-width="0.8" />
<polygon points="392.2,54 395.6,54 393.9,58.5" fill="#111"/>
<text x="392.20" y="157.60" font-size="11" text-anchor="start" font-weight="normal" font-style="normal" fill="#222" font-family='"Liberation Serif", serif' >δ</text>
<line x1="394.50" y1="129.00" x2="394.50" y2="143.50" stroke="#111" stroke-width="0.8" />
<line x1="394.50" y1="164.00" x2="394.50" y2="178.00" stroke="#111" stroke-width="0.8" />
<polygon points="392.8,132 396.2,132 394.5,127.3" fill="#111"/>
<polygon points="392.8,176.5 396.2,176.5 394.5,181.2" fill="#111"/>
<polygon points="393.40,71.93 396.80,78.05 390.00,78.05" fill="#4cb848"/>
<polygon points="393.40,86.77 396.80,80.65 390.00,80.65" fill="#2b3d9e"/>
<polygon points="397.55,90.80 391.97,87.70 391.97,93.90" fill="#4fc3e8"/>
<text x="402" y="77.60" font-size="6.3" font-family='"Liberation Sans", sans-serif' fill="#222"><tspan font-style="italic">T</tspan> = 100K</text>
<text x="402" y="85.50" font-size="6.3" font-family='"Liberation Sans", sans-serif' fill="#222"><tspan font-style="italic">T</tspan> = 50K</text>
<text x="402" y="93.20" font-size="6.3" font-family='"Liberation Sans", sans-serif' fill="#222"><tspan font-style="italic">T</tspan> = 10K</text>
<line x1="386.60" y1="98.40" x2="399.40" y2="98.40" stroke="#e8332c" stroke-width="1.1" />
<text x="402.00" y="100.60" font-size="6.1" text-anchor="start" font-weight="normal" font-style="normal" fill="#222" font-family='"Liberation Sans", sans-serif' >Fano model</text>
<rect x="38.80" y="207.50" width="196.60" height="100.50" fill="none" stroke="#4a4a4a" stroke-width="1"/>
<line x1="38.70" y1="308.00" x2="38.70" y2="305.20" stroke="#4a4a4a" stroke-width="0.9" />
<line x1="38.70" y1="207.50" x2="38.70" y2="210.30" stroke="#4a4a4a" stroke-width="0.9" />
<text x="38.70" y="316.00" font-size="6.6" text-anchor="middle" font-weight="normal" font-style="normal" fill="#222" font-family='"Liberation Sans", sans-serif' >0</text>
<line x1="102.30" y1="308.00" x2="102.30" y2="305.20" stroke="#4a4a4a" stroke-width="0.9" />
<line x1="102.30" y1="207.50" x2="102.30" y2="210.30" stroke="#4a4a4a" stroke-width="0.9" />
<text x="102.30" y="316.00" font-size="6.6" text-anchor="middle" font-weight="normal" font-style="normal" fill="#222" font-family='"Liberation Sans", sans-serif' >100</text>
<line x1="165.90" y1="308.00" x2="165.90" y2="305.20" stroke="#4a4a4a" stroke-width="0.9" />
<line x1="165.90" y1="207.50" x2="165.90" y2="210.30" stroke="#4a4a4a" stroke-width="0.9" />
<text x="165.90" y="316.00" font-size="6.6" text-anchor="middle" font-weight="normal" font-style="normal" fill="#222" font-family='"Liberation Sans", sans-serif' >200</text>
<line x1="229.50" y1="308.00" x2="229.50" y2="305.20" stroke="#4a4a4a" stroke-width="0.9" />
<line x1="229.50" y1="207.50" x2="229.50" y2="210.30" stroke="#4a4a4a" stroke-width="0.9" />
<text x="229.50" y="316.00" font-size="6.6" text-anchor="middle" font-weight="normal" font-style="normal" fill="#222" font-family='"Liberation Sans", sans-serif' >300</text>
<line x1="70.50" y1="308.00" x2="70.50" y2="306.50" stroke="#4a4a4a" stroke-width="0.8" />
<line x1="70.50" y1="207.50" x2="70.50" y2="209.00" stroke="#4a4a4a" stroke-width="0.8" />
<line x1="134.10" y1="308.00" x2="134.10" y2="306.50" stroke="#4a4a4a" stroke-width="0.8" />
<line x1="134.10" y1="207.50" x2="134.10" y2="209.00" stroke="#4a4a4a" stroke-width="0.8" />
<line x1="197.70" y1="308.00" x2="197.70" y2="306.50" stroke="#4a4a4a" stroke-width="0.8" />
<line x1="197.70" y1="207.50" x2="197.70" y2="209.00" stroke="#4a4a4a" stroke-width="0.8" />
<line x1="38.80" y1="257.00" x2="41.30" y2="257.00" stroke="#4a4a4a" stroke-width="0.9" />
<line x1="235.40" y1="257.00" x2="232.90" y2="257.00" stroke="#4a4a4a" stroke-width="0.9" />
<text x="36.00" y="259.40" font-size="6.6" text-anchor="end" font-weight="normal" font-style="normal" fill="#222" font-family='"Liberation Sans", sans-serif' >252</text>
<line x1="38.80" y1="247.90" x2="41.30" y2="247.90" stroke="#4a4a4a" stroke-width="0.9" />
<line x1="235.40" y1="247.90" x2="232.90" y2="247.90" stroke="#4a4a4a" stroke-width="0.9" />
<text x="36.00" y="250.30" font-size="6.6" text-anchor="end" font-weight="normal" font-style="normal" fill="#222" font-family='"Liberation Sans", sans-serif' >254</text>
<line x1="38.80" y1="238.80" x2="41.30" y2="238.80" stroke="#4a4a4a" stroke-width="0.9" />
<line x1="235.40" y1="238.80" x2="232.90" y2="238.80" stroke="#4a4a4a" stroke-width="0.9" />
<text x="36.00" y="241.20" font-size="6.6" text-anchor="end" font-weight="normal" font-style="normal" fill="#222" font-family='"Liberation Sans", sans-serif' >256</text>
<line x1="38.80" y1="229.70" x2="41.30" y2="229.70" stroke="#4a4a4a" stroke-width="0.9" />
<line x1="235.40" y1="229.70" x2="232.90" y2="229.70" stroke="#4a4a4a" stroke-width="0.9" />
<text x="36.00" y="232.10" font-size="6.6" text-anchor="end" font-weight="normal" font-style="normal" fill="#222" font-family='"Liberation Sans", sans-serif' >258</text>
<line x1="38.80" y1="220.60" x2="41.30" y2="220.60" stroke="#4a4a4a" stroke-width="0.9" />
<line x1="235.40" y1="220.60" x2="232.90" y2="220.60" stroke="#4a4a4a" stroke-width="0.9" />
<text x="36.00" y="223.00" font-size="6.6" text-anchor="end" font-weight="normal" font-style="normal" fill="#222" font-family='"Liberation Sans", sans-serif' >260</text>
<line x1="38.80" y1="211.50" x2="41.30" y2="211.50" stroke="#4a4a4a" stroke-width="0.9" />
<line x1="235.40" y1="211.50" x2="232.90" y2="211.50" stroke="#4a4a4a" stroke-width="0.9" />
<text x="36.00" y="213.90" font-size="6.6" text-anchor="end" font-weight="normal" font-style="normal" fill="#222" font-family='"Liberation Sans", sans-serif' >262</text>
<line x1="38.80" y1="252.45" x2="40.30" y2="252.45" stroke="#4a4a4a" stroke-width="0.8" />
<line x1="235.40" y1="252.45" x2="233.90" y2="252.45" stroke="#4a4a4a" stroke-width="0.8" />
<line x1="38.80" y1="243.35" x2="40.30" y2="243.35" stroke="#4a4a4a" stroke-width="0.8" />
<line x1="235.40" y1="243.35" x2="233.90" y2="243.35" stroke="#4a4a4a" stroke-width="0.8" />
<line x1="38.80" y1="234.25" x2="40.30" y2="234.25" stroke="#4a4a4a" stroke-width="0.8" />
<line x1="235.40" y1="234.25" x2="233.90" y2="234.25" stroke="#4a4a4a" stroke-width="0.8" />
<line x1="38.80" y1="225.15" x2="40.30" y2="225.15" stroke="#4a4a4a" stroke-width="0.8" />
<line x1="235.40" y1="225.15" x2="233.90" y2="225.15" stroke="#4a4a4a" stroke-width="0.8" />
<line x1="38.80" y1="216.05" x2="40.30" y2="216.05" stroke="#4a4a4a" stroke-width="0.8" />
<line x1="235.40" y1="216.05" x2="233.90" y2="216.05" stroke="#4a4a4a" stroke-width="0.8" />
<line x1="38.80" y1="307.80" x2="41.30" y2="307.80" stroke="#4a4a4a" stroke-width="0.9" />
<line x1="235.40" y1="307.80" x2="232.90" y2="307.80" stroke="#4a4a4a" stroke-width="0.9" />
<text x="36.00" y="310.20" font-size="6.6" text-anchor="end" font-weight="normal" font-style="normal" fill="#222" font-family='"Liberation Sans", sans-serif' >93</text>
<line x1="38.80" y1="293.40" x2="41.30" y2="293.40" stroke="#4a4a4a" stroke-width="0.9" />
<line x1="235.40" y1="293.40" x2="232.90" y2="293.40" stroke="#4a4a4a" stroke-width="0.9" />
<text x="36.00" y="295.80" font-size="6.6" text-anchor="end" font-weight="normal" font-style="normal" fill="#222" font-family='"Liberation Sans", sans-serif' >94</text>
<line x1="38.80" y1="279.00" x2="41.30" y2="279.00" stroke="#4a4a4a" stroke-width="0.9" />
<line x1="235.40" y1="279.00" x2="232.90" y2="279.00" stroke="#4a4a4a" stroke-width="0.9" />
<text x="36.00" y="281.40" font-size="6.6" text-anchor="end" font-weight="normal" font-style="normal" fill="#222" font-family='"Liberation Sans", sans-serif' >95</text>
<line x1="38.80" y1="264.60" x2="41.30" y2="264.60" stroke="#4a4a4a" stroke-width="0.9" />
<line x1="235.40" y1="264.60" x2="232.90" y2="264.60" stroke="#4a4a4a" stroke-width="0.9" />
<text x="36.00" y="267.00" font-size="6.6" text-anchor="end" font-weight="normal" font-style="normal" fill="#222" font-family='"Liberation Sans", sans-serif' >96</text>
<line x1="38.80" y1="300.60" x2="40.30" y2="300.60" stroke="#4a4a4a" stroke-width="0.8" />
<line x1="235.40" y1="300.60" x2="233.90" y2="300.60" stroke="#4a4a4a" stroke-width="0.8" />
<line x1="38.80" y1="286.20" x2="40.30" y2="286.20" stroke="#4a4a4a" stroke-width="0.8" />
<line x1="235.40" y1="286.20" x2="233.90" y2="286.20" stroke="#4a4a4a" stroke-width="0.8" />
<line x1="38.80" y1="271.80" x2="40.30" y2="271.80" stroke="#4a4a4a" stroke-width="0.8" />
<line x1="235.40" y1="271.80" x2="233.90" y2="271.80" stroke="#4a4a4a" stroke-width="0.8" />
<rect x="36.8" y="256.2" width="4" height="2.6" fill="#fff"/>
<line x1="36.60" y1="257.40" x2="41.00" y2="255.60" stroke="#4a4a4a" stroke-width="0.7" />
<line x1="36.60" y1="259.40" x2="41.00" y2="257.60" stroke="#4a4a4a" stroke-width="0.7" />
<rect x="233.4" y="256.2" width="4" height="2.6" fill="#fff"/>
<line x1="233.20" y1="257.40" x2="237.60" y2="255.60" stroke="#4a4a4a" stroke-width="0.7" />
<line x1="233.20" y1="259.40" x2="237.60" y2="257.60" stroke="#4a4a4a" stroke-width="0.7" />
<line x1="127.3" y1="207.5" x2="127.3" y2="308.0" stroke="#aaa" stroke-width="1" stroke-dasharray="7,3.5"/>
<line x1="46.50" y1="212.40" x2="66.50" y2="212.40" stroke="#8a8a8a" stroke-width="0.8" />
<line x1="74.49" y1="212.74" x2="98.31" y2="214.76" stroke="#8a8a8a" stroke-width="0.8" />
<line x1="105.98" y1="216.68" x2="130.32" y2="227.12" stroke="#8a8a8a" stroke-width="0.8" />
<line x1="46.50" y1="230.10" x2="66.50" y2="230.10" stroke="#666" stroke-width="0.8" />
<line x1="74.49" y1="230.41" x2="98.31" y2="232.29" stroke="#666" stroke-width="0.8" />
<line x1="106.27" y1="232.11" x2="130.03" y2="229.19" stroke="#666" stroke-width="0.8" />
<line x1="137.88" y1="229.67" x2="221.82" y2="250.53" stroke="#666" stroke-width="0.8" />
<line x1="49.37" y1="262.66" x2="66.53" y2="264.64" stroke="#777" stroke-width="0.8" />
<line x1="74.50" y1="265.10" x2="98.30" y2="265.10" stroke="#777" stroke-width="0.8" />
<line x1="105.63" y1="267.32" x2="130.97" y2="284.18" stroke="#777" stroke-width="0.8" />
<line x1="49.38" y1="299.58" x2="66.52" y2="301.22" stroke="#333" stroke-width="0.9" />
<line x1="74.43" y1="300.83" x2="98.37" y2="296.17" stroke="#333" stroke-width="0.9" />
<line x1="106.15" y1="294.32" x2="130.45" y2="287.48" stroke="#333" stroke-width="0.9" />
<line x1="138.27" y1="286.90" x2="222.33" y2="297.40" stroke="#333" stroke-width="0.9" />
<circle cx="42.50" cy="212.40" r="2.50" fill="#e8141c"/>
<circle cx="70.50" cy="212.40" r="2.50" fill="#e8141c"/>
<circle cx="102.30" cy="215.10" r="2.50" fill="#e8141c"/>
<rect x="40.20" y="227.80" width="4.60" height="4.60" fill="#000"/>
<rect x="68.20" y="227.80" width="4.60" height="4.60" fill="#000"/>
<rect x="100.00" y="230.30" width="4.60" height="4.60" fill="#000"/>
<rect x="131.70" y="226.40" width="4.60" height="4.60" fill="#000"/>
<rect x="223.40" y="249.20" width="4.60" height="4.60" fill="#000"/>
<line x1="45.40" y1="258.70" x2="45.40" y2="265.70" stroke="#e8141c" stroke-width="0.6" />
<polygon points="45.40,265.12 48.10,260.26 42.70,260.26" fill="#e8141c"/>
<line x1="70.50" y1="261.60" x2="70.50" y2="268.60" stroke="#e8141c" stroke-width="0.6" />
<polygon points="70.50,268.02 73.20,263.16 67.80,263.16" fill="#e8141c"/>
<line x1="102.30" y1="261.60" x2="102.30" y2="268.60" stroke="#e8141c" stroke-width="0.6" />
<polygon points="102.30,268.02 105.00,263.16 99.60,263.16" fill="#e8141c"/>
<line x1="45.40" y1="295.70" x2="45.40" y2="302.70" stroke="#000" stroke-width="0.6" />
<polygon points="45.40,296.28 48.10,301.14 42.70,301.14" fill="#000"/>
<line x1="70.50" y1="298.10" x2="70.50" y2="305.10" stroke="#000" stroke-width="0.6" />
<polygon points="70.50,298.68 73.20,303.54 67.80,303.54" fill="#000"/>
<line x1="102.30" y1="291.90" x2="102.30" y2="298.90" stroke="#000" stroke-width="0.6" />
<polygon points="102.30,292.48 105.00,297.34 99.60,297.34" fill="#000"/>
<line x1="134.30" y1="282.90" x2="134.30" y2="289.90" stroke="#000" stroke-width="0.6" />
<polygon points="134.30,283.48 137.00,288.34 131.60,288.34" fill="#000"/>
<line x1="226.30" y1="294.40" x2="226.30" y2="301.40" stroke="#000" stroke-width="0.6" />
<polygon points="226.30,294.98 229.00,299.84 223.60,299.84" fill="#000"/>
<line x1="175.50" y1="216.60" x2="193.50" y2="216.60" stroke="#777" stroke-width="0.8" />
<circle cx="184.20" cy="216.60" r="3.60" fill="#e8141c"/>
<text x="193.8" y="219.20" font-size="10.5" font-family='"Liberation Serif", serif' fill="#222">ω<tspan font-size="6.2" dy="2.4" font-family='"Liberation Sans", sans-serif'>0</tspan><tspan dy="-2.4" font-size="10.5" dx="3.0">(δ)</tspan></text>
<line x1="175.50" y1="232.20" x2="193.50" y2="232.20" stroke="#777" stroke-width="0.8" />
<rect x="181.40" y="229.20" width="6.00" height="6.00" fill="#000"/>
<text x="193.8" y="234.80" font-size="10.5" font-family='"Liberation Serif", serif' fill="#222">ω<tspan font-size="6.2" dy="2.4" font-family='"Liberation Sans", sans-serif'>0</tspan><tspan dy="-2.4" font-size="10.5" dx="3.0">(γ)</tspan></text>
<line x1="175.50" y1="259.00" x2="193.50" y2="259.00" stroke="#777" stroke-width="0.8" />
<polygon points="184.40,263.54 188.60,255.98 180.20,255.98" fill="#e8141c"/>
<text x="193.8" y="261.60" font-size="10.5" font-family='"Liberation Serif", serif' fill="#222">ω<tspan font-size="6.2" dy="2.4" font-family='"Liberation Sans", sans-serif'>0</tspan><tspan dy="-2.4" font-size="10.5" dx="3.0">(α)</tspan></text>
<line x1="175.50" y1="274.80" x2="193.50" y2="274.80" stroke="#777" stroke-width="0.8" />
<polygon points="184.40,270.26 188.60,277.82 180.20,277.82" fill="#000"/>
<text x="193.8" y="277.40" font-size="10.5" font-family='"Liberation Serif", serif' fill="#222">ω<tspan font-size="6.2" dy="2.4" font-family='"Liberation Sans", sans-serif'>0</tspan><tspan dy="-2.4" font-size="10.5" dx="3.0">(β)</tspan></text>
<text x="220.80" y="219.10" font-size="9.2" text-anchor="start" font-weight="bold" font-style="normal" fill="#222" font-family='"Liberation Sans", sans-serif' >(d)</text>
<text transform="translate(18.6,266.5) rotate(-90)" font-size="6.6" font-family='"Liberation Sans", sans-serif' fill="#222">ω<tspan font-size="4.5" dy="1.5">0</tspan><tspan dy="-1.5">(cm</tspan><tspan font-size="4.5" dy="-2.4">-1</tspan><tspan dy="2.4">)</tspan></text>
<text x="137.20" y="324.00" font-size="7.0" text-anchor="middle" font-weight="normal" font-style="normal" fill="#222" font-family='"Liberation Sans", sans-serif' >Temperature (K)</text>
<rect x="271.70" y="206.90" width="160.60" height="100.30" fill="none" stroke="#4a4a4a" stroke-width="1"/>
<line x1="272.00" y1="307.20" x2="272.00" y2="304.40" stroke="#4a4a4a" stroke-width="0.9" />
<line x1="272.00" y1="206.90" x2="272.00" y2="209.70" stroke="#4a4a4a" stroke-width="0.9" />
<text x="272.00" y="316.00" font-size="6.6" text-anchor="middle" font-weight="normal" font-style="normal" fill="#222" font-family='"Liberation Sans", sans-serif' >0</text>
<line x1="325.43" y1="307.20" x2="325.43" y2="304.40" stroke="#4a4a4a" stroke-width="0.9" />
<line x1="325.43" y1="206.90" x2="325.43" y2="209.70" stroke="#4a4a4a" stroke-width="0.9" />
<text x="325.43" y="316.00" font-size="6.6" text-anchor="middle" font-weight="normal" font-style="normal" fill="#222" font-family='"Liberation Sans", sans-serif' >100</text>
<line x1="378.86" y1="307.20" x2="378.86" y2="304.40" stroke="#4a4a4a" stroke-width="0.9" />
<line x1="378.86" y1="206.90" x2="378.86" y2="209.70" stroke="#4a4a4a" stroke-width="0.9" />
<text x="378.86" y="316.00" font-size="6.6" text-anchor="middle" font-weight="normal" font-style="normal" fill="#222" font-family='"Liberation Sans", sans-serif' >200</text>
<line x1="432.29" y1="307.20" x2="432.29" y2="304.40" stroke="#4a4a4a" stroke-width="0.9" />
<line x1="432.29" y1="206.90" x2="432.29" y2="209.70" stroke="#4a4a4a" stroke-width="0.9" />
<text x="432.29" y="316.00" font-size="6.6" text-anchor="middle" font-weight="normal" font-style="normal" fill="#222" font-family='"Liberation Sans", sans-serif' >300</text>
<line x1="298.71" y1="307.20" x2="298.71" y2="305.70" stroke="#4a4a4a" stroke-width="0.8" />
<line x1="298.71" y1="206.90" x2="298.71" y2="208.40" stroke="#4a4a4a" stroke-width="0.8" />
<line x1="352.14" y1="307.20" x2="352.14" y2="305.70" stroke="#4a4a4a" stroke-width="0.8" />
<line x1="352.14" y1="206.90" x2="352.14" y2="208.40" stroke="#4a4a4a" stroke-width="0.8" />
<line x1="405.57" y1="307.20" x2="405.57" y2="305.70" stroke="#4a4a4a" stroke-width="0.8" />
<line x1="405.57" y1="206.90" x2="405.57" y2="208.40" stroke="#4a4a4a" stroke-width="0.8" />
<line x1="271.70" y1="291.55" x2="274.50" y2="291.55" stroke="#4a4a4a" stroke-width="0.9" />
<line x1="432.30" y1="291.55" x2="429.50" y2="291.55" stroke="#4a4a4a" stroke-width="0.9" />
<text x="270.80" y="293.95" font-size="6.6" text-anchor="end" font-weight="normal" font-style="normal" fill="#222" font-family='"Liberation Sans", sans-serif' >150</text>
<line x1="271.70" y1="264.90" x2="274.50" y2="264.90" stroke="#4a4a4a" stroke-width="0.9" />
<line x1="432.30" y1="264.90" x2="429.50" y2="264.90" stroke="#4a4a4a" stroke-width="0.9" />
<text x="270.80" y="267.30" font-size="6.6" text-anchor="end" font-weight="normal" font-style="normal" fill="#222" font-family='"Liberation Sans", sans-serif' >200</text>
<line x1="271.70" y1="238.25" x2="274.50" y2="238.25" stroke="#4a4a4a" stroke-width="0.9" />
<line x1="432.30" y1="238.25" x2="429.50" y2="238.25" stroke="#4a4a4a" stroke-width="0.9" />
<text x="270.80" y="240.65" font-size="6.6" text-anchor="end" font-weight="normal" font-style="normal" fill="#222" font-family='"Liberation Sans", sans-serif' >250</text>
<line x1="271.70" y1="211.60" x2="274.50" y2="211.60" stroke="#4a4a4a" stroke-width="0.9" />
<line x1="432.30" y1="211.60" x2="429.50" y2="211.60" stroke="#4a4a4a" stroke-width="0.9" />
<text x="270.80" y="214.00" font-size="6.6" text-anchor="end" font-weight="normal" font-style="normal" fill="#222" font-family='"Liberation Sans", sans-serif' >300</text>
<line x1="271.70" y1="304.88" x2="273.20" y2="304.88" stroke="#4a4a4a" stroke-width="0.8" />
<line x1="432.30" y1="304.88" x2="430.80" y2="304.88" stroke="#4a4a4a" stroke-width="0.8" />
<line x1="271.70" y1="278.23" x2="273.20" y2="278.23" stroke="#4a4a4a" stroke-width="0.8" />
<line x1="432.30" y1="278.23" x2="430.80" y2="278.23" stroke="#4a4a4a" stroke-width="0.8" />
<line x1="271.70" y1="251.57" x2="273.20" y2="251.57" stroke="#4a4a4a" stroke-width="0.8" />
<line x1="432.30" y1="251.57" x2="430.80" y2="251.57" stroke="#4a4a4a" stroke-width="0.8" />
<line x1="271.70" y1="224.92" x2="273.20" y2="224.92" stroke="#4a4a4a" stroke-width="0.8" />
<line x1="432.30" y1="224.92" x2="430.80" y2="224.92" stroke="#4a4a4a" stroke-width="0.8" />
<line x1="344" y1="206.9" x2="344" y2="307.2" stroke="#aaa" stroke-width="1" stroke-dasharray="7,3.5"/>
<line x1="278.79" y1="220.92" x2="294.31" y2="224.58" stroke="#555" stroke-width="0.8" />
<line x1="301.93" y1="226.94" x2="321.37" y2="234.46" stroke="#555" stroke-width="0.8" />
<line x1="328.35" y1="238.23" x2="348.65" y2="252.77" stroke="#555" stroke-width="0.8" />
<line x1="355.89" y1="255.39" x2="425.61" y2="260.41" stroke="#555" stroke-width="0.8" />
<line x1="278.12" y1="291.69" x2="296.98" y2="232.51" stroke="#666" stroke-width="0.8" />
<line x1="301.56" y1="226.53" x2="321.74" y2="213.47" stroke="#666" stroke-width="0.8" />
<line x1="328.94" y1="212.43" x2="348.06" y2="218.07" stroke="#666" stroke-width="0.8" />
<line x1="355.86" y1="219.76" x2="425.64" y2="229.64" stroke="#666" stroke-width="0.8" />
<line x1="280.79" y1="296.65" x2="294.31" y2="293.35" stroke="#666" stroke-width="0.8" />
<line x1="301.81" y1="290.67" x2="321.49" y2="281.23" stroke="#666" stroke-width="0.8" />
<line x1="326.72" y1="275.84" x2="350.28" y2="222.86" stroke="#666" stroke-width="0.8" />
<rect x="272.65" y="217.75" width="4.50" height="4.50" fill="#000"/>
<rect x="295.95" y="223.25" width="4.50" height="4.50" fill="#000"/>
<rect x="322.85" y="233.65" width="4.50" height="4.50" fill="#000"/>
<rect x="349.65" y="252.85" width="4.50" height="4.50" fill="#000"/>
<rect x="427.35" y="258.45" width="4.50" height="4.50" fill="#000"/>
<circle cx="276.90" cy="295.50" r="2.50" fill="#e8141c"/>
<circle cx="298.20" cy="228.70" r="2.50" fill="#e8141c"/>
<circle cx="325.10" cy="211.30" r="2.50" fill="#e8141c"/>
<circle cx="351.90" cy="219.20" r="2.50" fill="#e8141c"/>
<circle cx="429.60" cy="230.20" r="2.50" fill="#e8141c"/>
<polygon points="276.90,294.58 279.70,299.62 274.10,299.62" fill="#4cb848"/>
<polygon points="298.20,289.38 301.00,294.42 295.40,294.42" fill="#4cb848"/>
<polygon points="325.10,276.48 327.90,281.52 322.30,281.52" fill="#4cb848"/>
<line x1="370.00" y1="267.40" x2="387.80" y2="267.40" stroke="#777" stroke-width="0.8" />
<rect x="375.85" y="264.45" width="5.90" height="5.90" fill="#000"/>
<text x="388.1" y="270.00" font-size="10.5" font-family='"Liberation Serif", serif' fill="#222">ω<tspan font-size="6.2" dy="2.4" font-family='"Liberation Sans", sans-serif'>p</tspan><tspan dy="-2.4" font-size="10.5" dx="3.0">(γ)</tspan></text>
<line x1="370.00" y1="282.70" x2="387.80" y2="282.70" stroke="#777" stroke-width="0.8" />
<circle cx="378.80" cy="282.70" r="3.65" fill="#e8141c"/>
<text x="388.1" y="285.30" font-size="10.5" font-family='"Liberation Serif", serif' fill="#222">ω<tspan font-size="6.2" dy="2.4" font-family='"Liberation Sans", sans-serif'>p</tspan><tspan dy="-2.4" font-size="10.5" dx="3.0">(β)</tspan></text>
<line x1="370.00" y1="298.20" x2="387.80" y2="298.20" stroke="#777" stroke-width="0.8" />
<polygon points="379.30,293.50 383.65,301.33 374.95,301.33" fill="#4cb848"/>
<text x="388.1" y="300.80" font-size="10.5" font-family='"Liberation Serif", serif' fill="#222">ω<tspan font-size="6.2" dy="2.4" font-family='"Liberation Sans", sans-serif'>p</tspan><tspan dy="-2.4" font-size="10.5" dx="3.0">(α)</tspan></text>
<text x="415.70" y="219.50" font-size="9.2" text-anchor="start" font-weight="bold" font-style="normal" fill="#222" font-family='"Liberation Sans", sans-serif' >(e)</text>
<text transform="translate(253.8,266.8) rotate(-90)" font-size="6.6" font-family='"Liberation Sans", sans-serif' fill="#222">ω<tspan font-size="4.5" dy="1.5">p</tspan><tspan dy="-1.5"> (cm</tspan><tspan font-size="4.5" dy="-2.4">-1</tspan><tspan dy="2.4">)</tspan></text>
<text x="353.00" y="323.80" font-size="7.1" text-anchor="middle" font-weight="normal" font-style="normal" fill="#222" font-family='"Liberation Sans", sans-serif' >Temperature (K)</text>
</svg></body></html>
